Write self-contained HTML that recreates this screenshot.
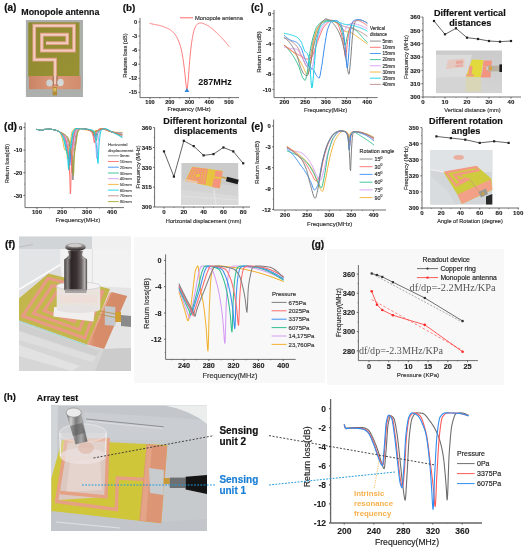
<!DOCTYPE html><html><head><meta charset="utf-8"><style>html,body{margin:0;padding:0;background:#fff;}svg{display:block}</style></head><body>
<svg width="526" height="550" viewBox="0 0 526 550">
<rect width="526" height="550" fill="#ffffff"/>
<rect x="134" y="237" width="191" height="146" fill="#f8f8f8"/>
<rect x="327" y="249" width="177" height="136" fill="#f8f8f8"/>
<defs>
<linearGradient id="gA_cu" x1="0" y1="0" x2="1" y2="0"><stop offset="0" stop-color="#c98466"/><stop offset="0.5" stop-color="#dc9a7a"/><stop offset="1" stop-color="#d08c6c"/></linearGradient>
<linearGradient id="gA_ol" x1="0" y1="0" x2="1" y2="1"><stop offset="0" stop-color="#8e8830"/><stop offset="1" stop-color="#999234"/></linearGradient>
<linearGradient id="gW" x1="0" y1="0" x2="1" y2="0"><stop offset="0" stop-color="#4a4444"/><stop offset="0.15" stop-color="#8a8686"/><stop offset="0.3" stop-color="#2e2626"/><stop offset="0.55" stop-color="#3c3434"/><stop offset="0.75" stop-color="#6a6262"/><stop offset="0.9" stop-color="#b8b4b4"/><stop offset="1" stop-color="#4a4444"/></linearGradient>
<linearGradient id="gWk" x1="0" y1="0" x2="0" y2="1"><stop offset="0" stop-color="#b8b4b4"/><stop offset="0.45" stop-color="#8a8484"/><stop offset="0.8" stop-color="#3e3838"/><stop offset="1" stop-color="#5a5454"/></linearGradient>
<linearGradient id="gWh" x1="0" y1="0" x2="1" y2="0"><stop offset="0" stop-color="#707070"/><stop offset="0.2" stop-color="#d0d0d0"/><stop offset="0.45" stop-color="#7a7a7a"/><stop offset="0.7" stop-color="#a8a8a8"/><stop offset="1" stop-color="#606060"/></linearGradient>
<linearGradient id="gD_pcb" x1="0" y1="0" x2="1" y2="0"><stop offset="0" stop-color="#f09a80"/><stop offset="0.5" stop-color="#e6b448"/><stop offset="1" stop-color="#eea078"/></linearGradient>
<linearGradient id="gC_bg" x1="0" y1="0" x2="0" y2="1"><stop offset="0" stop-color="#cbcbcb"/><stop offset="1" stop-color="#d4d4d4"/></linearGradient>
<linearGradient id="gF_cu" x1="0" y1="0" x2="1" y2="0"><stop offset="0" stop-color="#e6a086"/><stop offset="0.2" stop-color="#d88c6a"/><stop offset="1" stop-color="#d48a68"/></linearGradient>
</defs>
<rect x="25.9" y="20" width="57.1" height="77" fill="#adafad"/>
<rect x="28.3" y="22.3" width="51.2" height="55" fill="url(#gA_ol)"/>
<rect x="29" y="76" width="51.6" height="13.2" fill="url(#gA_cu)"/>
<path d="M55.1,84 V59.7 H34.25 V25.7 H74 V50.6 H41.8 V34.7 H67.2 V43.1 H46" fill="none" stroke="#e0a088" stroke-width="3.7" stroke-linejoin="miter"/>
<path d="M55.1,84 V59.7 H34.25 V25.7 H74 V50.6 H41.8 V34.7 H67.2 V43.1 H46" fill="none" stroke="#f4d2c4" stroke-width="1.9" stroke-linejoin="miter" opacity="0.9"/>
<line x1="53.2" y1="76" x2="53.2" y2="86" stroke="#6a5040" stroke-width="0.6"/>
<line x1="57" y1="76" x2="57" y2="86" stroke="#6a5040" stroke-width="0.6"/>
<ellipse cx="49.5" cy="83" rx="3.2" ry="3.6" fill="#cfd2d2"/>
<ellipse cx="60.5" cy="82.5" rx="3.2" ry="3.8" fill="#d6d9d9"/>
<rect x="52.6" y="87" width="4.4" height="8.4" fill="#b08c3a"/>
<rect x="53.3" y="88" width="3" height="3.5" fill="#d8b860"/>
<rect x="436" y="50.5" width="66" height="42.599999999999994" fill="url(#gC_bg)"/>
<polygon points="436.0,54.8 472.0,54.8 466.0,77.0 436.0,78.0" fill="#dcdcdc"/>
<polygon points="436.0,78.0 466.0,77.0 466.0,93.1 436.0,93.1" fill="#d4d4d4"/>
<polygon points="448.0,60.0 464.5,58.5 464.5,67.0 446.0,69.0" fill="#eeb4a4" opacity="0.5"/>
<polygon points="456.0,61.0 463.0,60.5 463.0,63.5 456.0,64.0" fill="#ec9080" opacity="0.6"/>
<polygon points="455.5,65.0 463.0,64.5 463.0,66.5 455.5,67.0" fill="#ec9080" opacity="0.5"/>
<polygon points="472.0,59.5 483.5,60.0 480.7,77.6 465.9,76.6" fill="#e2da3c"/>
<polygon points="465.9,77.0 481.2,77.6 481.2,91.8 465.5,91.8" fill="#d8d6b6"/>
<polygon points="469.3,66.0 472.6,66.0 471.6,74.5 468.2,74.5" fill="#f29a80"/>
<polygon points="466.5,74.2 474.0,74.4 473.8,76.4 466.2,76.2" fill="#f29a80"/>
<polygon points="483.5,60.5 492.0,60.5 491.5,66.5 483.0,66.5" fill="#f29580"/>
<polygon points="482.6,70.0 491.0,70.0 490.6,77.6 480.7,77.6" fill="#f29580"/>
<polygon points="483.0,66.5 486.5,66.5 486.3,70.0 482.6,70.0" fill="#f29580"/>
<rect x="488" y="65.7" width="11.7" height="5.7" fill="#b8b0a0"/>
<rect x="489" y="66.6" width="3" height="3.6" fill="#d8a040"/>
<rect x="499.4" y="64.4" width="2.6" height="7.6" fill="#1a1a1a"/>
<rect x="181.4" y="163" width="56.79999999999998" height="42" fill="#cbcbcb"/>
<polygon points="181.4,180.0 238.2,186.0 238.2,205.0 181.4,205.0" fill="#d3d3d3"/>
<polygon points="181.4,190.0 238.2,196.0 238.2,205.0 181.4,205.0" fill="#d9d9d9"/>
<line x1="181.4" y1="196" x2="238.2" y2="200" stroke="#e2e2e2" stroke-width="1"/>
<line x1="214" y1="190" x2="216" y2="205" stroke="#e4e4e4" stroke-width="1.2"/>
<polygon points="192.0,166.8 222.8,170.8 219.9,188.5 185.1,181.1" fill="#e6c440"/>
<polygon points="192.8,168.1 206.9,169.8 204.6,183.5 187.2,180.5" fill="none" stroke="#f29478" stroke-width="1.7"/>
<polygon points="194.4,170.4 204.0,171.6 202.4,180.9 190.6,178.9" fill="none" stroke="#f29478" stroke-width="1.7"/>
<polygon points="196.0,172.8 201.1,173.4 200.3,178.4 194.0,177.3" fill="none" stroke="#f29478" stroke-width="1.7"/>
<polygon points="186.0,179.0 198.0,181.5 197.0,184.0 185.1,181.1" fill="#e8e0d8" opacity="0.6"/>
<polygon points="215.5,170.6 222.6,171.4 221.6,177.2 214.6,176.4" fill="#f4947c"/>
<polygon points="213.6,178.2 220.9,179.0 219.7,188.3 212.1,187.0" fill="#f4947c"/>
<line x1="221.5" y1="177" x2="227" y2="178.5" stroke="#c8a050" stroke-width="1.6"/>
<line x1="226.5" y1="179" x2="238.2" y2="182" stroke="#1c1c1c" stroke-width="4.6"/>
<rect x="430.3" y="150" width="62.0" height="54.599999999999994" fill="#d2d6d8"/>
<polygon points="430.3,150.0 492.3,150.0 492.3,172.0 446.0,172.5 430.3,169.5" fill="#e0e3e5"/>
<line x1="430.3" y1="169.5" x2="446" y2="172.5" stroke="#f2f2f2" stroke-width="1"/>
<ellipse cx="458.7" cy="157.4" rx="5.2" ry="2.4" fill="#eca08e" opacity="0.8"/>
<polygon points="430.3,176.0 447.0,190.0 455.0,204.6 430.3,204.6" fill="#d8dcde"/>
<polygon points="443.7,172.5 476.9,166.2 491.4,178.7 492.3,190.0 461.9,204.0 458.1,195.7" fill="#cfcb3e"/>
<polygon points="457.5,194.4 490.7,179.4 492.3,189.6 461.9,204.0" fill="#f2a088"/>
<polyline points="469.4,178.7 456.2,185.6 446.0,172.4 476.3,166.9 478.4,170.2 454.3,175.0 459.6,181.4 466.5,178.0" fill="none" stroke="#f29a84" stroke-width="2.3" stroke-linejoin="miter"/>
<polyline points="462.5,177.2 458.5,173.8 472.5,171.2" fill="none" stroke="#f29a84" stroke-width="1.6"/>
<line x1="469.4" y1="178.7" x2="481" y2="194.4" stroke="#c8a070" stroke-width="0.9"/>
<polygon points="478.5,192.0 486.0,188.5 488.0,194.0 481.0,197.5" fill="#9a9a90"/>
<rect x="481.5" y="192.5" width="2.6" height="2.6" fill="#d0a040"/>
<polygon points="486.0,196.5 492.3,194.0 492.3,204.6 486.0,204.6" fill="#2a2a2a"/>
<rect x="19" y="236.6" width="112" height="134.4" fill="#e4e4e4"/>
<rect x="19" y="236.6" width="73" height="12.5" fill="#d2d5d8"/>
<rect x="92" y="236.6" width="39" height="12.5" fill="#f0f0f0"/>
<line x1="19" y1="247" x2="33" y2="244.5" stroke="#b8b8b8" stroke-width="0.8"/>
<polygon points="19.0,249.0 60.3,249.0 60.3,265.0 19.0,290.0" fill="#e2e4e6"/>
<polygon points="60.3,249.0 131.0,249.0 131.0,288.0 110.0,287.0 60.3,283.0" fill="#f2f2f2"/>
<line x1="92.4" y1="249" x2="92.4" y2="284" stroke="#e0e0e0" stroke-width="1"/>
<line x1="19" y1="289.5" x2="60.3" y2="264.8" stroke="#fbfbfb" stroke-width="1.6"/>
<polygon points="19.0,291.0 60.3,266.0 62.0,276.0 19.0,299.0" fill="#dedede"/>
<polygon points="48.5,273.5 110.0,289.0 88.0,345.0 19.0,320.5 19.0,298.5" fill="#c2b64c"/>
<polygon points="48.0,278.3 102.6,291.9 84.7,338.0 22.7,315.9" fill="none" stroke="#e89a86" stroke-width="3.0" stroke-linejoin="miter"/>
<polygon points="52.2,285.4 92.8,295.5 79.5,329.8 33.4,313.4" fill="none" stroke="#e89a86" stroke-width="3.0" stroke-linejoin="miter"/>
<polygon points="56.5,292.4 83.1,299.1 74.4,321.6 44.0,310.8" fill="none" stroke="#e89a86" stroke-width="3.0" stroke-linejoin="miter"/>
<polygon points="111.6,292.0 127.2,296.0 104.1,349.0 86.9,344.5" fill="url(#gF_cu)"/>
<line x1="110.5" y1="292.5" x2="88" y2="344.5" stroke="#eaa48a" stroke-width="1.6"/>
<polygon points="104.8,306.0 115.3,307.0 115.3,326.0 104.8,325.0" fill="#c4c8cc"/>
<line x1="100" y1="311" x2="116" y2="314" stroke="#b89040" stroke-width="0.8"/>
<line x1="100" y1="314.5" x2="116" y2="317.5" stroke="#b89040" stroke-width="0.8"/>
<rect x="115.5" y="312" width="5.5" height="10" fill="#cfa030"/>
<polygon points="121.0,315.0 131.0,316.0 131.0,327.0 121.0,326.0" fill="#8a8a8a"/>
<polygon points="19.0,320.5 88.0,345.0 104.0,349.0 131.0,348.0 131.0,371.0 19.0,371.0" fill="#d6d6d6"/>
<line x1="19" y1="321" x2="87" y2="345.5" stroke="#98d4cc" stroke-width="0.9"/>
<polygon points="19.0,323.0 100.0,351.0 96.0,356.0 19.0,331.0" fill="#cfcfcf"/>
<polygon points="19.0,331.0 96.0,357.0 92.0,362.0 19.0,340.0" fill="#dedede"/>
<polygon points="19.0,345.0 80.0,366.0 72.0,371.0 19.0,356.0" fill="#e2e2e2"/>
<polygon points="104.0,349.0 131.0,348.0 131.0,371.0 95.0,371.0" fill="#cccccc"/>
<polygon points="54.2,307.0 95.0,307.5 93.5,321.6 53.3,316.6" fill="#f1eeee"/>
<rect x="56.7" y="286" width="43.5" height="23" fill="#ece8e8" opacity="0.92"/>
<ellipse cx="78.5" cy="309" rx="21.8" ry="4" fill="#e6e2e2"/>
<ellipse cx="78.5" cy="286" rx="21.8" ry="4" fill="#f4f2f2" stroke="#cfcfcf" stroke-width="0.8"/>
<rect x="60" y="295" width="37" height="8" fill="#f0dcd6" opacity="0.6"/>
<rect x="64.2" y="258.5" width="22.9" height="32" rx="1.5" fill="url(#gW)"/>
<rect x="65" y="289" width="21.5" height="4" fill="#9a9494" opacity="0.8"/>
<path d="M67.8,251 L83.2,251 L82,255 L86,259 L65.5,259 L69,255 Z" fill="url(#gW)"/>
<ellipse cx="75.5" cy="247" rx="10.4" ry="4.3" fill="url(#gWk)"/>
<ellipse cx="75" cy="245.4" rx="7" ry="1.8" fill="#d8d4d4" opacity="0.85"/>
<rect x="51" y="405.6" width="156" height="125.39999999999998" fill="#c6cacd"/>
<polygon points="51.0,405.6 207.0,405.6 207.0,440.0 51.0,440.0" fill="#c3c7cb"/>
<polygon points="84.0,412.0 207.0,420.0 207.0,440.0 84.0,440.0" fill="#cacdd1"/>
<path d="M165,405.6 H207 V424 Q190,410 165,405.6 Z" fill="#eceded"/>
<rect x="51" y="405.6" width="4" height="110" fill="#b4b8bc"/>
<line x1="86" y1="419" x2="163.7" y2="426.8" stroke="#8e9296" stroke-width="1"/>
<line x1="86" y1="421" x2="163" y2="428.6" stroke="#dfe1e3" stroke-width="0.8"/>
<polygon points="51.0,405.6 58.0,405.6 56.0,505.0 51.0,510.0" fill="#d2d5d8"/>
<polygon points="51.0,509.0 158.0,522.0 207.0,519.0 207.0,531.0 51.0,531.0" fill="#c2c6ca"/>
<line x1="56" y1="522" x2="120" y2="528" stroke="#dfe1e3" stroke-width="1.2"/>
<polygon points="62.0,440.0 167.3,445.1 161.2,523.2 51.4,511.0 51.4,478.0" fill="#d0c63a"/>
<polygon points="64.0,442.0 108.0,440.0 106.0,497.0 58.0,500.0" fill="#dcc8c0"/>
<polygon points="70.0,462.0 100.0,458.0 102.0,490.0 66.0,492.0" fill="#e6d6d0" opacity="0.85"/>
<polyline points="152.0,479.8 117.3,478.0 116.4,509.5 56.5,501.5 64.8,451.0 66.0,441.0 108.0,439.5 106.0,497.0 60.0,492.5" fill="none" stroke="#e6a084" stroke-width="3.4" stroke-linejoin="miter"/>
<polygon points="146.6,443.9 167.3,445.9 161.2,523.2 139.3,520.7" fill="#dc9676"/>
<polygon points="147.0,445.0 152.0,445.5 146.0,521.0 140.5,520.5" fill="#e6a88c" opacity="0.8"/>
<polygon points="149.0,468.0 163.7,470.0 163.7,495.0 150.0,493.0" fill="#c8ccce"/>
<rect x="163.7" y="478" width="6.1" height="6" fill="#c89a3a"/>
<rect x="169.8" y="477.6" width="15.8" height="10.4" fill="#6c7072"/>
<polygon points="185.6,476.8 207.0,475.0 207.0,494.0 185.6,489.5" fill="#141414"/>
<ellipse cx="83" cy="456" rx="23.4" ry="8" fill="#ece2e0" opacity="0.75"/>
<rect x="59.6" y="433" width="46.8" height="23" fill="#e8e0de" opacity="0.4"/>
<ellipse cx="83" cy="433" rx="23.4" ry="9" fill="#e0e0e2" opacity="0.45" stroke="#f6f4f4" stroke-width="1.4"/>
<line x1="59.8" y1="433" x2="60.5" y2="456" stroke="#f0eeee" stroke-width="1.2"/>
<line x1="106.2" y1="433" x2="105.5" y2="456" stroke="#f0eeee" stroke-width="1.2"/>
<ellipse cx="86" cy="448" rx="8" ry="6" fill="#e0b4a4" opacity="0.6"/>
<polygon points="66.7,414.5 80.5,410.5 87.5,441.5 75.5,444.5" fill="url(#gWh)"/>
<polygon points="70.0,426.0 82.0,423.0 85.0,433.0 73.0,436.0" fill="#5a5a5a" opacity="0.55"/>
<ellipse cx="73.7" cy="412.6" rx="7.6" ry="4.6" fill="#ebebeb" stroke="#7e7e7e" stroke-width="0.6"/>
<text x="4.2" y="11.3" font-size="10.0" fill="#111" text-anchor="start" font-family="'Liberation Sans', Arial, sans-serif" font-weight="bold" stroke="#111" stroke-width="0.2">(a)</text>
<text x="21.3" y="15.2" font-size="8.85" fill="#111" text-anchor="start" font-family="'Liberation Sans', Arial, sans-serif" font-weight="bold" stroke="#111" stroke-width="0.15">Monopole antenna</text>
<text x="122.8" y="10.9" font-size="9.9" fill="#111" text-anchor="start" font-family="'Liberation Sans', Arial, sans-serif" font-weight="bold" stroke="#111" stroke-width="0.2">(b)</text>
<line x1="140.0" y1="18.0" x2="140.0" y2="97.6" stroke="#4a4a4a" stroke-width="0.8"/>
<line x1="140.0" y1="97.6" x2="239.0" y2="97.6" stroke="#4a4a4a" stroke-width="0.8"/>
<line x1="150.0" y1="97.6" x2="150.0" y2="99.2" stroke="#4a4a4a" stroke-width="0.8"/>
<text x="150.0" y="103.8" font-size="5.6" fill="#222" text-anchor="middle" font-family="'Liberation Sans', Arial, sans-serif" font-weight="bold" stroke="#222" stroke-width="0.12">100</text>
<line x1="169.8" y1="97.6" x2="169.8" y2="99.2" stroke="#4a4a4a" stroke-width="0.8"/>
<text x="169.8" y="103.8" font-size="5.6" fill="#222" text-anchor="middle" font-family="'Liberation Sans', Arial, sans-serif" font-weight="bold" stroke="#222" stroke-width="0.12">200</text>
<line x1="189.5" y1="97.6" x2="189.5" y2="99.2" stroke="#4a4a4a" stroke-width="0.8"/>
<text x="189.5" y="103.8" font-size="5.6" fill="#222" text-anchor="middle" font-family="'Liberation Sans', Arial, sans-serif" font-weight="bold" stroke="#222" stroke-width="0.12">300</text>
<line x1="209.2" y1="97.6" x2="209.2" y2="99.2" stroke="#4a4a4a" stroke-width="0.8"/>
<text x="209.2" y="103.8" font-size="5.6" fill="#222" text-anchor="middle" font-family="'Liberation Sans', Arial, sans-serif" font-weight="bold" stroke="#222" stroke-width="0.12">400</text>
<line x1="229.0" y1="97.6" x2="229.0" y2="99.2" stroke="#4a4a4a" stroke-width="0.8"/>
<text x="229.0" y="103.8" font-size="5.6" fill="#222" text-anchor="middle" font-family="'Liberation Sans', Arial, sans-serif" font-weight="bold" stroke="#222" stroke-width="0.12">500</text>
<line x1="138.4" y1="22.0" x2="140.0" y2="22.0" stroke="#4a4a4a" stroke-width="0.8"/>
<text x="137.2" y="24.0" font-size="5.6" fill="#222" text-anchor="end" font-family="'Liberation Sans', Arial, sans-serif" font-weight="bold" stroke="#222" stroke-width="0.12">0</text>
<line x1="138.4" y1="36.1" x2="140.0" y2="36.1" stroke="#4a4a4a" stroke-width="0.8"/>
<text x="137.2" y="38.1" font-size="5.6" fill="#222" text-anchor="end" font-family="'Liberation Sans', Arial, sans-serif" font-weight="bold" stroke="#222" stroke-width="0.12">-3</text>
<line x1="138.4" y1="50.1" x2="140.0" y2="50.1" stroke="#4a4a4a" stroke-width="0.8"/>
<text x="137.2" y="52.2" font-size="5.6" fill="#222" text-anchor="end" font-family="'Liberation Sans', Arial, sans-serif" font-weight="bold" stroke="#222" stroke-width="0.12">-6</text>
<line x1="138.4" y1="64.2" x2="140.0" y2="64.2" stroke="#4a4a4a" stroke-width="0.8"/>
<text x="137.2" y="66.2" font-size="5.6" fill="#222" text-anchor="end" font-family="'Liberation Sans', Arial, sans-serif" font-weight="bold" stroke="#222" stroke-width="0.12">-9</text>
<line x1="138.4" y1="78.3" x2="140.0" y2="78.3" stroke="#4a4a4a" stroke-width="0.8"/>
<text x="137.2" y="80.3" font-size="5.6" fill="#222" text-anchor="end" font-family="'Liberation Sans', Arial, sans-serif" font-weight="bold" stroke="#222" stroke-width="0.12">-12</text>
<line x1="138.4" y1="92.4" x2="140.0" y2="92.4" stroke="#4a4a4a" stroke-width="0.8"/>
<text x="137.2" y="94.4" font-size="5.6" fill="#222" text-anchor="end" font-family="'Liberation Sans', Arial, sans-serif" font-weight="bold" stroke="#222" stroke-width="0.12">-15</text>
<line x1="159.9" y1="97.6" x2="159.9" y2="98.6" stroke="#4a4a4a" stroke-width="0.5"/>
<line x1="179.6" y1="97.6" x2="179.6" y2="98.6" stroke="#4a4a4a" stroke-width="0.5"/>
<line x1="199.4" y1="97.6" x2="199.4" y2="98.6" stroke="#4a4a4a" stroke-width="0.5"/>
<line x1="219.1" y1="97.6" x2="219.1" y2="98.6" stroke="#4a4a4a" stroke-width="0.5"/>
<line x1="139.0" y1="29.0" x2="140.0" y2="29.0" stroke="#4a4a4a" stroke-width="0.5"/>
<line x1="139.0" y1="43.1" x2="140.0" y2="43.1" stroke="#4a4a4a" stroke-width="0.5"/>
<line x1="139.0" y1="57.2" x2="140.0" y2="57.2" stroke="#4a4a4a" stroke-width="0.5"/>
<line x1="139.0" y1="71.2" x2="140.0" y2="71.2" stroke="#4a4a4a" stroke-width="0.5"/>
<line x1="139.0" y1="85.3" x2="140.0" y2="85.3" stroke="#4a4a4a" stroke-width="0.5"/>
<text x="189.0" y="110.8" font-size="5.6" fill="#2a2a2a" text-anchor="middle" font-family="'Liberation Sans', Arial, sans-serif" stroke="#2a2a2a" stroke-width="0.16">Frequency (MHz)</text>
<text x="126.8" y="55.5" font-size="5.7" fill="#2a2a2a" text-anchor="middle" font-family="'Liberation Sans', Arial, sans-serif" transform="rotate(-90 126.8 55.5)" stroke="#2a2a2a" stroke-width="0.16">Returen loss (dB)</text>
<polyline points="150.00,23.41 150.40,23.51 150.79,23.61 151.19,23.70 151.59,23.80 151.98,23.90 152.38,23.99 152.78,24.08 153.18,24.17 153.57,24.26 153.97,24.35 154.37,24.43 154.76,24.51 155.16,24.59 155.56,24.66 155.95,24.73 156.35,24.80 156.75,24.87 157.15,24.95 157.54,25.02 157.94,25.09 158.34,25.17 158.73,25.25 159.13,25.34 159.53,25.43 159.92,25.53 160.32,25.64 160.72,25.75 161.12,25.87 161.51,26.00 161.91,26.13 162.31,26.27 162.70,26.41 163.10,26.55 163.50,26.70 163.89,26.86 164.29,27.02 164.69,27.17 165.09,27.34 165.48,27.50 165.88,27.66 166.28,27.82 166.67,27.99 167.07,28.16 167.47,28.33 167.86,28.51 168.26,28.70 168.66,28.90 169.06,29.11 169.45,29.33 169.85,29.56 170.25,29.82 170.64,30.09 171.04,30.37 171.44,30.68 171.83,31.00 172.23,31.34 172.63,31.71 173.03,32.09 173.42,32.49 173.82,32.92 174.22,33.38 174.61,33.87 175.01,34.41 175.41,34.98 175.80,35.59 176.20,36.23 176.60,36.91 176.99,37.63 177.39,38.38 177.79,39.16 178.19,40.01 178.58,40.92 178.98,41.91 179.38,42.98 179.77,44.13 180.17,45.37 180.57,46.70 180.96,48.18 181.36,49.89 181.76,51.78 182.16,53.84 182.55,56.04 182.95,58.41 183.35,61.02 183.74,63.85 184.14,66.88 184.54,70.10 184.93,73.82 185.33,78.02 185.73,82.04 186.13,85.43 186.52,88.80 186.92,90.47 187.32,88.81 187.71,85.03 188.11,80.98 188.51,75.93 188.90,70.51 189.30,65.56 189.70,60.66 190.10,56.00 190.49,51.97 190.89,48.49 191.29,45.26 191.68,42.33 192.08,39.70 192.48,37.40 192.87,35.30 193.27,33.35 193.67,31.60 194.07,30.12 194.46,28.97 194.86,28.03 195.26,27.16 195.65,26.37 196.05,25.68 196.45,25.08 196.84,24.59 197.24,24.22 197.64,23.96 198.04,23.72 198.43,23.50 198.83,23.31 199.23,23.15 199.62,23.03 200.02,22.96 200.42,22.94 200.81,22.96 201.21,23.00 201.61,23.07 202.01,23.16 202.40,23.27 202.80,23.39 203.20,23.53 203.59,23.67 203.99,23.83 204.39,23.98 204.78,24.14 205.18,24.30 205.58,24.46 205.97,24.64 206.37,24.83 206.77,25.04 207.17,25.27 207.56,25.51 207.96,25.77 208.36,26.03 208.75,26.30 209.15,26.58 209.55,26.87 209.94,27.15 210.34,27.45 210.74,27.74 211.14,28.03 211.53,28.33 211.93,28.63 212.33,28.94 212.72,29.27 213.12,29.60 213.52,29.94 213.91,30.28 214.31,30.63 214.71,30.99 215.11,31.35 215.50,31.71 215.90,32.08 216.30,32.45 216.69,32.83 217.09,33.20 217.49,33.58 217.88,33.96 218.28,34.34 218.68,34.74 219.08,35.13 219.47,35.53 219.87,35.94 220.27,36.35 220.66,36.76 221.06,37.18 221.46,37.60 221.85,38.02 222.25,38.45 222.65,38.88 223.05,39.32 223.44,39.76 223.84,40.20 224.24,40.65 224.63,41.11 225.03,41.57 225.43,42.03 225.82,42.50 226.22,42.97 226.62,43.44 227.02,43.92 227.41,44.41 227.81,44.90 228.21,45.39 228.60,45.89 229.00,46.39" fill="none" stroke="#ff6b6b" stroke-width="0.9" stroke-linejoin="round" stroke-linecap="round"/>
<polygon points="186.9,87.9 184.5,92.1 189.3,92.1" fill="#2f86e0"/>
<line x1="180.0" y1="17.8" x2="193.0" y2="17.8" stroke="#ff6b6b" stroke-width="1.0"/>
<text x="195.0" y="19.9" font-size="5.8" fill="#333" text-anchor="start" font-family="'Liberation Sans', Arial, sans-serif" stroke="#333" stroke-width="0.16">Monopole antenna</text>
<text x="198.3" y="84.8" font-size="9.0" fill="#111" text-anchor="start" font-family="'Liberation Sans', Arial, sans-serif" font-weight="bold">287MHz</text>
<text x="251.0" y="10.9" font-size="10.0" fill="#111" text-anchor="start" font-family="'Liberation Sans', Arial, sans-serif" font-weight="bold" stroke="#111" stroke-width="0.2">(c)</text>
<line x1="274.0" y1="10.0" x2="274.0" y2="97.6" stroke="#4a4a4a" stroke-width="0.8"/>
<line x1="274.0" y1="97.6" x2="377.6" y2="97.6" stroke="#4a4a4a" stroke-width="0.8"/>
<line x1="284.4" y1="97.6" x2="284.4" y2="99.2" stroke="#4a4a4a" stroke-width="0.8"/>
<text x="284.4" y="104.2" font-size="5.9" fill="#222" text-anchor="middle" font-family="'Liberation Sans', Arial, sans-serif" font-weight="bold" stroke="#222" stroke-width="0.12">200</text>
<line x1="305.1" y1="97.6" x2="305.1" y2="99.2" stroke="#4a4a4a" stroke-width="0.8"/>
<text x="305.1" y="104.2" font-size="5.9" fill="#222" text-anchor="middle" font-family="'Liberation Sans', Arial, sans-serif" font-weight="bold" stroke="#222" stroke-width="0.12">250</text>
<line x1="325.8" y1="97.6" x2="325.8" y2="99.2" stroke="#4a4a4a" stroke-width="0.8"/>
<text x="325.8" y="104.2" font-size="5.9" fill="#222" text-anchor="middle" font-family="'Liberation Sans', Arial, sans-serif" font-weight="bold" stroke="#222" stroke-width="0.12">300</text>
<line x1="346.4" y1="97.6" x2="346.4" y2="99.2" stroke="#4a4a4a" stroke-width="0.8"/>
<text x="346.4" y="104.2" font-size="5.9" fill="#222" text-anchor="middle" font-family="'Liberation Sans', Arial, sans-serif" font-weight="bold" stroke="#222" stroke-width="0.12">350</text>
<line x1="367.1" y1="97.6" x2="367.1" y2="99.2" stroke="#4a4a4a" stroke-width="0.8"/>
<text x="367.1" y="104.2" font-size="5.9" fill="#222" text-anchor="middle" font-family="'Liberation Sans', Arial, sans-serif" font-weight="bold" stroke="#222" stroke-width="0.12">400</text>
<line x1="272.4" y1="13.6" x2="274.0" y2="13.6" stroke="#4a4a4a" stroke-width="0.8"/>
<text x="271.2" y="15.7" font-size="5.9" fill="#222" text-anchor="end" font-family="'Liberation Sans', Arial, sans-serif" font-weight="bold" stroke="#222" stroke-width="0.12">0</text>
<line x1="272.4" y1="28.8" x2="274.0" y2="28.8" stroke="#4a4a4a" stroke-width="0.8"/>
<text x="271.2" y="30.9" font-size="5.9" fill="#222" text-anchor="end" font-family="'Liberation Sans', Arial, sans-serif" font-weight="bold" stroke="#222" stroke-width="0.12">-2</text>
<line x1="272.4" y1="43.9" x2="274.0" y2="43.9" stroke="#4a4a4a" stroke-width="0.8"/>
<text x="271.2" y="46.0" font-size="5.9" fill="#222" text-anchor="end" font-family="'Liberation Sans', Arial, sans-serif" font-weight="bold" stroke="#222" stroke-width="0.12">-4</text>
<line x1="272.4" y1="59.1" x2="274.0" y2="59.1" stroke="#4a4a4a" stroke-width="0.8"/>
<text x="271.2" y="61.2" font-size="5.9" fill="#222" text-anchor="end" font-family="'Liberation Sans', Arial, sans-serif" font-weight="bold" stroke="#222" stroke-width="0.12">-6</text>
<line x1="272.4" y1="74.2" x2="274.0" y2="74.2" stroke="#4a4a4a" stroke-width="0.8"/>
<text x="271.2" y="76.4" font-size="5.9" fill="#222" text-anchor="end" font-family="'Liberation Sans', Arial, sans-serif" font-weight="bold" stroke="#222" stroke-width="0.12">-8</text>
<line x1="272.4" y1="89.4" x2="274.0" y2="89.4" stroke="#4a4a4a" stroke-width="0.8"/>
<text x="271.2" y="91.5" font-size="5.9" fill="#222" text-anchor="end" font-family="'Liberation Sans', Arial, sans-serif" font-weight="bold" stroke="#222" stroke-width="0.12">-10</text>
<line x1="294.7" y1="97.6" x2="294.7" y2="98.6" stroke="#4a4a4a" stroke-width="0.5"/>
<line x1="315.4" y1="97.6" x2="315.4" y2="98.6" stroke="#4a4a4a" stroke-width="0.5"/>
<line x1="336.1" y1="97.6" x2="336.1" y2="98.6" stroke="#4a4a4a" stroke-width="0.5"/>
<line x1="356.8" y1="97.6" x2="356.8" y2="98.6" stroke="#4a4a4a" stroke-width="0.5"/>
<line x1="273.0" y1="21.2" x2="274.0" y2="21.2" stroke="#4a4a4a" stroke-width="0.5"/>
<line x1="273.0" y1="36.3" x2="274.0" y2="36.3" stroke="#4a4a4a" stroke-width="0.5"/>
<line x1="273.0" y1="51.5" x2="274.0" y2="51.5" stroke="#4a4a4a" stroke-width="0.5"/>
<line x1="273.0" y1="66.7" x2="274.0" y2="66.7" stroke="#4a4a4a" stroke-width="0.5"/>
<line x1="273.0" y1="81.8" x2="274.0" y2="81.8" stroke="#4a4a4a" stroke-width="0.5"/>
<text x="325.6" y="112.4" font-size="5.8" fill="#333" text-anchor="middle" font-family="'Liberation Sans', Arial, sans-serif" stroke="#333" stroke-width="0.16">Frequency(MHz)</text>
<text x="261.2" y="52.0" font-size="6.0" fill="#333" text-anchor="middle" font-family="'Liberation Sans', Arial, sans-serif" transform="rotate(-90 261.2 52)" stroke="#333" stroke-width="0.16">Return loss(dB)</text>
<polyline points="284.40,37.86 284.82,37.99 285.23,38.14 285.65,38.29 286.06,38.46 286.48,38.64 286.89,38.83 287.31,39.03 287.72,39.24 288.14,39.46 288.56,39.68 288.97,39.91 289.39,40.15 289.80,40.40 290.22,40.65 290.63,40.91 291.05,41.17 291.46,41.44 291.88,41.72 292.30,42.01 292.71,42.31 293.13,42.62 293.54,42.95 293.96,43.30 294.37,43.66 294.79,44.04 295.21,44.44 295.62,44.86 296.04,45.31 296.45,45.78 296.87,46.27 297.28,46.84 297.70,47.50 298.11,48.24 298.53,49.05 298.95,49.91 299.36,50.82 299.78,51.77 300.19,52.74 300.61,53.73 301.02,54.71 301.44,55.68 301.85,56.64 302.27,57.56 302.69,58.44 303.10,59.26 303.52,60.16 303.93,61.13 304.35,62.14 304.76,63.15 305.18,64.11 305.59,64.97 306.01,65.70 306.43,66.25 306.84,66.58 307.26,66.64 307.67,66.27 308.09,65.50 308.50,64.42 308.92,63.10 309.33,61.64 309.75,60.12 310.17,58.59 310.58,56.62 311.00,54.20 311.41,51.50 311.83,48.68 312.24,45.91 312.66,43.37 313.07,41.23 313.49,39.61 313.91,38.18 314.32,36.81 314.74,35.50 315.15,34.25 315.57,33.06 315.98,31.94 316.40,30.88 316.82,29.88 317.23,28.95 317.65,28.09 318.06,27.28 318.48,26.55 318.89,25.88 319.31,25.28 319.72,24.75 320.14,24.22 320.56,23.70 320.97,23.19 321.39,22.69 321.80,22.22 322.22,21.77 322.63,21.35 323.05,20.96 323.46,20.62 323.88,20.32 324.30,20.07 324.71,19.88 325.13,19.74 325.54,19.67 325.96,19.67 326.37,19.67 326.79,19.69 327.20,19.72 327.62,19.75 328.04,19.79 328.45,19.84 328.87,19.89 329.28,19.95 329.70,20.02 330.11,20.08 330.53,20.16 330.94,20.23 331.36,20.31 331.78,20.39 332.19,20.47 332.61,20.59 333.02,20.73 333.44,20.89 333.85,21.07 334.27,21.27 334.68,21.49 335.10,21.71 335.52,21.95 335.93,22.19 336.35,22.43 336.76,22.68 337.18,22.92 337.59,23.15 338.01,23.38 338.43,23.60 338.84,23.83 339.26,24.07 339.67,24.31 340.09,24.55 340.50,24.80 340.92,25.03 341.33,25.26 341.75,25.47 342.17,25.67 342.58,25.85 343.00,26.03 343.41,26.20 343.83,26.36 344.24,26.52 344.66,26.67 345.07,26.81 345.49,26.95 345.91,27.09 346.32,27.21 346.74,27.33 347.15,27.45 347.57,27.56 347.98,27.66 348.40,27.75 348.81,27.85 349.23,27.94 349.65,28.03 350.06,28.12 350.48,28.22 350.89,28.31 351.31,28.41 351.72,28.51 352.14,28.62 352.55,28.74 352.97,28.86 353.39,28.99 353.80,29.12 354.22,29.25 354.63,29.39 355.05,29.53 355.46,29.67 355.88,29.82 356.29,29.98 356.71,30.14 357.13,30.30 357.54,30.47 357.96,30.65 358.37,30.83 358.79,31.01 359.20,31.21 359.62,31.41 360.04,31.62 360.45,31.84 360.87,32.07 361.28,32.31 361.70,32.55 362.11,32.80 362.53,33.06 362.94,33.32 363.36,33.60 363.78,33.88 364.19,34.16 364.61,34.45 365.02,34.75 365.44,35.06 365.85,35.37 366.27,35.69 366.68,36.01 367.10,36.34" fill="none" stroke="#c08a8a" stroke-width="1.0" stroke-linejoin="round" stroke-linecap="round"/>
<polyline points="284.40,46.95 284.82,47.08 285.23,47.20 285.65,47.32 286.06,47.44 286.48,47.55 286.89,47.66 287.31,47.77 287.72,47.88 288.14,47.98 288.56,48.07 288.97,48.16 289.39,48.25 289.80,48.33 290.22,48.40 290.63,48.47 291.05,48.53 291.46,48.59 291.88,48.63 292.30,48.67 292.71,48.71 293.13,48.74 293.54,48.77 293.96,48.81 294.37,48.85 294.79,48.89 295.21,48.94 295.62,49.00 296.04,49.07 296.45,49.15 296.87,49.24 297.28,49.46 297.70,49.84 298.11,50.35 298.53,50.97 298.95,51.67 299.36,52.43 299.78,53.20 300.19,53.98 300.61,54.73 301.02,55.43 301.44,56.12 301.85,56.84 302.27,57.59 302.69,58.35 303.10,59.13 303.52,59.92 303.93,60.72 304.35,61.52 304.76,62.32 305.18,63.11 305.59,63.90 306.01,64.67 306.43,65.42 306.84,66.15 307.26,66.86 307.67,67.65 308.09,68.52 308.50,69.37 308.92,70.14 309.33,70.75 309.75,71.13 310.17,71.19 310.58,70.91 311.00,70.34 311.41,69.52 311.83,68.53 312.24,67.43 312.66,66.20 313.07,64.21 313.49,61.51 313.91,58.36 314.32,55.06 314.74,51.88 315.15,49.11 315.57,46.97 315.98,45.05 316.40,43.21 316.82,41.45 317.23,39.79 317.65,38.22 318.06,36.77 318.48,35.43 318.89,34.21 319.31,33.12 319.72,32.15 320.14,31.22 320.56,30.33 320.97,29.46 321.39,28.62 321.80,27.82 322.22,27.06 322.63,26.35 323.05,25.68 323.46,25.06 323.88,24.49 324.30,23.98 324.71,23.53 325.13,23.15 325.54,22.83 325.96,22.57 326.37,22.33 326.79,22.10 327.20,21.87 327.62,21.66 328.04,21.45 328.45,21.26 328.87,21.09 329.28,20.93 329.70,20.79 330.11,20.67 330.53,20.58 330.94,20.50 331.36,20.45 331.78,20.42 332.19,20.43 332.61,20.47 333.02,20.55 333.44,20.66 333.85,20.81 334.27,20.98 334.68,21.18 335.10,21.40 335.52,21.64 335.93,21.90 336.35,22.17 336.76,22.45 337.18,22.75 337.59,23.05 338.01,23.35 338.43,23.67 338.84,24.08 339.26,24.56 339.67,25.10 340.09,25.68 340.50,26.29 340.92,26.90 341.33,27.50 341.75,28.08 342.17,28.61 342.58,29.13 343.00,29.73 343.41,30.32 343.83,30.78 344.24,31.02 344.66,30.89 345.07,30.32 345.49,29.43 345.91,28.39 346.32,27.34 346.74,26.43 347.15,25.81 347.57,25.50 347.98,25.21 348.40,24.94 348.81,24.69 349.23,24.45 349.65,24.24 350.06,24.04 350.48,23.88 350.89,23.73 351.31,23.62 351.72,23.53 352.14,23.48 352.55,23.45 352.97,23.46 353.39,23.49 353.80,23.54 354.22,23.61 354.63,23.69 355.05,23.79 355.46,23.89 355.88,24.01 356.29,24.14 356.71,24.27 357.13,24.41 357.54,24.55 357.96,24.69 358.37,24.82 358.79,24.96 359.20,25.09 359.62,25.23 360.04,25.38 360.45,25.53 360.87,25.69 361.28,25.86 361.70,26.03 362.11,26.21 362.53,26.39 362.94,26.58 363.36,26.78 363.78,26.98 364.19,27.18 364.61,27.39 365.02,27.61 365.44,27.83 365.85,28.06 366.27,28.29 366.68,28.52 367.10,28.76" fill="none" stroke="#d69cf5" stroke-width="1.0" stroke-linejoin="round" stroke-linecap="round"/>
<polyline points="284.40,45.44 284.82,45.69 285.23,45.96 285.65,46.23 286.06,46.51 286.48,46.80 286.89,47.09 287.31,47.39 287.72,47.70 288.14,48.01 288.56,48.33 288.97,48.66 289.39,48.99 289.80,49.32 290.22,49.66 290.63,50.01 291.05,50.36 291.46,50.71 291.88,51.07 292.30,51.43 292.71,51.79 293.13,52.17 293.54,52.55 293.96,52.94 294.37,53.35 294.79,53.77 295.21,54.21 295.62,54.66 296.04,55.13 296.45,55.62 296.87,56.13 297.28,56.67 297.70,57.26 298.11,57.89 298.53,58.56 298.95,59.25 299.36,59.97 299.78,60.71 300.19,61.46 300.61,62.23 301.02,63.01 301.44,63.78 301.85,64.56 302.27,65.33 302.69,66.08 303.10,66.83 303.52,67.67 303.93,68.62 304.35,69.62 304.76,70.63 305.18,71.60 305.59,72.49 306.01,73.25 306.43,73.82 306.84,74.16 307.26,74.22 307.67,73.87 308.09,73.12 308.50,72.06 308.92,70.76 309.33,69.30 309.75,67.74 310.17,66.14 310.58,63.95 311.00,61.17 311.41,57.99 311.83,54.62 312.24,51.25 312.66,48.11 313.07,45.38 313.49,43.22 313.91,41.25 314.32,39.34 314.74,37.50 315.15,35.77 315.57,34.16 315.98,32.68 316.40,31.35 316.82,30.20 317.23,29.24 317.65,28.47 318.06,27.77 318.48,27.11 318.89,26.48 319.31,25.89 319.72,25.33 320.14,24.81 320.56,24.33 320.97,23.88 321.39,23.48 321.80,23.11 322.22,22.78 322.63,22.49 323.05,22.24 323.46,22.03 323.88,21.86 324.30,21.70 324.71,21.54 325.13,21.39 325.54,21.25 325.96,21.11 326.37,20.98 326.79,20.87 327.20,20.76 327.62,20.67 328.04,20.59 328.45,20.53 328.87,20.48 329.28,20.44 329.70,20.42 330.11,20.43 330.53,20.46 330.94,20.52 331.36,20.61 331.78,20.73 332.19,20.86 332.61,21.02 333.02,21.19 333.44,21.37 333.85,21.57 334.27,21.77 334.68,21.98 335.10,22.19 335.52,22.41 335.93,22.62 336.35,22.83 336.76,23.06 337.18,23.32 337.59,23.59 338.01,23.88 338.43,24.19 338.84,24.52 339.26,24.87 339.67,25.23 340.09,25.60 340.50,26.02 340.92,26.54 341.33,27.13 341.75,27.78 342.17,28.44 342.58,29.09 343.00,29.70 343.41,30.24 343.83,30.68 344.24,30.98 344.66,31.16 345.07,31.31 345.49,31.43 345.91,31.54 346.32,31.64 346.74,31.73 347.15,31.80 347.57,31.88 347.98,31.95 348.40,32.02 348.81,32.10 349.23,32.18 349.65,32.28 350.06,32.39 350.48,32.52 350.89,32.67 351.31,32.84 351.72,33.04 352.14,33.25 352.55,33.48 352.97,33.72 353.39,33.97 353.80,34.24 354.22,34.52 354.63,34.81 355.05,35.11 355.46,35.41 355.88,35.71 356.29,36.02 356.71,36.33 357.13,36.63 357.54,36.94 357.96,37.24 358.37,37.54 358.79,37.83 359.20,38.11 359.62,38.40 360.04,38.69 360.45,38.98 360.87,39.28 361.28,39.57 361.70,39.87 362.11,40.17 362.53,40.47 362.94,40.77 363.36,41.08 363.78,41.39 364.19,41.70 364.61,42.01 365.02,42.32 365.44,42.64 365.85,42.96 366.27,43.28 366.68,43.60 367.10,43.92" fill="none" stroke="#f2b233" stroke-width="1.0" stroke-linejoin="round" stroke-linecap="round"/>
<polyline points="284.40,45.44 284.82,45.79 285.23,46.16 285.65,46.55 286.06,46.96 286.48,47.38 286.89,47.82 287.31,48.28 287.72,48.75 288.14,49.23 288.56,49.73 288.97,50.25 289.39,50.77 289.80,51.31 290.22,51.86 290.63,52.42 291.05,52.98 291.46,53.56 291.88,54.15 292.30,54.75 292.71,55.35 293.13,55.97 293.54,56.61 293.96,57.27 294.37,57.94 294.79,58.64 295.21,59.36 295.62,60.10 296.04,60.87 296.45,61.65 296.87,62.46 297.28,63.28 297.70,64.13 298.11,65.01 298.53,65.90 298.95,66.83 299.36,67.87 299.78,69.05 300.19,70.33 300.61,71.65 301.02,72.99 301.44,74.28 301.85,75.49 302.27,76.57 302.69,77.47 303.10,78.17 303.52,78.81 303.93,79.41 304.35,79.91 304.76,80.22 305.18,80.28 305.59,79.64 306.01,78.31 306.43,76.47 306.84,74.33 307.26,72.05 307.67,69.81 308.09,67.01 308.50,63.67 308.92,60.09 309.33,56.54 309.75,53.35 310.17,50.76 310.58,48.45 311.00,46.26 311.41,44.21 311.83,42.27 312.24,40.47 312.66,38.80 313.07,37.27 313.49,35.86 313.91,34.49 314.32,33.16 314.74,31.87 315.15,30.65 315.57,29.51 315.98,28.46 316.40,27.53 316.82,26.72 317.23,26.05 317.65,25.53 318.06,25.06 318.48,24.61 318.89,24.18 319.31,23.78 319.72,23.40 320.14,23.05 320.56,22.72 320.97,22.42 321.39,22.15 321.80,21.90 322.22,21.69 322.63,21.50 323.05,21.35 323.46,21.23 323.88,21.14 324.30,21.05 324.71,20.97 325.13,20.90 325.54,20.83 325.96,20.76 326.37,20.70 326.79,20.64 327.20,20.59 327.62,20.54 328.04,20.50 328.45,20.47 328.87,20.45 329.28,20.43 329.70,20.42 330.11,20.42 330.53,20.44 330.94,20.48 331.36,20.53 331.78,20.60 332.19,20.68 332.61,20.77 333.02,20.88 333.44,21.00 333.85,21.12 334.27,21.26 334.68,21.40 335.10,21.55 335.52,21.71 335.93,21.88 336.35,22.05 336.76,22.26 337.18,22.51 337.59,22.79 338.01,23.13 338.43,23.51 338.84,23.93 339.26,24.41 339.67,24.94 340.09,25.53 340.50,26.26 340.92,27.37 341.33,28.81 341.75,30.46 342.17,32.25 342.58,34.08 343.00,35.85 343.41,37.71 343.83,40.06 344.24,42.43 344.66,44.37 345.07,45.38 345.49,45.03 345.91,43.45 346.32,41.18 346.74,38.75 347.15,36.71 347.57,35.22 347.98,33.67 348.40,32.13 348.81,30.67 349.23,29.37 349.65,28.31 350.06,27.58 350.48,27.25 350.89,27.26 351.31,27.33 351.72,27.45 352.14,27.62 352.55,27.83 352.97,28.07 353.39,28.34 353.80,28.63 354.22,28.95 354.63,29.28 355.05,29.62 355.46,29.97 355.88,30.32 356.29,30.66 356.71,30.99 357.13,31.33 357.54,31.70 357.96,32.10 358.37,32.53 358.79,32.97 359.20,33.44 359.62,33.92 360.04,34.40 360.45,34.90 360.87,35.40 361.28,35.90 361.70,36.40 362.11,36.89 362.53,37.37 362.94,37.83 363.36,38.29 363.78,38.75 364.19,39.20 364.61,39.66 365.02,40.12 365.44,40.58 365.85,41.03 366.27,41.49 366.68,41.95 367.10,42.40" fill="none" stroke="#2fbf8f" stroke-width="1.0" stroke-linejoin="round" stroke-linecap="round"/>
<polyline points="284.40,45.44 284.82,45.78 285.23,46.11 285.65,46.45 286.06,46.78 286.48,47.11 286.89,47.43 287.31,47.75 287.72,48.07 288.14,48.38 288.56,48.69 288.97,48.99 289.39,49.29 289.80,49.59 290.22,49.88 290.63,50.16 291.05,50.44 291.46,50.72 291.88,50.99 292.30,51.26 292.71,51.53 293.13,51.78 293.54,52.04 293.96,52.29 294.37,52.53 294.79,52.77 295.21,53.01 295.62,53.24 296.04,53.47 296.45,53.70 296.87,53.92 297.28,54.15 297.70,54.37 298.11,54.59 298.53,54.80 298.95,55.02 299.36,55.23 299.78,55.45 300.19,55.66 300.61,55.88 301.02,56.09 301.44,56.32 301.85,56.57 302.27,56.83 302.69,57.10 303.10,57.37 303.52,57.64 303.93,57.90 304.35,58.15 304.76,58.37 305.18,58.58 305.59,58.76 306.01,58.90 306.43,59.01 306.84,59.07 307.26,59.08 307.67,59.05 308.09,58.98 308.50,58.89 308.92,58.76 309.33,58.60 309.75,58.42 310.17,58.21 310.58,57.98 311.00,57.74 311.41,57.46 311.83,56.99 312.24,56.28 312.66,55.39 313.07,54.36 313.49,53.22 313.91,52.01 314.32,50.78 314.74,49.56 315.15,48.39 315.57,47.31 315.98,46.20 316.40,45.05 316.82,43.88 317.23,42.69 317.65,41.49 318.06,40.31 318.48,39.14 318.89,38.02 319.31,36.93 319.72,35.91 320.14,34.88 320.56,33.85 320.97,32.82 321.39,31.82 321.80,30.86 322.22,29.94 322.63,29.08 323.05,28.28 323.46,27.58 323.88,26.96 324.30,26.38 324.71,25.83 325.13,25.31 325.54,24.82 325.96,24.37 326.37,23.94 326.79,23.54 327.20,23.18 327.62,22.84 328.04,22.53 328.45,22.22 328.87,21.90 329.28,21.59 329.70,21.30 330.11,21.04 330.53,20.81 330.94,20.63 331.36,20.50 331.78,20.43 332.19,20.43 332.61,20.47 333.02,20.55 333.44,20.66 333.85,20.80 334.27,20.96 334.68,21.15 335.10,21.37 335.52,21.60 335.93,21.84 336.35,22.13 336.76,22.57 337.18,23.16 337.59,23.87 338.01,24.70 338.43,25.62 338.84,26.62 339.26,27.67 339.67,28.78 340.09,29.91 340.50,31.09 340.92,32.43 341.33,33.93 341.75,35.57 342.17,37.34 342.58,39.23 343.00,41.23 343.41,43.31 343.83,45.81 344.24,49.25 344.66,52.88 345.07,55.89 345.49,57.48 345.91,56.65 346.32,53.28 346.74,48.80 347.15,44.69 347.57,41.65 347.98,38.65 348.40,35.74 348.81,33.09 349.23,30.81 349.65,29.05 350.06,27.76 350.48,26.59 350.89,25.56 351.31,24.65 351.72,23.87 352.14,23.24 352.55,22.76 352.97,22.39 353.39,22.04 353.80,21.71 354.22,21.40 354.63,21.13 355.05,20.90 355.46,20.70 355.88,20.56 356.29,20.46 356.71,20.42 357.13,20.43 357.54,20.48 357.96,20.55 358.37,20.65 358.79,20.77 359.20,20.91 359.62,21.07 360.04,21.25 360.45,21.43 360.87,21.63 361.28,21.84 361.70,22.05 362.11,22.26 362.53,22.48 362.94,22.69 363.36,22.91 363.78,23.15 364.19,23.42 364.61,23.70 365.02,24.01 365.44,24.33 365.85,24.66 366.27,25.01 366.68,25.37 367.10,25.73" fill="none" stroke="#ff6b6b" stroke-width="1.0" stroke-linejoin="round" stroke-linecap="round"/>
<polyline points="284.40,37.86 284.82,38.10 285.23,38.37 285.65,38.67 286.06,39.00 286.48,39.36 286.89,39.73 287.31,40.13 287.72,40.55 288.14,40.99 288.56,41.45 288.97,41.93 289.39,42.42 289.80,42.92 290.22,43.43 290.63,43.96 291.05,44.51 291.46,45.09 291.88,45.71 292.30,46.35 292.71,47.03 293.13,47.74 293.54,48.48 293.96,49.25 294.37,50.05 294.79,50.87 295.21,51.73 295.62,52.62 296.04,53.53 296.45,54.47 296.87,55.44 297.28,56.53 297.70,57.78 298.11,59.14 298.53,60.56 298.95,62.02 299.36,63.47 299.78,64.87 300.19,66.18 300.61,67.35 301.02,68.37 301.44,69.32 301.85,70.26 302.27,71.16 302.69,72.00 303.10,72.76 303.52,73.41 303.93,73.94 304.35,74.32 304.76,74.65 305.18,74.95 305.59,75.23 306.01,75.46 306.43,75.63 306.84,75.73 307.26,75.73 307.67,75.27 308.09,74.32 308.50,72.98 308.92,71.38 309.33,69.63 309.75,67.85 310.17,66.12 310.58,64.09 311.00,61.74 311.41,59.17 311.83,56.50 312.24,53.84 312.66,51.30 313.07,49.01 313.49,47.06 313.91,45.25 314.32,43.51 314.74,41.85 315.15,40.25 315.57,38.73 315.98,37.27 316.40,35.88 316.82,34.55 317.23,33.28 317.65,32.07 318.06,30.87 318.48,29.69 318.89,28.54 319.31,27.43 319.72,26.38 320.14,25.39 320.56,24.50 320.97,23.70 321.39,23.02 321.80,22.45 322.22,21.90 322.63,21.35 323.05,20.83 323.46,20.35 323.88,19.92 324.30,19.54 324.71,19.24 325.13,19.03 325.54,18.92 325.96,18.91 326.37,18.96 326.79,19.05 327.20,19.18 327.62,19.35 328.04,19.54 328.45,19.76 328.87,20.00 329.28,20.25 329.70,20.52 330.11,20.79 330.53,21.06 330.94,21.34 331.36,21.65 331.78,22.00 332.19,22.38 332.61,22.80 333.02,23.24 333.44,23.72 333.85,24.22 334.27,24.74 334.68,25.28 335.10,25.85 335.52,26.42 335.93,27.02 336.35,27.63 336.76,28.27 337.18,28.96 337.59,29.68 338.01,30.44 338.43,31.25 338.84,32.10 339.26,33.00 339.67,33.95 340.09,34.94 340.50,35.99 340.92,37.12 341.33,38.37 341.75,39.75 342.17,41.23 342.58,42.81 343.00,44.47 343.41,46.19 343.83,47.96 344.24,49.82 344.66,51.87 345.07,54.05 345.49,56.31 345.91,58.58 346.32,60.81 346.74,63.15 347.15,65.91 347.57,68.76 347.98,71.34 348.40,73.27 348.81,74.21 349.23,73.38 349.65,70.30 350.06,65.97 350.48,61.43 350.89,56.86 351.31,51.29 351.72,45.39 352.14,39.86 352.55,35.43 352.97,32.10 353.39,28.95 353.80,26.20 354.22,24.07 354.63,22.80 355.05,22.21 355.46,21.69 355.88,21.23 356.29,20.83 356.71,20.48 357.13,20.20 357.54,19.97 357.96,19.80 358.37,19.70 358.79,19.66 359.20,19.68 359.62,19.73 360.04,19.81 360.45,19.91 360.87,20.04 361.28,20.18 361.70,20.34 362.11,20.50 362.53,20.67 362.94,20.85 363.36,21.01 363.78,21.17 364.19,21.33 364.61,21.50 365.02,21.68 365.44,21.87 365.85,22.07 366.27,22.27 366.68,22.48 367.10,22.70" fill="none" stroke="#7f7f7f" stroke-width="1.0" stroke-linejoin="round" stroke-linecap="round"/>
<polyline points="284.40,35.58 284.82,35.96 285.23,36.33 285.65,36.69 286.06,37.04 286.48,37.39 286.89,37.72 287.31,38.04 287.72,38.35 288.14,38.65 288.56,38.94 288.97,39.21 289.39,39.47 289.80,39.71 290.22,39.93 290.63,40.15 291.05,40.33 291.46,40.50 291.88,40.65 292.30,40.78 292.71,40.91 293.13,41.03 293.54,41.14 293.96,41.26 294.37,41.38 294.79,41.51 295.21,41.66 295.62,41.82 296.04,42.00 296.45,42.21 296.87,42.44 297.28,42.74 297.70,43.10 298.11,43.53 298.53,44.02 298.95,44.56 299.36,45.14 299.78,45.77 300.19,46.44 300.61,47.14 301.02,47.86 301.44,48.72 301.85,49.76 302.27,50.91 302.69,52.16 303.10,53.46 303.52,54.76 303.93,56.04 304.35,57.25 304.76,58.35 305.18,59.31 305.59,60.22 306.01,61.13 306.43,62.01 306.84,62.87 307.26,63.69 307.67,64.45 308.09,65.15 308.50,65.78 308.92,66.33 309.33,66.79 309.75,67.16 310.17,67.48 310.58,67.76 311.00,68.01 311.41,68.24 311.83,68.49 312.24,68.76 312.66,69.06 313.07,69.42 313.49,69.86 313.91,70.47 314.32,71.24 314.74,72.10 315.15,73.00 315.57,73.89 315.98,74.71 316.40,75.41 316.82,75.95 317.23,76.48 317.65,76.99 318.06,77.44 318.48,77.79 318.89,78.00 319.31,77.93 319.72,76.99 320.14,75.26 320.56,73.01 320.97,70.48 321.39,67.96 321.80,65.60 322.22,63.01 322.63,60.15 323.05,57.13 323.46,54.03 323.88,50.95 324.30,47.98 324.71,45.22 325.13,42.70 325.54,40.16 325.96,37.62 326.37,35.19 326.79,32.94 327.20,30.97 327.62,29.37 328.04,28.16 328.45,27.04 328.87,25.98 329.28,24.98 329.70,24.08 330.11,23.26 330.53,22.56 330.94,21.98 331.36,21.54 331.78,21.25 332.19,21.10 332.61,20.97 333.02,20.86 333.44,20.75 333.85,20.66 334.27,20.58 334.68,20.52 335.10,20.47 335.52,20.44 335.93,20.42 336.35,20.44 336.76,20.53 337.18,20.69 337.59,20.92 338.01,21.21 338.43,21.55 338.84,21.94 339.26,22.36 339.67,22.82 340.09,23.29 340.50,23.83 340.92,24.53 341.33,25.41 341.75,26.45 342.17,27.66 342.58,29.04 343.00,30.56 343.41,32.42 343.83,35.00 344.24,38.13 344.66,41.61 345.07,45.23 345.49,49.42 345.91,55.00 346.32,60.82 346.74,65.60 347.15,68.07 347.57,67.14 347.98,63.31 348.40,57.99 348.81,52.57 349.23,47.31 349.65,41.09 350.06,35.16 350.48,30.83 350.89,28.38 351.31,26.25 351.72,24.43 352.14,22.96 352.55,21.88 352.97,21.24 353.39,20.92 353.80,20.64 354.22,20.40 354.63,20.18 355.05,20.00 355.46,19.86 355.88,19.76 356.29,19.69 356.71,19.66 357.13,19.67 357.54,19.67 357.96,19.69 358.37,19.71 358.79,19.74 359.20,19.79 359.62,19.84 360.04,19.90 360.45,19.98 360.87,20.06 361.28,20.16 361.70,20.28 362.11,20.41 362.53,20.56 362.94,20.72 363.36,20.90 363.78,21.10 364.19,21.32 364.61,21.56 365.02,21.81 365.44,22.10 365.85,22.40 366.27,22.73 366.68,23.08 367.10,23.45" fill="none" stroke="#3b8ff0" stroke-width="1.0" stroke-linejoin="round" stroke-linecap="round"/>
<polyline points="284.40,33.31 284.82,33.39 285.23,33.47 285.65,33.55 286.06,33.64 286.48,33.74 286.89,33.83 287.31,33.93 287.72,34.04 288.14,34.14 288.56,34.25 288.97,34.36 289.39,34.48 289.80,34.59 290.22,34.71 290.63,34.83 291.05,34.95 291.46,35.07 291.88,35.19 292.30,35.31 292.71,35.43 293.13,35.56 293.54,35.69 293.96,35.83 294.37,35.98 294.79,36.14 295.21,36.31 295.62,36.49 296.04,36.69 296.45,36.90 296.87,37.13 297.28,37.41 297.70,37.73 298.11,38.10 298.53,38.51 298.95,38.97 299.36,39.47 299.78,40.00 300.19,40.56 300.61,41.15 301.02,41.78 301.44,42.55 301.85,43.51 302.27,44.60 302.69,45.76 303.10,46.96 303.52,48.13 303.93,49.24 304.35,50.22 304.76,51.03 305.18,51.63 305.59,52.04 306.01,52.35 306.43,52.63 306.84,52.94 307.26,53.37 307.67,53.98 308.09,55.09 308.50,56.72 308.92,58.76 309.33,61.11 309.75,63.80 310.17,68.42 310.58,74.45 311.00,80.57 311.41,85.46 311.83,87.83 312.24,87.00 312.66,84.03 313.07,79.64 313.49,74.56 313.91,69.53 314.32,65.11 314.74,60.30 315.15,55.12 315.57,49.99 315.98,45.37 316.40,41.71 316.82,39.32 317.23,37.34 317.65,35.50 318.06,33.80 318.48,32.24 318.89,30.82 319.31,29.53 319.72,28.39 320.14,27.39 320.56,26.53 320.97,25.81 321.39,25.23 321.80,24.78 322.22,24.36 322.63,23.95 323.05,23.57 323.46,23.21 323.88,22.87 324.30,22.56 324.71,22.27 325.13,22.01 325.54,21.78 325.96,21.59 326.37,21.43 326.79,21.31 327.20,21.23 327.62,21.18 328.04,21.18 328.45,21.18 328.87,21.18 329.28,21.18 329.70,21.18 330.11,21.18 330.53,21.18 330.94,21.18 331.36,21.18 331.78,21.18 332.19,21.18 332.61,21.18 333.02,21.18 333.44,21.18 333.85,21.18 334.27,21.18 334.68,21.21 335.10,21.26 335.52,21.32 335.93,21.40 336.35,21.50 336.76,21.61 337.18,21.72 337.59,21.85 338.01,21.98 338.43,22.12 338.84,22.26 339.26,22.39 339.67,22.53 340.09,22.66 340.50,22.79 340.92,22.94 341.33,23.10 341.75,23.28 342.17,23.46 342.58,23.63 343.00,23.80 343.41,23.95 343.83,24.08 344.24,24.19 344.66,24.27 345.07,24.33 345.49,24.39 345.91,24.45 346.32,24.50 346.74,24.54 347.15,24.58 347.57,24.62 347.98,24.66 348.40,24.70 348.81,24.74 349.23,24.79 349.65,24.84 350.06,24.89 350.48,24.96 350.89,25.03 351.31,25.10 351.72,25.19 352.14,25.27 352.55,25.37 352.97,25.47 353.39,25.57 353.80,25.68 354.22,25.79 354.63,25.91 355.05,26.03 355.46,26.15 355.88,26.28 356.29,26.40 356.71,26.54 357.13,26.67 357.54,26.81 357.96,26.95 358.37,27.09 358.79,27.23 359.20,27.37 359.62,27.53 360.04,27.68 360.45,27.84 360.87,28.01 361.28,28.18 361.70,28.36 362.11,28.54 362.53,28.73 362.94,28.92 363.36,29.11 363.78,29.31 364.19,29.51 364.61,29.72 365.02,29.93 365.44,30.14 365.85,30.36 366.27,30.58 366.68,30.81 367.10,31.03" fill="none" stroke="#14d2e6" stroke-width="1.0" stroke-linejoin="round" stroke-linecap="round"/>
<text x="369.9" y="30.3" font-size="4.6" fill="#333" text-anchor="start" font-family="'Liberation Sans', Arial, sans-serif" stroke="#333" stroke-width="0.16">Vertical</text>
<text x="369.9" y="36.4" font-size="4.6" fill="#333" text-anchor="start" font-family="'Liberation Sans', Arial, sans-serif" stroke="#333" stroke-width="0.16">distance</text>
<line x1="369.9" y1="41.1" x2="380.8" y2="41.1" stroke="#7f7f7f" stroke-width="0.9"/>
<text x="382.4" y="42.8" font-size="4.6" fill="#333" text-anchor="start" font-family="'Liberation Sans', Arial, sans-serif" stroke="#333" stroke-width="0.16">5mm</text>
<line x1="369.9" y1="47.3" x2="380.8" y2="47.3" stroke="#ff6b6b" stroke-width="0.9"/>
<text x="382.4" y="49.0" font-size="4.6" fill="#333" text-anchor="start" font-family="'Liberation Sans', Arial, sans-serif" stroke="#333" stroke-width="0.16">10mm</text>
<line x1="369.9" y1="53.5" x2="380.8" y2="53.5" stroke="#3b8ff0" stroke-width="0.9"/>
<text x="382.4" y="55.2" font-size="4.6" fill="#333" text-anchor="start" font-family="'Liberation Sans', Arial, sans-serif" stroke="#333" stroke-width="0.16">15mm</text>
<line x1="369.9" y1="59.6" x2="380.8" y2="59.6" stroke="#2fbf8f" stroke-width="0.9"/>
<text x="382.4" y="61.3" font-size="4.6" fill="#333" text-anchor="start" font-family="'Liberation Sans', Arial, sans-serif" stroke="#333" stroke-width="0.16">20mm</text>
<line x1="369.9" y1="65.8" x2="380.8" y2="65.8" stroke="#d69cf5" stroke-width="0.9"/>
<text x="382.4" y="67.5" font-size="4.6" fill="#333" text-anchor="start" font-family="'Liberation Sans', Arial, sans-serif" stroke="#333" stroke-width="0.16">25mm</text>
<line x1="369.9" y1="72.0" x2="380.8" y2="72.0" stroke="#f2b233" stroke-width="0.9"/>
<text x="382.4" y="73.7" font-size="4.6" fill="#333" text-anchor="start" font-family="'Liberation Sans', Arial, sans-serif" stroke="#333" stroke-width="0.16">30mm</text>
<line x1="369.9" y1="78.2" x2="380.8" y2="78.2" stroke="#14d2e6" stroke-width="0.9"/>
<text x="382.4" y="79.9" font-size="4.6" fill="#333" text-anchor="start" font-family="'Liberation Sans', Arial, sans-serif" stroke="#333" stroke-width="0.16">35mm</text>
<line x1="369.9" y1="84.4" x2="380.8" y2="84.4" stroke="#c08a8a" stroke-width="0.9"/>
<text x="382.4" y="86.1" font-size="4.6" fill="#333" text-anchor="start" font-family="'Liberation Sans', Arial, sans-serif" stroke="#333" stroke-width="0.16">40mm</text>
<line x1="423.0" y1="17.0" x2="423.0" y2="97.0" stroke="#4a4a4a" stroke-width="0.8"/>
<line x1="423.0" y1="97.0" x2="521.0" y2="97.0" stroke="#4a4a4a" stroke-width="0.8"/>
<line x1="423.0" y1="97.0" x2="423.0" y2="98.6" stroke="#4a4a4a" stroke-width="0.8"/>
<text x="423.0" y="104.2" font-size="6.1" fill="#222" text-anchor="middle" font-family="'Liberation Sans', Arial, sans-serif" font-weight="bold" stroke="#222" stroke-width="0.12">0</text>
<line x1="445.0" y1="97.0" x2="445.0" y2="98.6" stroke="#4a4a4a" stroke-width="0.8"/>
<text x="445.0" y="104.2" font-size="6.1" fill="#222" text-anchor="middle" font-family="'Liberation Sans', Arial, sans-serif" font-weight="bold" stroke="#222" stroke-width="0.12">10</text>
<line x1="467.0" y1="97.0" x2="467.0" y2="98.6" stroke="#4a4a4a" stroke-width="0.8"/>
<text x="467.0" y="104.2" font-size="6.1" fill="#222" text-anchor="middle" font-family="'Liberation Sans', Arial, sans-serif" font-weight="bold" stroke="#222" stroke-width="0.12">20</text>
<line x1="489.0" y1="97.0" x2="489.0" y2="98.6" stroke="#4a4a4a" stroke-width="0.8"/>
<text x="489.0" y="104.2" font-size="6.1" fill="#222" text-anchor="middle" font-family="'Liberation Sans', Arial, sans-serif" font-weight="bold" stroke="#222" stroke-width="0.12">30</text>
<line x1="511.0" y1="97.0" x2="511.0" y2="98.6" stroke="#4a4a4a" stroke-width="0.8"/>
<text x="511.0" y="104.2" font-size="6.1" fill="#222" text-anchor="middle" font-family="'Liberation Sans', Arial, sans-serif" font-weight="bold" stroke="#222" stroke-width="0.12">40</text>
<line x1="421.4" y1="97.0" x2="423.0" y2="97.0" stroke="#4a4a4a" stroke-width="0.8"/>
<text x="420.3" y="99.2" font-size="6.1" fill="#222" text-anchor="end" font-family="'Liberation Sans', Arial, sans-serif" font-weight="bold" stroke="#222" stroke-width="0.12">300</text>
<line x1="421.4" y1="83.7" x2="423.0" y2="83.7" stroke="#4a4a4a" stroke-width="0.8"/>
<text x="420.3" y="85.9" font-size="6.1" fill="#222" text-anchor="end" font-family="'Liberation Sans', Arial, sans-serif" font-weight="bold" stroke="#222" stroke-width="0.12">310</text>
<line x1="421.4" y1="70.3" x2="423.0" y2="70.3" stroke="#4a4a4a" stroke-width="0.8"/>
<text x="420.3" y="72.5" font-size="6.1" fill="#222" text-anchor="end" font-family="'Liberation Sans', Arial, sans-serif" font-weight="bold" stroke="#222" stroke-width="0.12">320</text>
<line x1="421.4" y1="57.0" x2="423.0" y2="57.0" stroke="#4a4a4a" stroke-width="0.8"/>
<text x="420.3" y="59.2" font-size="6.1" fill="#222" text-anchor="end" font-family="'Liberation Sans', Arial, sans-serif" font-weight="bold" stroke="#222" stroke-width="0.12">330</text>
<line x1="421.4" y1="43.7" x2="423.0" y2="43.7" stroke="#4a4a4a" stroke-width="0.8"/>
<text x="420.3" y="45.9" font-size="6.1" fill="#222" text-anchor="end" font-family="'Liberation Sans', Arial, sans-serif" font-weight="bold" stroke="#222" stroke-width="0.12">340</text>
<line x1="421.4" y1="30.3" x2="423.0" y2="30.3" stroke="#4a4a4a" stroke-width="0.8"/>
<text x="420.3" y="32.5" font-size="6.1" fill="#222" text-anchor="end" font-family="'Liberation Sans', Arial, sans-serif" font-weight="bold" stroke="#222" stroke-width="0.12">350</text>
<line x1="421.4" y1="17.0" x2="423.0" y2="17.0" stroke="#4a4a4a" stroke-width="0.8"/>
<text x="420.3" y="19.2" font-size="6.1" fill="#222" text-anchor="end" font-family="'Liberation Sans', Arial, sans-serif" font-weight="bold" stroke="#222" stroke-width="0.12">360</text>
<line x1="434.0" y1="97.0" x2="434.0" y2="98.0" stroke="#4a4a4a" stroke-width="0.5"/>
<line x1="456.0" y1="97.0" x2="456.0" y2="98.0" stroke="#4a4a4a" stroke-width="0.5"/>
<line x1="478.0" y1="97.0" x2="478.0" y2="98.0" stroke="#4a4a4a" stroke-width="0.5"/>
<line x1="500.0" y1="97.0" x2="500.0" y2="98.0" stroke="#4a4a4a" stroke-width="0.5"/>
<line x1="422.0" y1="90.3" x2="423.0" y2="90.3" stroke="#4a4a4a" stroke-width="0.5"/>
<line x1="422.0" y1="77.0" x2="423.0" y2="77.0" stroke="#4a4a4a" stroke-width="0.5"/>
<line x1="422.0" y1="63.7" x2="423.0" y2="63.7" stroke="#4a4a4a" stroke-width="0.5"/>
<line x1="422.0" y1="50.3" x2="423.0" y2="50.3" stroke="#4a4a4a" stroke-width="0.5"/>
<line x1="422.0" y1="37.0" x2="423.0" y2="37.0" stroke="#4a4a4a" stroke-width="0.5"/>
<line x1="422.0" y1="23.7" x2="423.0" y2="23.7" stroke="#4a4a4a" stroke-width="0.5"/>
<text x="472.5" y="112.0" font-size="5.7" fill="#333" text-anchor="middle" font-family="'Liberation Sans', Arial, sans-serif" stroke="#333" stroke-width="0.16">Vertical distance (mm)</text>
<text x="407.6" y="57.0" font-size="5.7" fill="#333" text-anchor="middle" font-family="'Liberation Sans', Arial, sans-serif" transform="rotate(-90 407.6 57)" stroke="#333" stroke-width="0.16">Frequency (MHz)</text>
<polyline points="434.00,21.00 445.00,34.33 456.00,28.34 467.00,37.67 478.00,39.00 489.00,41.00 500.00,41.67 511.00,41.00" fill="none" stroke="#222" stroke-width="0.7" stroke-linejoin="round" stroke-linecap="round"/>
<rect x="432.9" y="19.9" width="2.2" height="2.2" fill="#222"/>
<rect x="443.9" y="33.2" width="2.2" height="2.2" fill="#222"/>
<rect x="454.9" y="27.2" width="2.2" height="2.2" fill="#222"/>
<rect x="465.9" y="36.6" width="2.2" height="2.2" fill="#222"/>
<rect x="476.9" y="37.9" width="2.2" height="2.2" fill="#222"/>
<rect x="487.9" y="39.9" width="2.2" height="2.2" fill="#222"/>
<rect x="498.9" y="40.6" width="2.2" height="2.2" fill="#222"/>
<rect x="509.9" y="39.9" width="2.2" height="2.2" fill="#222"/>
<text x="469.8" y="15.6" font-size="9.1" fill="#111" text-anchor="middle" font-family="'Liberation Sans', Arial, sans-serif" font-weight="bold" stroke="#111" stroke-width="0.18">Different vertical</text>
<text x="470.3" y="25.6" font-size="9.1" fill="#111" text-anchor="middle" font-family="'Liberation Sans', Arial, sans-serif" font-weight="bold" stroke="#111" stroke-width="0.18">distances</text>
<text x="4.0" y="129.8" font-size="10.2" fill="#111" text-anchor="start" font-family="'Liberation Sans', Arial, sans-serif" font-weight="bold" stroke="#111" stroke-width="0.2">(d)</text>
<line x1="25.0" y1="122.4" x2="25.0" y2="207.6" stroke="#4a4a4a" stroke-width="0.8"/>
<line x1="25.0" y1="207.6" x2="124.0" y2="207.6" stroke="#4a4a4a" stroke-width="0.8"/>
<line x1="37.0" y1="207.6" x2="37.0" y2="209.2" stroke="#4a4a4a" stroke-width="0.8"/>
<text x="37.0" y="214.3" font-size="5.9" fill="#222" text-anchor="middle" font-family="'Liberation Sans', Arial, sans-serif" font-weight="bold" stroke="#222" stroke-width="0.12">100</text>
<line x1="62.0" y1="207.6" x2="62.0" y2="209.2" stroke="#4a4a4a" stroke-width="0.8"/>
<text x="62.0" y="214.3" font-size="5.9" fill="#222" text-anchor="middle" font-family="'Liberation Sans', Arial, sans-serif" font-weight="bold" stroke="#222" stroke-width="0.12">200</text>
<line x1="87.0" y1="207.6" x2="87.0" y2="209.2" stroke="#4a4a4a" stroke-width="0.8"/>
<text x="87.0" y="214.3" font-size="5.9" fill="#222" text-anchor="middle" font-family="'Liberation Sans', Arial, sans-serif" font-weight="bold" stroke="#222" stroke-width="0.12">300</text>
<line x1="112.0" y1="207.6" x2="112.0" y2="209.2" stroke="#4a4a4a" stroke-width="0.8"/>
<text x="112.0" y="214.3" font-size="5.9" fill="#222" text-anchor="middle" font-family="'Liberation Sans', Arial, sans-serif" font-weight="bold" stroke="#222" stroke-width="0.12">400</text>
<line x1="23.4" y1="127.4" x2="25.0" y2="127.4" stroke="#4a4a4a" stroke-width="0.8"/>
<text x="22.2" y="129.5" font-size="5.9" fill="#222" text-anchor="end" font-family="'Liberation Sans', Arial, sans-serif" font-weight="bold" stroke="#222" stroke-width="0.12">0</text>
<line x1="23.4" y1="150.1" x2="25.0" y2="150.1" stroke="#4a4a4a" stroke-width="0.8"/>
<text x="22.2" y="152.2" font-size="5.9" fill="#222" text-anchor="end" font-family="'Liberation Sans', Arial, sans-serif" font-weight="bold" stroke="#222" stroke-width="0.12">-10</text>
<line x1="23.4" y1="172.7" x2="25.0" y2="172.7" stroke="#4a4a4a" stroke-width="0.8"/>
<text x="22.2" y="174.9" font-size="5.9" fill="#222" text-anchor="end" font-family="'Liberation Sans', Arial, sans-serif" font-weight="bold" stroke="#222" stroke-width="0.12">-20</text>
<line x1="23.4" y1="195.4" x2="25.0" y2="195.4" stroke="#4a4a4a" stroke-width="0.8"/>
<text x="22.2" y="197.5" font-size="5.9" fill="#222" text-anchor="end" font-family="'Liberation Sans', Arial, sans-serif" font-weight="bold" stroke="#222" stroke-width="0.12">-30</text>
<line x1="49.5" y1="207.6" x2="49.5" y2="208.6" stroke="#4a4a4a" stroke-width="0.5"/>
<line x1="74.5" y1="207.6" x2="74.5" y2="208.6" stroke="#4a4a4a" stroke-width="0.5"/>
<line x1="99.5" y1="207.6" x2="99.5" y2="208.6" stroke="#4a4a4a" stroke-width="0.5"/>
<line x1="24.0" y1="138.7" x2="25.0" y2="138.7" stroke="#4a4a4a" stroke-width="0.5"/>
<line x1="24.0" y1="161.4" x2="25.0" y2="161.4" stroke="#4a4a4a" stroke-width="0.5"/>
<line x1="24.0" y1="184.1" x2="25.0" y2="184.1" stroke="#4a4a4a" stroke-width="0.5"/>
<text x="77.8" y="222.2" font-size="6.0" fill="#333" text-anchor="middle" font-family="'Liberation Sans', Arial, sans-serif" stroke="#333" stroke-width="0.16">Frequency(MHz)</text>
<text x="9.4" y="163.5" font-size="5.7" fill="#333" text-anchor="middle" font-family="'Liberation Sans', Arial, sans-serif" transform="rotate(-90 9.4 163.5)" stroke="#333" stroke-width="0.16">Return loss(dB)</text>
<polyline points="37.00,129.44 37.43,129.52 37.85,129.60 38.28,129.67 38.71,129.75 39.14,129.83 39.56,129.91 39.99,130.00 40.42,130.10 40.84,130.20 41.27,130.28 41.70,130.33 42.13,130.34 42.55,130.24 42.98,130.06 43.41,129.84 43.83,129.63 44.26,129.48 44.69,129.42 45.12,129.39 45.54,129.36 45.97,129.33 46.40,129.30 46.82,129.28 47.25,129.26 47.68,129.24 48.11,129.23 48.53,129.22 48.96,129.22 49.39,129.21 49.81,129.22 50.24,129.23 50.67,129.26 51.10,129.31 51.52,129.36 51.95,129.42 52.38,129.49 52.80,129.56 53.23,129.64 53.66,129.72 54.09,129.81 54.51,129.90 54.94,129.99 55.37,130.11 55.79,130.25 56.22,130.40 56.65,130.56 57.08,130.74 57.50,130.93 57.93,131.13 58.36,131.34 58.78,131.56 59.21,131.78 59.64,132.01 60.07,132.23 60.49,132.45 60.92,132.68 61.35,132.91 61.77,133.15 62.20,133.40 62.63,133.68 63.06,133.97 63.48,134.29 63.91,134.64 64.34,135.02 64.76,135.44 65.19,135.90 65.62,136.40 66.05,136.96 66.47,137.56 66.90,138.44 67.33,139.80 67.75,141.53 68.18,143.51 68.61,145.65 69.04,147.81 69.46,149.89 69.89,151.73 70.32,153.46 70.74,155.56 71.17,158.47 71.60,166.08 72.03,172.69 72.45,162.03 72.88,153.36 73.31,150.29 73.73,148.15 74.16,146.05 74.59,143.32 75.02,140.21 75.44,137.12 75.87,134.42 76.30,132.48 76.72,131.50 77.15,130.74 77.58,130.06 78.01,129.49 78.43,129.04 78.86,128.72 79.29,128.55 79.71,128.53 80.14,128.54 80.57,128.55 80.99,128.56 81.42,128.57 81.85,128.59 82.28,128.61 82.70,128.64 83.13,128.66 83.56,128.69 83.98,128.72 84.41,128.75 84.84,128.80 85.27,128.86 85.69,128.95 86.12,129.06 86.55,129.19 86.97,129.33 87.40,129.48 87.83,129.64 88.26,129.80 88.68,129.96 89.11,130.12 89.54,130.27 89.96,130.41 90.39,130.54 90.82,130.65 91.25,130.74 91.67,130.82 92.10,130.90 92.53,131.00 92.95,131.13 93.38,131.31 93.81,131.91 94.24,133.40 94.66,134.86 95.09,135.25 95.52,133.32 95.94,131.43 96.37,131.19 96.80,131.07 97.23,130.98 97.65,130.90 98.08,130.77 98.51,130.57 98.93,130.32 99.36,130.04 99.79,129.75 100.22,129.46 100.64,129.20 101.07,128.98 101.50,128.83 101.92,128.76 102.35,128.77 102.78,128.79 103.21,128.84 103.63,128.91 104.06,128.99 104.49,129.09 104.91,129.20 105.34,129.32 105.77,129.46 106.20,129.60 106.62,129.76 107.05,129.92 107.48,130.09 107.90,130.26 108.33,130.44 108.76,130.62 109.19,130.80 109.61,130.98 110.04,131.16 110.47,131.34 110.89,131.51 111.32,131.68 111.75,131.84 112.18,132.00 112.60,132.15 113.03,132.31 113.46,132.47 113.88,132.63 114.31,132.79 114.74,132.95 115.17,133.12 115.59,133.29 116.02,133.46 116.45,133.63 116.87,133.80 117.30,133.98 117.73,134.15 118.16,134.33 118.58,134.51 119.01,134.70 119.44,134.88 119.86,135.06 120.29,135.25 120.72,135.44 121.15,135.63 121.57,135.82 122.00,136.01" fill="none" stroke="#c08a8a" stroke-width="0.95" stroke-linejoin="round" stroke-linecap="round"/>
<polyline points="37.00,129.44 37.43,129.52 37.85,129.60 38.28,129.67 38.71,129.75 39.14,129.83 39.56,129.91 39.99,130.00 40.42,130.10 40.84,130.20 41.27,130.28 41.70,130.33 42.13,130.34 42.55,130.24 42.98,130.06 43.41,129.84 43.83,129.63 44.26,129.48 44.69,129.42 45.12,129.39 45.54,129.36 45.97,129.33 46.40,129.30 46.82,129.28 47.25,129.26 47.68,129.24 48.11,129.23 48.53,129.22 48.96,129.22 49.39,129.21 49.81,129.22 50.24,129.23 50.67,129.26 51.10,129.31 51.52,129.36 51.95,129.42 52.38,129.49 52.80,129.56 53.23,129.64 53.66,129.72 54.09,129.81 54.51,129.90 54.94,129.99 55.37,130.11 55.79,130.24 56.22,130.38 56.65,130.55 57.08,130.72 57.50,130.91 57.93,131.11 58.36,131.32 58.78,131.54 59.21,131.77 59.64,132.01 60.07,132.26 60.49,132.51 60.92,132.78 61.35,133.06 61.77,133.37 62.20,133.70 62.63,134.06 63.06,134.46 63.48,134.89 63.91,135.37 64.34,135.90 64.76,136.47 65.19,137.11 65.62,137.83 66.05,139.12 66.47,140.95 66.90,143.11 67.33,145.36 67.75,147.45 68.18,149.17 68.61,150.29 69.04,150.88 69.46,151.31 69.89,151.90 70.32,153.21 70.74,160.91 71.17,161.90 71.60,151.16 72.03,148.12 72.45,147.18 72.88,146.47 73.31,145.33 73.73,143.08 74.16,140.00 74.59,136.73 75.02,133.87 75.44,132.06 75.87,131.23 76.30,130.49 76.72,129.85 77.15,129.32 77.58,128.91 78.01,128.65 78.43,128.54 78.86,128.54 79.29,128.54 79.71,128.55 80.14,128.57 80.57,128.58 80.99,128.60 81.42,128.63 81.85,128.65 82.28,128.68 82.70,128.71 83.13,128.73 83.56,128.76 83.98,128.79 84.41,128.83 84.84,128.86 85.27,128.90 85.69,128.94 86.12,128.98 86.55,129.03 86.97,129.08 87.40,129.14 87.83,129.21 88.26,129.28 88.68,129.36 89.11,129.45 89.54,129.55 89.96,129.67 90.39,129.79 90.82,129.92 91.25,130.07 91.67,130.23 92.10,130.40 92.53,130.59 92.95,131.14 93.38,132.26 93.81,133.86 94.24,135.86 94.66,138.17 95.09,140.71 95.52,143.38 95.94,148.02 96.37,154.09 96.80,158.51 97.23,157.44 97.65,149.06 98.08,142.52 98.51,138.71 98.93,135.39 99.36,132.80 99.79,131.18 100.22,130.58 100.64,130.19 101.07,129.84 101.50,129.55 101.92,129.30 102.35,129.10 102.78,128.94 103.21,128.84 103.63,128.78 104.06,128.76 104.49,128.78 104.91,128.84 105.34,128.93 105.77,129.04 106.20,129.18 106.62,129.34 107.05,129.52 107.48,129.71 107.90,129.92 108.33,130.14 108.76,130.36 109.19,130.58 109.61,130.81 110.04,131.03 110.47,131.25 110.89,131.46 111.32,131.65 111.75,131.84 112.18,132.00 112.60,132.16 113.03,132.32 113.46,132.48 113.88,132.64 114.31,132.80 114.74,132.96 115.17,133.12 115.59,133.28 116.02,133.43 116.45,133.59 116.87,133.75 117.30,133.90 117.73,134.06 118.16,134.21 118.58,134.36 119.01,134.52 119.44,134.67 119.86,134.82 120.29,134.97 120.72,135.12 121.15,135.27 121.57,135.41 122.00,135.56" fill="none" stroke="#d69cf5" stroke-width="0.95" stroke-linejoin="round" stroke-linecap="round"/>
<polyline points="37.00,129.44 37.43,129.52 37.85,129.60 38.28,129.67 38.71,129.75 39.14,129.83 39.56,129.91 39.99,130.00 40.42,130.10 40.84,130.20 41.27,130.28 41.70,130.33 42.13,130.34 42.55,130.24 42.98,130.06 43.41,129.84 43.83,129.63 44.26,129.48 44.69,129.42 45.12,129.39 45.54,129.36 45.97,129.33 46.40,129.30 46.82,129.28 47.25,129.26 47.68,129.24 48.11,129.23 48.53,129.22 48.96,129.22 49.39,129.21 49.81,129.22 50.24,129.23 50.67,129.26 51.10,129.31 51.52,129.36 51.95,129.42 52.38,129.49 52.80,129.56 53.23,129.64 53.66,129.72 54.09,129.81 54.51,129.90 54.94,129.99 55.37,130.08 55.79,130.19 56.22,130.31 56.65,130.45 57.08,130.60 57.50,130.78 57.93,130.97 58.36,131.19 58.78,131.44 59.21,131.73 59.64,132.06 60.07,132.64 60.49,133.48 60.92,134.53 61.35,135.70 61.77,136.94 62.20,138.27 62.63,140.12 63.06,142.35 63.48,144.70 63.91,146.91 64.34,148.70 64.76,149.83 65.19,150.13 65.62,150.19 66.05,150.24 66.47,150.31 66.90,151.47 67.33,158.95 67.75,156.90 68.18,147.56 68.61,146.55 69.04,146.22 69.46,145.91 69.89,145.19 70.32,143.05 70.74,139.87 71.17,136.43 71.60,133.52 72.03,131.88 72.45,131.08 72.88,130.36 73.31,129.74 73.73,129.23 74.16,128.85 74.59,128.61 75.02,128.53 75.44,128.54 75.87,128.54 76.30,128.55 76.72,128.57 77.15,128.59 77.58,128.61 78.01,128.63 78.43,128.66 78.86,128.68 79.29,128.71 79.71,128.74 80.14,128.77 80.57,128.81 80.99,128.87 81.42,128.93 81.85,129.01 82.28,129.09 82.70,129.19 83.13,129.29 83.56,129.39 83.98,129.50 84.41,129.61 84.84,129.72 85.27,129.83 85.69,129.94 86.12,130.04 86.55,130.14 86.97,130.24 87.40,130.33 87.83,130.41 88.26,130.48 88.68,130.54 89.11,130.58 89.54,130.62 89.96,130.64 90.39,130.66 90.82,130.68 91.25,130.71 91.67,130.75 92.10,130.86 92.53,131.80 92.95,133.20 93.38,134.14 93.81,133.43 94.24,131.39 94.66,130.80 95.09,130.80 95.52,130.80 95.94,130.80 96.37,130.80 96.80,130.77 97.23,130.62 97.65,130.39 98.08,130.10 98.51,129.77 98.93,129.45 99.36,129.16 99.79,128.93 100.22,128.79 100.64,128.76 101.07,128.78 101.50,128.82 101.92,128.88 102.35,128.96 102.78,129.06 103.21,129.17 103.63,129.29 104.06,129.43 104.49,129.57 104.91,129.72 105.34,129.88 105.77,130.05 106.20,130.22 106.62,130.38 107.05,130.55 107.48,130.72 107.90,130.88 108.33,131.04 108.76,131.19 109.19,131.33 109.61,131.47 110.04,131.59 110.47,131.69 110.89,131.78 111.32,131.86 111.75,131.91 112.18,131.95 112.60,131.98 113.03,132.01 113.46,132.04 113.88,132.07 114.31,132.10 114.74,132.13 115.17,132.15 115.59,132.18 116.02,132.21 116.45,132.23 116.87,132.25 117.30,132.27 117.73,132.29 118.16,132.31 118.58,132.32 119.01,132.34 119.44,132.35 119.86,132.36 120.29,132.37 120.72,132.38 121.15,132.38 121.57,132.39 122.00,132.39" fill="none" stroke="#f2b233" stroke-width="0.95" stroke-linejoin="round" stroke-linecap="round"/>
<polyline points="37.00,129.44 37.43,129.52 37.85,129.60 38.28,129.67 38.71,129.75 39.14,129.83 39.56,129.91 39.99,130.00 40.42,130.10 40.84,130.20 41.27,130.28 41.70,130.33 42.13,130.34 42.55,130.24 42.98,130.06 43.41,129.84 43.83,129.63 44.26,129.48 44.69,129.42 45.12,129.39 45.54,129.36 45.97,129.33 46.40,129.30 46.82,129.28 47.25,129.26 47.68,129.24 48.11,129.23 48.53,129.22 48.96,129.22 49.39,129.21 49.81,129.22 50.24,129.23 50.67,129.26 51.10,129.31 51.52,129.36 51.95,129.42 52.38,129.49 52.80,129.56 53.23,129.64 53.66,129.72 54.09,129.81 54.51,129.90 54.94,129.99 55.37,130.10 55.79,130.22 56.22,130.35 56.65,130.50 57.08,130.67 57.50,130.85 57.93,131.05 58.36,131.26 58.78,131.50 59.21,131.75 59.64,132.03 60.07,132.36 60.49,132.77 60.92,133.25 61.35,133.80 61.77,134.41 62.20,135.10 62.63,135.85 63.06,136.68 63.48,137.56 63.91,138.69 64.34,140.20 64.76,141.99 65.19,143.96 65.62,146.01 66.05,148.04 66.47,149.95 66.90,151.54 67.33,152.94 67.75,154.62 68.18,157.05 68.61,164.30 69.04,170.38 69.46,159.89 69.89,152.08 70.32,149.53 70.74,147.78 71.17,145.95 71.60,143.38 72.03,140.31 72.45,137.19 72.88,134.42 73.31,132.45 73.73,131.48 74.16,130.72 74.59,130.04 75.02,129.48 75.44,129.03 75.87,128.71 76.30,128.55 76.72,128.53 77.15,128.54 77.58,128.55 78.01,128.56 78.43,128.58 78.86,128.60 79.29,128.62 79.71,128.64 80.14,128.67 80.57,128.70 80.99,128.73 81.42,128.75 81.85,128.78 82.28,128.81 82.70,128.85 83.13,128.88 83.56,128.92 83.98,128.96 84.41,129.00 84.84,129.04 85.27,129.09 85.69,129.15 86.12,129.20 86.55,129.26 86.97,129.33 87.40,129.40 87.83,129.48 88.26,129.56 88.68,129.65 89.11,129.74 89.54,129.84 89.96,129.95 90.39,130.07 90.82,130.19 91.25,130.32 91.67,130.46 92.10,130.61 92.53,130.84 92.95,131.18 93.38,131.61 93.81,132.16 94.24,132.80 94.66,133.54 95.09,134.44 95.52,136.52 95.94,139.16 96.37,140.88 96.80,139.72 97.23,135.87 97.65,133.77 98.08,132.76 98.51,131.97 98.93,131.37 99.36,130.92 99.79,130.56 100.22,130.22 100.64,129.91 101.07,129.62 101.50,129.36 101.92,129.15 102.35,128.97 102.78,128.85 103.21,128.77 103.63,128.76 104.06,128.79 104.49,128.84 104.91,128.91 105.34,129.01 105.77,129.13 106.20,129.27 106.62,129.42 107.05,129.59 107.48,129.77 107.90,129.97 108.33,130.17 108.76,130.37 109.19,130.59 109.61,130.80 110.04,131.01 110.47,131.22 110.89,131.43 111.32,131.63 111.75,131.83 112.18,132.01 112.60,132.19 113.03,132.38 113.46,132.57 113.88,132.76 114.31,132.96 114.74,133.16 115.17,133.36 115.59,133.56 116.02,133.77 116.45,133.98 116.87,134.19 117.30,134.40 117.73,134.62 118.16,134.84 118.58,135.06 119.01,135.28 119.44,135.51 119.86,135.74 120.29,135.97 120.72,136.21 121.15,136.44 121.57,136.68 122.00,136.92" fill="none" stroke="#2fbf8f" stroke-width="0.95" stroke-linejoin="round" stroke-linecap="round"/>
<polyline points="37.00,129.44 37.43,129.52 37.85,129.60 38.28,129.67 38.71,129.75 39.14,129.83 39.56,129.91 39.99,130.00 40.42,130.10 40.84,130.20 41.27,130.28 41.70,130.33 42.13,130.34 42.55,130.24 42.98,130.06 43.41,129.84 43.83,129.63 44.26,129.48 44.69,129.42 45.12,129.39 45.54,129.36 45.97,129.33 46.40,129.30 46.82,129.28 47.25,129.26 47.68,129.24 48.11,129.23 48.53,129.22 48.96,129.22 49.39,129.21 49.81,129.22 50.24,129.23 50.67,129.26 51.10,129.31 51.52,129.36 51.95,129.42 52.38,129.49 52.80,129.56 53.23,129.64 53.66,129.72 54.09,129.81 54.51,129.90 54.94,129.99 55.37,130.10 55.79,130.23 56.22,130.37 56.65,130.53 57.08,130.70 57.50,130.88 57.93,131.08 58.36,131.30 58.78,131.52 59.21,131.76 59.64,132.02 60.07,132.30 60.49,132.60 60.92,132.94 61.35,133.32 61.77,133.74 62.20,134.20 62.63,134.71 63.06,135.27 63.48,135.88 63.91,136.56 64.34,137.30 64.76,138.22 65.19,139.68 65.62,141.54 66.05,143.63 66.47,145.77 66.90,147.79 67.33,149.50 67.75,150.73 68.18,151.53 68.61,152.31 69.04,153.49 69.46,157.15 69.89,165.32 70.32,160.50 70.74,150.57 71.17,148.57 71.60,147.42 72.03,146.34 72.45,144.55 72.88,141.81 73.31,138.62 73.73,135.53 74.16,133.07 74.59,131.76 75.02,130.97 75.44,130.26 75.87,129.66 76.30,129.17 76.72,128.80 77.15,128.59 77.58,128.53 78.01,128.54 78.43,128.54 78.86,128.56 79.29,128.57 79.71,128.59 80.14,128.61 80.57,128.63 80.99,128.66 81.42,128.69 81.85,128.72 82.28,128.74 82.70,128.78 83.13,128.81 83.56,128.85 83.98,128.89 84.41,128.94 84.84,129.00 85.27,129.06 85.69,129.13 86.12,129.20 86.55,129.28 86.97,129.36 87.40,129.45 87.83,129.55 88.26,129.65 88.68,129.76 89.11,129.88 89.54,130.00 89.96,130.14 90.39,130.27 90.82,130.42 91.25,130.57 91.67,130.75 92.10,130.97 92.53,131.24 92.95,131.58 93.38,131.98 93.81,132.47 94.24,133.05 94.66,134.44 95.09,136.65 95.52,138.41 95.94,138.24 96.37,135.18 96.80,132.97 97.23,132.24 97.65,131.71 98.08,131.31 98.51,130.98 98.93,130.66 99.36,130.35 99.79,130.04 100.22,129.75 100.64,129.48 101.07,129.24 101.50,129.04 101.92,128.89 102.35,128.79 102.78,128.76 103.21,128.78 103.63,128.83 104.06,128.91 104.49,129.01 104.91,129.13 105.34,129.28 105.77,129.44 106.20,129.62 106.62,129.80 107.05,130.00 107.48,130.20 107.90,130.40 108.33,130.60 108.76,130.80 109.19,131.00 109.61,131.18 110.04,131.36 110.47,131.52 110.89,131.66 111.32,131.79 111.75,131.89 112.18,131.96 112.60,132.04 113.03,132.11 113.46,132.18 113.88,132.25 114.31,132.32 114.74,132.39 115.17,132.46 115.59,132.52 116.02,132.58 116.45,132.64 116.87,132.70 117.30,132.75 117.73,132.80 118.16,132.85 118.58,132.89 119.01,132.93 119.44,132.97 119.86,133.00 120.29,133.02 120.72,133.04 121.15,133.06 121.57,133.06 122.00,133.07" fill="none" stroke="#3b8ff0" stroke-width="0.95" stroke-linejoin="round" stroke-linecap="round"/>
<polyline points="37.00,129.44 37.43,129.52 37.85,129.60 38.28,129.67 38.71,129.75 39.14,129.83 39.56,129.91 39.99,130.00 40.42,130.10 40.84,130.20 41.27,130.28 41.70,130.33 42.13,130.34 42.55,130.24 42.98,130.06 43.41,129.84 43.83,129.63 44.26,129.48 44.69,129.42 45.12,129.39 45.54,129.36 45.97,129.33 46.40,129.30 46.82,129.28 47.25,129.26 47.68,129.24 48.11,129.23 48.53,129.22 48.96,129.22 49.39,129.21 49.81,129.22 50.24,129.23 50.67,129.26 51.10,129.31 51.52,129.36 51.95,129.42 52.38,129.49 52.80,129.56 53.23,129.64 53.66,129.72 54.09,129.81 54.51,129.90 54.94,129.99 55.37,130.11 55.79,130.25 56.22,130.41 56.65,130.58 57.08,130.76 57.50,130.95 57.93,131.15 58.36,131.36 58.78,131.57 59.21,131.79 59.64,132.00 60.07,132.21 60.49,132.41 60.92,132.61 61.35,132.81 61.77,133.01 62.20,133.22 62.63,133.43 63.06,133.66 63.48,133.91 63.91,134.17 64.34,134.46 64.76,134.77 65.19,135.11 65.62,135.49 66.05,135.90 66.47,136.34 66.90,136.83 67.33,137.37 67.75,138.03 68.18,139.10 68.61,140.56 69.04,142.35 69.46,144.40 69.89,146.64 70.32,149.02 70.74,151.51 71.17,154.35 71.60,157.80 72.03,162.13 72.45,169.11 72.88,180.00 73.31,174.20 73.73,159.76 74.16,154.32 74.59,150.40 75.02,147.24 75.44,144.09 75.87,140.84 76.30,137.73 76.72,135.03 77.15,132.97 77.58,131.78 78.01,130.99 78.43,130.28 78.86,129.67 79.29,129.18 79.71,128.81 80.14,128.59 80.57,128.53 80.99,128.54 81.42,128.54 81.85,128.55 82.28,128.56 82.70,128.58 83.13,128.60 83.56,128.62 83.98,128.65 84.41,128.68 84.84,128.71 85.27,128.74 85.69,128.78 86.12,128.88 86.55,129.02 86.97,129.21 87.40,129.43 87.83,129.67 88.26,129.91 88.68,130.15 89.11,130.38 89.54,130.59 89.96,130.76 90.39,130.90 90.82,131.04 91.25,131.19 91.67,131.38 92.10,131.63 92.53,131.96 92.95,133.12 93.38,134.92 93.81,136.28 94.24,135.88 94.66,133.29 95.09,131.84 95.52,131.49 95.94,131.25 96.37,131.08 96.80,130.90 97.23,130.67 97.65,130.41 98.08,130.12 98.51,129.83 98.93,129.55 99.36,129.29 99.79,129.07 100.22,128.90 100.64,128.79 101.07,128.76 101.50,128.77 101.92,128.80 102.35,128.85 102.78,128.91 103.21,128.99 103.63,129.08 104.06,129.18 104.49,129.29 104.91,129.42 105.34,129.55 105.77,129.69 106.20,129.84 106.62,129.99 107.05,130.15 107.48,130.31 107.90,130.47 108.33,130.64 108.76,130.80 109.19,130.96 109.61,131.12 110.04,131.28 110.47,131.44 110.89,131.58 111.32,131.73 111.75,131.86 112.18,131.99 112.60,132.11 113.03,132.23 113.46,132.36 113.88,132.48 114.31,132.61 114.74,132.74 115.17,132.86 115.59,132.99 116.02,133.11 116.45,133.24 116.87,133.36 117.30,133.49 117.73,133.61 118.16,133.74 118.58,133.87 119.01,133.99 119.44,134.12 119.86,134.25 120.29,134.37 120.72,134.50 121.15,134.63 121.57,134.75 122.00,134.88" fill="none" stroke="#7f7f7f" stroke-width="0.95" stroke-linejoin="round" stroke-linecap="round"/>
<polyline points="37.00,129.44 37.43,129.52 37.85,129.60 38.28,129.67 38.71,129.75 39.14,129.83 39.56,129.91 39.99,130.00 40.42,130.10 40.84,130.20 41.27,130.28 41.70,130.33 42.13,130.34 42.55,130.24 42.98,130.06 43.41,129.84 43.83,129.63 44.26,129.48 44.69,129.42 45.12,129.39 45.54,129.36 45.97,129.33 46.40,129.30 46.82,129.28 47.25,129.26 47.68,129.24 48.11,129.23 48.53,129.22 48.96,129.22 49.39,129.21 49.81,129.22 50.24,129.23 50.67,129.26 51.10,129.31 51.52,129.36 51.95,129.42 52.38,129.49 52.80,129.56 53.23,129.64 53.66,129.72 54.09,129.81 54.51,129.90 54.94,130.00 55.37,130.12 55.79,130.25 56.22,130.41 56.65,130.58 57.08,130.76 57.50,130.96 57.93,131.16 58.36,131.37 58.78,131.58 59.21,131.79 59.64,132.00 60.07,132.20 60.49,132.40 60.92,132.59 61.35,132.77 61.77,132.96 62.20,133.15 62.63,133.35 63.06,133.55 63.48,133.77 63.91,134.00 64.34,134.26 64.76,134.53 65.19,134.83 65.62,135.15 66.05,135.51 66.47,135.89 66.90,136.32 67.33,136.78 67.75,137.29 68.18,137.88 68.61,138.91 69.04,140.36 69.46,142.15 69.89,144.20 70.32,146.41 70.74,148.70 71.17,150.97 71.60,153.27 72.03,155.94 72.45,159.32 72.88,164.47 73.31,175.21 73.73,173.32 74.16,159.00 74.59,153.59 75.02,150.20 75.44,147.51 75.87,144.70 76.30,141.56 76.72,138.41 77.15,135.56 77.58,133.30 78.01,131.92 78.43,131.12 78.86,130.39 79.29,129.77 79.71,129.25 80.14,128.86 80.57,128.62 80.99,128.53 81.42,128.54 81.85,128.54 82.28,128.55 82.70,128.56 83.13,128.58 83.56,128.60 83.98,128.62 84.41,128.64 84.84,128.67 85.27,128.70 85.69,128.73 86.12,128.77 86.55,128.88 86.97,129.06 87.40,129.28 87.83,129.54 88.26,129.81 88.68,130.06 89.11,130.29 89.54,130.47 89.96,130.57 90.39,130.61 90.82,130.64 91.25,130.66 91.67,130.68 92.10,130.70 92.53,130.74 92.95,130.79 93.38,131.38 93.81,132.73 94.24,133.93 94.66,133.96 95.09,132.04 95.52,130.80 95.94,130.80 96.37,130.80 96.80,130.80 97.23,130.80 97.65,130.79 98.08,130.68 98.51,130.48 98.93,130.20 99.36,129.89 99.79,129.56 100.22,129.26 100.64,129.00 101.07,128.83 101.50,128.76 101.92,128.77 102.35,128.80 102.78,128.85 103.21,128.92 103.63,129.00 104.06,129.10 104.49,129.21 104.91,129.33 105.34,129.47 105.77,129.61 106.20,129.76 106.62,129.92 107.05,130.09 107.48,130.26 107.90,130.43 108.33,130.60 108.76,130.77 109.19,130.94 109.61,131.11 110.04,131.27 110.47,131.43 110.89,131.58 111.32,131.73 111.75,131.86 112.18,131.98 112.60,132.11 113.03,132.23 113.46,132.35 113.88,132.47 114.31,132.59 114.74,132.71 115.17,132.83 115.59,132.94 116.02,133.06 116.45,133.18 116.87,133.30 117.30,133.41 117.73,133.53 118.16,133.64 118.58,133.76 119.01,133.87 119.44,133.99 119.86,134.10 120.29,134.21 120.72,134.32 121.15,134.43 121.57,134.54 122.00,134.65" fill="none" stroke="#a8a832" stroke-width="0.95" stroke-linejoin="round" stroke-linecap="round"/>
<polyline points="37.00,129.44 37.43,129.52 37.85,129.60 38.28,129.67 38.71,129.75 39.14,129.83 39.56,129.91 39.99,130.00 40.42,130.10 40.84,130.20 41.27,130.28 41.70,130.33 42.13,130.34 42.55,130.24 42.98,130.06 43.41,129.84 43.83,129.63 44.26,129.48 44.69,129.42 45.12,129.39 45.54,129.36 45.97,129.33 46.40,129.30 46.82,129.28 47.25,129.26 47.68,129.24 48.11,129.23 48.53,129.22 48.96,129.22 49.39,129.21 49.81,129.22 50.24,129.23 50.67,129.26 51.10,129.31 51.52,129.36 51.95,129.42 52.38,129.49 52.80,129.56 53.23,129.64 53.66,129.72 54.09,129.81 54.51,129.90 54.94,129.99 55.37,130.11 55.79,130.23 56.22,130.38 56.65,130.54 57.08,130.71 57.50,130.90 57.93,131.10 58.36,131.31 58.78,131.53 59.21,131.77 59.64,132.01 60.07,132.27 60.49,132.55 60.92,132.85 61.35,133.17 61.77,133.53 62.20,133.91 62.63,134.34 63.06,134.81 63.48,135.32 63.91,135.89 64.34,136.51 64.76,137.20 65.19,137.96 65.62,138.97 66.05,140.25 66.47,141.83 66.90,143.71 67.33,145.92 67.75,148.45 68.18,151.49 68.61,156.20 69.04,162.52 69.46,170.06 69.89,179.36 70.32,193.89 70.74,190.70 71.17,171.05 71.60,161.45 72.03,154.16 72.45,148.55 72.88,144.39 73.31,140.83 73.73,137.70 74.16,135.09 74.59,133.13 75.02,131.90 75.44,131.10 75.87,130.38 76.30,129.75 76.72,129.24 77.15,128.86 77.58,128.62 78.01,128.53 78.43,128.54 78.86,128.54 79.29,128.55 79.71,128.57 80.14,128.58 80.57,128.60 80.99,128.63 81.42,128.65 81.85,128.68 82.28,128.71 82.70,128.74 83.13,128.77 83.56,128.81 83.98,128.85 84.41,128.91 84.84,128.97 85.27,129.04 85.69,129.12 86.12,129.21 86.55,129.31 86.97,129.42 87.40,129.55 87.83,129.68 88.26,129.83 88.68,129.99 89.11,130.17 89.54,130.35 89.96,130.56 90.39,130.83 90.82,131.24 91.25,131.78 91.67,132.45 92.10,133.26 92.53,134.18 92.95,135.22 93.38,137.17 93.81,140.22 94.24,142.72 94.66,142.79 95.09,138.77 95.52,135.27 95.94,133.82 96.37,132.65 96.80,131.75 97.23,131.09 97.65,130.66 98.08,130.30 98.51,129.97 98.93,129.67 99.36,129.41 99.79,129.19 100.22,129.01 100.64,128.87 101.07,128.79 101.50,128.76 101.92,128.77 102.35,128.80 102.78,128.85 103.21,128.92 103.63,129.01 104.06,129.11 104.49,129.23 104.91,129.35 105.34,129.49 105.77,129.64 106.20,129.80 106.62,129.96 107.05,130.13 107.48,130.30 107.90,130.47 108.33,130.64 108.76,130.81 109.19,130.98 109.61,131.15 110.04,131.31 110.47,131.46 110.89,131.61 111.32,131.74 111.75,131.87 112.18,131.98 112.60,132.09 113.03,132.20 113.46,132.31 113.88,132.41 114.31,132.52 114.74,132.62 115.17,132.72 115.59,132.83 116.02,132.93 116.45,133.03 116.87,133.12 117.30,133.22 117.73,133.32 118.16,133.41 118.58,133.51 119.01,133.60 119.44,133.69 119.86,133.78 120.29,133.86 120.72,133.95 121.15,134.04 121.57,134.12 122.00,134.20" fill="none" stroke="#ff6b6b" stroke-width="0.95" stroke-linejoin="round" stroke-linecap="round"/>
<polyline points="37.00,129.44 37.43,129.52 37.85,129.60 38.28,129.67 38.71,129.75 39.14,129.83 39.56,129.91 39.99,130.00 40.42,130.10 40.84,130.20 41.27,130.28 41.70,130.33 42.13,130.34 42.55,130.24 42.98,130.06 43.41,129.84 43.83,129.63 44.26,129.48 44.69,129.42 45.12,129.39 45.54,129.36 45.97,129.33 46.40,129.30 46.82,129.28 47.25,129.26 47.68,129.24 48.11,129.23 48.53,129.22 48.96,129.22 49.39,129.21 49.81,129.22 50.24,129.23 50.67,129.26 51.10,129.31 51.52,129.36 51.95,129.42 52.38,129.49 52.80,129.56 53.23,129.64 53.66,129.72 54.09,129.81 54.51,129.90 54.94,129.99 55.37,130.09 55.79,130.21 56.22,130.34 56.65,130.49 57.08,130.65 57.50,130.83 57.93,131.03 58.36,131.24 58.78,131.48 59.21,131.74 59.64,132.03 60.07,132.42 60.49,132.91 60.92,133.51 61.35,134.20 61.77,134.97 62.20,135.82 62.63,136.75 63.06,137.74 63.48,139.00 63.91,140.59 64.34,142.43 64.76,144.41 65.19,146.44 65.62,148.42 66.05,150.25 66.47,151.72 66.90,153.06 67.33,154.75 67.75,157.26 68.18,165.61 68.61,169.18 69.04,157.33 69.46,151.34 69.89,149.07 70.32,147.45 70.74,145.57 71.17,142.91 71.60,139.81 72.03,136.70 72.45,134.03 72.88,132.23 73.31,131.35 73.73,130.60 74.16,129.94 74.59,129.39 75.02,128.96 75.44,128.68 75.87,128.54 76.30,128.53 76.72,128.54 77.15,128.55 77.58,128.57 78.01,128.58 78.43,128.60 78.86,128.63 79.29,128.65 79.71,128.68 80.14,128.70 80.57,128.73 80.99,128.76 81.42,128.79 81.85,128.81 82.28,128.84 82.70,128.86 83.13,128.89 83.56,128.92 83.98,128.94 84.41,128.97 84.84,129.00 85.27,129.03 85.69,129.07 86.12,129.11 86.55,129.15 86.97,129.19 87.40,129.24 87.83,129.29 88.26,129.35 88.68,129.41 89.11,129.48 89.54,129.55 89.96,129.63 90.39,129.72 90.82,129.81 91.25,129.91 91.67,130.02 92.10,130.13 92.53,130.26 92.95,130.39 93.38,130.53 93.81,130.89 94.24,131.97 94.66,133.69 95.09,135.92 95.52,138.56 95.94,141.49 96.37,144.59 96.80,148.83 97.23,155.60 97.65,161.67 98.08,163.40 98.51,155.79 98.93,146.39 99.36,141.65 99.79,137.48 100.22,134.07 100.64,131.72 101.07,130.73 101.50,130.31 101.92,129.95 102.35,129.63 102.78,129.37 103.21,129.15 103.63,128.99 104.06,128.87 104.49,128.79 104.91,128.76 105.34,128.77 105.77,128.83 106.20,128.92 106.62,129.05 107.05,129.20 107.48,129.39 107.90,129.59 108.33,129.82 108.76,130.06 109.19,130.30 109.61,130.56 110.04,130.82 110.47,131.08 110.89,131.33 111.32,131.57 111.75,131.81 112.18,132.02 112.60,132.24 113.03,132.46 113.46,132.68 113.88,132.90 114.31,133.13 114.74,133.35 115.17,133.58 115.59,133.82 116.02,134.05 116.45,134.29 116.87,134.53 117.30,134.77 117.73,135.02 118.16,135.27 118.58,135.52 119.01,135.77 119.44,136.02 119.86,136.28 120.29,136.54 120.72,136.80 121.15,137.07 121.57,137.33 122.00,137.60" fill="none" stroke="#14d2e6" stroke-width="0.95" stroke-linejoin="round" stroke-linecap="round"/>
<text x="107.9" y="146.1" font-size="4.35" fill="#555" text-anchor="start" font-family="'Liberation Sans', Arial, sans-serif" stroke="#555" stroke-width="0.16">Horizontal</text>
<text x="107.9" y="151.8" font-size="4.35" fill="#555" text-anchor="start" font-family="'Liberation Sans', Arial, sans-serif" stroke="#555" stroke-width="0.16">displacement</text>
<line x1="107.9" y1="155.8" x2="118.8" y2="155.8" stroke="#7f7f7f" stroke-width="0.9"/>
<text x="119.7" y="157.4" font-size="4.35" fill="#555" text-anchor="start" font-family="'Liberation Sans', Arial, sans-serif" stroke="#555" stroke-width="0.16">0mm</text>
<line x1="107.9" y1="161.5" x2="118.8" y2="161.5" stroke="#ff6b6b" stroke-width="0.9"/>
<text x="119.7" y="163.1" font-size="4.35" fill="#555" text-anchor="start" font-family="'Liberation Sans', Arial, sans-serif" stroke="#555" stroke-width="0.16">10mm</text>
<line x1="107.9" y1="167.2" x2="118.8" y2="167.2" stroke="#3b8ff0" stroke-width="0.9"/>
<text x="119.7" y="168.8" font-size="4.35" fill="#555" text-anchor="start" font-family="'Liberation Sans', Arial, sans-serif" stroke="#555" stroke-width="0.16">20mm</text>
<line x1="107.9" y1="173.0" x2="118.8" y2="173.0" stroke="#2fbf8f" stroke-width="0.9"/>
<text x="119.7" y="174.6" font-size="4.35" fill="#555" text-anchor="start" font-family="'Liberation Sans', Arial, sans-serif" stroke="#555" stroke-width="0.16">30mm</text>
<line x1="107.9" y1="178.7" x2="118.8" y2="178.7" stroke="#d69cf5" stroke-width="0.9"/>
<text x="119.7" y="180.3" font-size="4.35" fill="#555" text-anchor="start" font-family="'Liberation Sans', Arial, sans-serif" stroke="#555" stroke-width="0.16">40mm</text>
<line x1="107.9" y1="184.4" x2="118.8" y2="184.4" stroke="#f2b233" stroke-width="0.9"/>
<text x="119.7" y="186.0" font-size="4.35" fill="#555" text-anchor="start" font-family="'Liberation Sans', Arial, sans-serif" stroke="#555" stroke-width="0.16">50mm</text>
<line x1="107.9" y1="190.1" x2="118.8" y2="190.1" stroke="#14d2e6" stroke-width="0.9"/>
<text x="119.7" y="191.7" font-size="4.35" fill="#555" text-anchor="start" font-family="'Liberation Sans', Arial, sans-serif" stroke="#555" stroke-width="0.16">60mm</text>
<line x1="107.9" y1="195.8" x2="118.8" y2="195.8" stroke="#c08a8a" stroke-width="0.9"/>
<text x="119.7" y="197.4" font-size="4.35" fill="#555" text-anchor="start" font-family="'Liberation Sans', Arial, sans-serif" stroke="#555" stroke-width="0.16">70mm</text>
<line x1="107.9" y1="201.6" x2="118.8" y2="201.6" stroke="#a8a832" stroke-width="0.9"/>
<text x="119.7" y="203.2" font-size="4.35" fill="#555" text-anchor="start" font-family="'Liberation Sans', Arial, sans-serif" stroke="#555" stroke-width="0.16">80mm</text>
<line x1="154.6" y1="127.6" x2="154.6" y2="207.0" stroke="#4a4a4a" stroke-width="0.8"/>
<line x1="154.6" y1="207.0" x2="250.0" y2="207.0" stroke="#4a4a4a" stroke-width="0.8"/>
<line x1="164.0" y1="207.0" x2="164.0" y2="208.6" stroke="#4a4a4a" stroke-width="0.8"/>
<text x="164.0" y="214.3" font-size="6.1" fill="#222" text-anchor="middle" font-family="'Liberation Sans', Arial, sans-serif" font-weight="bold" stroke="#222" stroke-width="0.12">0</text>
<line x1="183.8" y1="207.0" x2="183.8" y2="208.6" stroke="#4a4a4a" stroke-width="0.8"/>
<text x="183.8" y="214.3" font-size="6.1" fill="#222" text-anchor="middle" font-family="'Liberation Sans', Arial, sans-serif" font-weight="bold" stroke="#222" stroke-width="0.12">20</text>
<line x1="203.6" y1="207.0" x2="203.6" y2="208.6" stroke="#4a4a4a" stroke-width="0.8"/>
<text x="203.6" y="214.3" font-size="6.1" fill="#222" text-anchor="middle" font-family="'Liberation Sans', Arial, sans-serif" font-weight="bold" stroke="#222" stroke-width="0.12">40</text>
<line x1="223.4" y1="207.0" x2="223.4" y2="208.6" stroke="#4a4a4a" stroke-width="0.8"/>
<text x="223.4" y="214.3" font-size="6.1" fill="#222" text-anchor="middle" font-family="'Liberation Sans', Arial, sans-serif" font-weight="bold" stroke="#222" stroke-width="0.12">60</text>
<line x1="243.2" y1="207.0" x2="243.2" y2="208.6" stroke="#4a4a4a" stroke-width="0.8"/>
<text x="243.2" y="214.3" font-size="6.1" fill="#222" text-anchor="middle" font-family="'Liberation Sans', Arial, sans-serif" font-weight="bold" stroke="#222" stroke-width="0.12">80</text>
<line x1="153.0" y1="207.0" x2="154.6" y2="207.0" stroke="#4a4a4a" stroke-width="0.8"/>
<text x="151.8" y="209.2" font-size="6.1" fill="#222" text-anchor="end" font-family="'Liberation Sans', Arial, sans-serif" font-weight="bold" stroke="#222" stroke-width="0.12">300</text>
<line x1="153.0" y1="187.2" x2="154.6" y2="187.2" stroke="#4a4a4a" stroke-width="0.8"/>
<text x="151.8" y="189.3" font-size="6.1" fill="#222" text-anchor="end" font-family="'Liberation Sans', Arial, sans-serif" font-weight="bold" stroke="#222" stroke-width="0.12">315</text>
<line x1="153.0" y1="167.3" x2="154.6" y2="167.3" stroke="#4a4a4a" stroke-width="0.8"/>
<text x="151.8" y="169.5" font-size="6.1" fill="#222" text-anchor="end" font-family="'Liberation Sans', Arial, sans-serif" font-weight="bold" stroke="#222" stroke-width="0.12">330</text>
<line x1="153.0" y1="147.5" x2="154.6" y2="147.5" stroke="#4a4a4a" stroke-width="0.8"/>
<text x="151.8" y="149.6" font-size="6.1" fill="#222" text-anchor="end" font-family="'Liberation Sans', Arial, sans-serif" font-weight="bold" stroke="#222" stroke-width="0.12">345</text>
<line x1="153.0" y1="127.6" x2="154.6" y2="127.6" stroke="#4a4a4a" stroke-width="0.8"/>
<text x="151.8" y="129.8" font-size="6.1" fill="#222" text-anchor="end" font-family="'Liberation Sans', Arial, sans-serif" font-weight="bold" stroke="#222" stroke-width="0.12">360</text>
<line x1="173.9" y1="207.0" x2="173.9" y2="208.0" stroke="#4a4a4a" stroke-width="0.5"/>
<line x1="193.7" y1="207.0" x2="193.7" y2="208.0" stroke="#4a4a4a" stroke-width="0.5"/>
<line x1="213.5" y1="207.0" x2="213.5" y2="208.0" stroke="#4a4a4a" stroke-width="0.5"/>
<line x1="233.3" y1="207.0" x2="233.3" y2="208.0" stroke="#4a4a4a" stroke-width="0.5"/>
<line x1="153.6" y1="197.1" x2="154.6" y2="197.1" stroke="#4a4a4a" stroke-width="0.5"/>
<line x1="153.6" y1="177.2" x2="154.6" y2="177.2" stroke="#4a4a4a" stroke-width="0.5"/>
<line x1="153.6" y1="157.4" x2="154.6" y2="157.4" stroke="#4a4a4a" stroke-width="0.5"/>
<line x1="153.6" y1="137.5" x2="154.6" y2="137.5" stroke="#4a4a4a" stroke-width="0.5"/>
<text x="203.6" y="222.5" font-size="5.7" fill="#333" text-anchor="middle" font-family="'Liberation Sans', Arial, sans-serif" stroke="#333" stroke-width="0.16">Horizontal displacement (mm)</text>
<text x="139.5" y="167.0" font-size="5.6" fill="#333" text-anchor="middle" font-family="'Liberation Sans', Arial, sans-serif" transform="rotate(-90 139.5 167)" stroke="#333" stroke-width="0.16">Frequency (MHz)</text>
<polyline points="164.00,151.42 173.90,176.56 183.80,140.84 193.70,146.13 203.60,155.39 213.50,154.07 223.40,147.45 233.30,151.42 243.20,163.33" fill="none" stroke="#222" stroke-width="0.7" stroke-linejoin="round" stroke-linecap="round"/>
<rect x="162.9" y="150.3" width="2.2" height="2.2" fill="#222"/>
<rect x="172.8" y="175.5" width="2.2" height="2.2" fill="#222"/>
<rect x="182.7" y="139.7" width="2.2" height="2.2" fill="#222"/>
<rect x="192.6" y="145.0" width="2.2" height="2.2" fill="#222"/>
<rect x="202.5" y="154.3" width="2.2" height="2.2" fill="#222"/>
<rect x="212.4" y="153.0" width="2.2" height="2.2" fill="#222"/>
<rect x="222.3" y="146.4" width="2.2" height="2.2" fill="#222"/>
<rect x="232.2" y="150.3" width="2.2" height="2.2" fill="#222"/>
<rect x="242.1" y="162.2" width="2.2" height="2.2" fill="#222"/>
<text x="205.0" y="123.6" font-size="9.1" fill="#111" text-anchor="middle" font-family="'Liberation Sans', Arial, sans-serif" font-weight="bold" stroke="#111" stroke-width="0.18">Different horizontal</text>
<text x="205.7" y="134.0" font-size="9.1" fill="#111" text-anchor="middle" font-family="'Liberation Sans', Arial, sans-serif" font-weight="bold" stroke="#111" stroke-width="0.18">displacements</text>
<text x="251.2" y="129.7" font-size="10.0" fill="#111" text-anchor="start" font-family="'Liberation Sans', Arial, sans-serif" font-weight="bold" stroke="#111" stroke-width="0.2">(e)</text>
<line x1="273.6" y1="119.6" x2="273.6" y2="210.0" stroke="#4a4a4a" stroke-width="0.8"/>
<line x1="273.6" y1="210.0" x2="386.0" y2="210.0" stroke="#4a4a4a" stroke-width="0.8"/>
<line x1="285.0" y1="210.0" x2="285.0" y2="211.6" stroke="#4a4a4a" stroke-width="0.8"/>
<text x="285.0" y="217.2" font-size="5.9" fill="#222" text-anchor="middle" font-family="'Liberation Sans', Arial, sans-serif" font-weight="bold" stroke="#222" stroke-width="0.12">200</text>
<line x1="307.1" y1="210.0" x2="307.1" y2="211.6" stroke="#4a4a4a" stroke-width="0.8"/>
<text x="307.1" y="217.2" font-size="5.9" fill="#222" text-anchor="middle" font-family="'Liberation Sans', Arial, sans-serif" font-weight="bold" stroke="#222" stroke-width="0.12">250</text>
<line x1="329.3" y1="210.0" x2="329.3" y2="211.6" stroke="#4a4a4a" stroke-width="0.8"/>
<text x="329.3" y="217.2" font-size="5.9" fill="#222" text-anchor="middle" font-family="'Liberation Sans', Arial, sans-serif" font-weight="bold" stroke="#222" stroke-width="0.12">300</text>
<line x1="351.4" y1="210.0" x2="351.4" y2="211.6" stroke="#4a4a4a" stroke-width="0.8"/>
<text x="351.4" y="217.2" font-size="5.9" fill="#222" text-anchor="middle" font-family="'Liberation Sans', Arial, sans-serif" font-weight="bold" stroke="#222" stroke-width="0.12">350</text>
<line x1="373.6" y1="210.0" x2="373.6" y2="211.6" stroke="#4a4a4a" stroke-width="0.8"/>
<text x="373.6" y="217.2" font-size="5.9" fill="#222" text-anchor="middle" font-family="'Liberation Sans', Arial, sans-serif" font-weight="bold" stroke="#222" stroke-width="0.12">400</text>
<line x1="272.0" y1="126.0" x2="273.6" y2="126.0" stroke="#4a4a4a" stroke-width="0.8"/>
<text x="270.8" y="128.1" font-size="5.9" fill="#222" text-anchor="end" font-family="'Liberation Sans', Arial, sans-serif" font-weight="bold" stroke="#222" stroke-width="0.12">0</text>
<line x1="272.0" y1="146.8" x2="273.6" y2="146.8" stroke="#4a4a4a" stroke-width="0.8"/>
<text x="270.8" y="149.0" font-size="5.9" fill="#222" text-anchor="end" font-family="'Liberation Sans', Arial, sans-serif" font-weight="bold" stroke="#222" stroke-width="0.12">-3</text>
<line x1="272.0" y1="167.7" x2="273.6" y2="167.7" stroke="#4a4a4a" stroke-width="0.8"/>
<text x="270.8" y="169.8" font-size="5.9" fill="#222" text-anchor="end" font-family="'Liberation Sans', Arial, sans-serif" font-weight="bold" stroke="#222" stroke-width="0.12">-6</text>
<line x1="272.0" y1="188.6" x2="273.6" y2="188.6" stroke="#4a4a4a" stroke-width="0.8"/>
<text x="270.8" y="190.7" font-size="5.9" fill="#222" text-anchor="end" font-family="'Liberation Sans', Arial, sans-serif" font-weight="bold" stroke="#222" stroke-width="0.12">-9</text>
<line x1="272.0" y1="209.4" x2="273.6" y2="209.4" stroke="#4a4a4a" stroke-width="0.8"/>
<text x="270.8" y="211.5" font-size="5.9" fill="#222" text-anchor="end" font-family="'Liberation Sans', Arial, sans-serif" font-weight="bold" stroke="#222" stroke-width="0.12">-12</text>
<line x1="296.1" y1="210.0" x2="296.1" y2="211.0" stroke="#4a4a4a" stroke-width="0.5"/>
<line x1="318.2" y1="210.0" x2="318.2" y2="211.0" stroke="#4a4a4a" stroke-width="0.5"/>
<line x1="340.4" y1="210.0" x2="340.4" y2="211.0" stroke="#4a4a4a" stroke-width="0.5"/>
<line x1="362.5" y1="210.0" x2="362.5" y2="211.0" stroke="#4a4a4a" stroke-width="0.5"/>
<line x1="272.6" y1="136.4" x2="273.6" y2="136.4" stroke="#4a4a4a" stroke-width="0.5"/>
<line x1="272.6" y1="157.3" x2="273.6" y2="157.3" stroke="#4a4a4a" stroke-width="0.5"/>
<line x1="272.6" y1="178.1" x2="273.6" y2="178.1" stroke="#4a4a4a" stroke-width="0.5"/>
<line x1="272.6" y1="199.0" x2="273.6" y2="199.0" stroke="#4a4a4a" stroke-width="0.5"/>
<text x="329.6" y="225.6" font-size="6.1" fill="#333" text-anchor="middle" font-family="'Liberation Sans', Arial, sans-serif" stroke="#333" stroke-width="0.16">Frequency(MHz)</text>
<text x="258.5" y="162.5" font-size="6.2" fill="#333" text-anchor="middle" font-family="'Liberation Sans', Arial, sans-serif" transform="rotate(-90 258.5 162.5)" stroke="#333" stroke-width="0.16">Return loss(dB)</text>
<polyline points="287.21,148.24 287.65,148.46 288.08,148.69 288.52,148.90 288.95,149.11 289.39,149.32 289.82,149.52 290.25,149.71 290.69,149.90 291.12,150.08 291.56,150.25 291.99,150.41 292.42,150.57 292.86,150.72 293.29,150.85 293.73,150.98 294.16,151.10 294.59,151.21 295.03,151.30 295.46,151.38 295.90,151.46 296.33,151.53 296.77,151.60 297.20,151.67 297.63,151.74 298.07,151.82 298.50,151.90 298.94,151.99 299.37,152.09 299.80,152.20 300.24,152.32 300.67,152.47 301.11,152.65 301.54,152.87 301.97,153.12 302.41,153.41 302.84,153.73 303.28,154.08 303.71,154.45 304.14,154.84 304.58,155.25 305.01,155.69 305.45,156.13 305.88,156.59 306.32,157.06 306.75,157.53 307.18,158.01 307.62,158.51 308.05,159.06 308.49,159.65 308.92,160.27 309.35,160.93 309.79,161.62 310.22,162.33 310.66,163.07 311.09,163.82 311.52,164.60 311.96,165.38 312.39,166.17 312.83,167.01 313.26,167.94 313.69,168.95 314.13,170.00 314.56,171.06 315.00,172.13 315.43,173.15 315.87,174.12 316.30,175.01 316.73,175.78 317.17,176.46 317.60,177.16 318.04,177.85 318.47,178.51 318.90,179.11 319.34,179.61 319.77,179.98 320.21,180.18 320.64,180.14 321.07,179.58 321.51,178.56 321.94,177.18 322.38,175.59 322.81,173.90 323.24,172.23 323.68,170.69 324.11,169.04 324.55,167.22 324.98,165.29 325.42,163.28 325.85,161.24 326.28,159.22 326.72,157.26 327.15,155.42 327.59,153.74 328.02,152.25 328.45,150.87 328.89,149.51 329.32,148.18 329.76,146.88 330.19,145.62 330.62,144.41 331.06,143.26 331.49,142.17 331.93,141.15 332.36,140.21 332.80,139.35 333.23,138.58 333.66,137.91 334.10,137.30 334.53,136.70 334.97,136.11 335.40,135.53 335.83,134.97 336.27,134.43 336.70,133.92 337.14,133.45 337.57,133.01 338.00,132.63 338.44,132.29 338.87,132.01 339.31,131.79 339.74,131.64 340.17,131.57 340.61,131.56 341.04,131.56 341.48,131.56 341.91,131.56 342.35,131.56 342.78,131.56 343.21,131.56 343.65,131.56 344.08,131.56 344.52,131.56 344.95,131.56 345.38,131.57 345.82,131.72 346.25,132.04 346.69,132.50 347.12,133.08 347.55,133.75 347.99,134.52 348.42,136.31 348.86,138.38 349.29,139.18 349.72,137.64 350.16,135.13 350.59,133.61 351.03,133.09 351.46,132.64 351.90,132.27 352.33,131.97 352.76,131.75 353.20,131.61 353.63,131.56 354.07,131.57 354.50,131.60 354.93,131.64 355.37,131.70 355.80,131.77 356.24,131.86 356.67,131.96 357.10,132.06 357.54,132.17 357.97,132.29 358.41,132.41 358.84,132.54 359.27,132.66 359.71,132.78 360.14,132.90 360.58,133.02 361.01,133.14 361.45,133.27 361.88,133.40 362.31,133.54 362.75,133.68 363.18,133.82 363.62,133.97 364.05,134.12 364.48,134.28 364.92,134.44 365.35,134.60 365.79,134.77 366.22,134.95 366.65,135.12 367.09,135.31 367.52,135.49 367.96,135.68 368.39,135.88 368.82,136.07 369.26,136.28 369.69,136.48 370.13,136.69 370.56,136.91 371.00,137.12 371.43,137.35 371.86,137.57 372.30,137.80 372.73,138.03 373.17,138.27 373.60,138.51" fill="none" stroke="#d69cf5" stroke-width="1.0" stroke-linejoin="round" stroke-linecap="round"/>
<polyline points="287.21,146.85 287.65,147.10 288.08,147.36 288.52,147.61 288.95,147.87 289.39,148.14 289.82,148.40 290.25,148.67 290.69,148.95 291.12,149.22 291.56,149.50 291.99,149.78 292.42,150.06 292.86,150.35 293.29,150.64 293.73,150.93 294.16,151.22 294.59,151.52 295.03,151.82 295.46,152.11 295.90,152.42 296.33,152.72 296.77,153.03 297.20,153.34 297.63,153.66 298.07,153.98 298.50,154.30 298.94,154.64 299.37,154.97 299.80,155.32 300.24,155.67 300.67,156.02 301.11,156.38 301.54,156.74 301.97,157.11 302.41,157.48 302.84,157.86 303.28,158.24 303.71,158.64 304.14,159.04 304.58,159.45 305.01,159.87 305.45,160.31 305.88,160.75 306.32,161.21 306.75,161.69 307.18,162.18 307.62,162.68 308.05,163.21 308.49,163.75 308.92,164.30 309.35,164.88 309.79,165.49 310.22,166.11 310.66,166.76 311.09,167.44 311.52,168.15 311.96,168.88 312.39,169.65 312.83,170.48 313.26,171.42 313.69,172.44 314.13,173.54 314.56,174.68 315.00,175.86 315.43,177.06 315.87,178.25 316.30,179.42 316.73,180.54 317.17,181.61 317.60,182.61 318.04,183.54 318.47,184.53 318.90,185.57 319.34,186.63 319.77,187.65 320.21,188.62 320.64,189.50 321.07,190.24 321.51,190.82 321.94,191.19 322.38,191.33 322.81,190.93 323.24,189.79 323.68,188.10 324.11,186.07 324.55,183.88 324.98,181.72 325.42,179.77 325.85,177.78 326.28,175.63 326.72,173.37 327.15,171.03 327.59,168.65 328.02,166.28 328.45,163.95 328.89,161.71 329.32,159.58 329.76,157.62 330.19,155.87 330.62,154.23 331.06,152.61 331.49,151.01 331.93,149.45 332.36,147.94 332.80,146.48 333.23,145.09 333.66,143.77 334.10,142.54 334.53,141.41 334.97,140.38 335.40,139.47 335.83,138.69 336.27,138.00 336.70,137.33 337.14,136.66 337.57,136.01 338.00,135.38 338.44,134.78 338.87,134.21 339.31,133.68 339.74,133.20 340.17,132.77 340.61,132.39 341.04,132.08 341.48,131.84 341.91,131.66 342.35,131.57 342.78,131.56 343.21,131.56 343.65,131.56 344.08,131.56 344.52,131.56 344.95,131.56 345.38,131.56 345.82,131.56 346.25,131.57 346.69,131.85 347.12,132.38 347.55,133.06 347.99,133.80 348.42,135.13 348.86,136.56 349.29,137.10 349.72,135.94 350.16,134.05 350.59,132.92 351.03,132.57 351.46,132.27 351.90,132.02 352.33,131.83 352.76,131.68 353.20,131.59 353.63,131.56 354.07,131.56 354.50,131.58 354.93,131.60 355.37,131.62 355.80,131.66 356.24,131.70 356.67,131.74 357.10,131.79 357.54,131.85 357.97,131.91 358.41,131.97 358.84,132.03 359.27,132.10 359.71,132.16 360.14,132.23 360.58,132.30 361.01,132.37 361.45,132.45 361.88,132.54 362.31,132.64 362.75,132.74 363.18,132.85 363.62,132.96 364.05,133.08 364.48,133.21 364.92,133.34 365.35,133.48 365.79,133.63 366.22,133.78 366.65,133.93 367.09,134.09 367.52,134.26 367.96,134.44 368.39,134.61 368.82,134.80 369.26,134.98 369.69,135.18 370.13,135.38 370.56,135.58 371.00,135.79 371.43,136.00 371.86,136.21 372.30,136.43 372.73,136.66 373.17,136.89 373.60,137.12" fill="none" stroke="#f2b233" stroke-width="1.0" stroke-linejoin="round" stroke-linecap="round"/>
<polyline points="287.21,151.02 287.65,151.18 288.08,151.34 288.52,151.51 288.95,151.68 289.39,151.85 289.82,152.03 290.25,152.21 290.69,152.39 291.12,152.58 291.56,152.76 291.99,152.95 292.42,153.15 292.86,153.34 293.29,153.54 293.73,153.74 294.16,153.94 294.59,154.14 295.03,154.34 295.46,154.55 295.90,154.76 296.33,154.97 296.77,155.18 297.20,155.40 297.63,155.62 298.07,155.85 298.50,156.08 298.94,156.33 299.37,156.58 299.80,156.84 300.24,157.11 300.67,157.38 301.11,157.67 301.54,157.96 301.97,158.27 302.41,158.58 302.84,158.91 303.28,159.24 303.71,159.59 304.14,159.95 304.58,160.32 305.01,160.71 305.45,161.11 305.88,161.52 306.32,161.96 306.75,162.41 307.18,162.87 307.62,163.37 308.05,163.90 308.49,164.47 308.92,165.07 309.35,165.70 309.79,166.35 310.22,167.04 310.66,167.74 311.09,168.46 311.52,169.20 311.96,169.96 312.39,170.72 312.83,171.50 313.26,172.29 313.69,173.08 314.13,173.89 314.56,174.77 315.00,175.70 315.43,176.66 315.87,177.65 316.30,178.65 316.73,179.65 317.17,180.63 317.60,181.58 318.04,182.48 318.47,183.32 318.90,184.13 319.34,185.01 319.77,185.92 320.21,186.75 320.64,187.40 321.07,187.79 321.51,187.78 321.94,187.01 322.38,185.60 322.81,183.75 323.24,181.66 323.68,179.53 324.11,177.54 324.55,175.34 324.98,172.84 325.42,170.13 325.85,167.30 326.28,164.42 326.72,161.58 327.15,158.86 327.59,156.34 328.02,154.11 328.45,152.25 328.89,150.59 329.32,148.98 329.76,147.43 330.19,145.94 330.62,144.52 331.06,143.18 331.49,141.93 331.93,140.77 332.36,139.71 332.80,138.76 333.23,137.93 333.66,137.22 334.10,136.59 334.53,135.97 334.97,135.37 335.40,134.78 335.83,134.22 336.27,133.68 336.70,133.17 337.14,132.70 337.57,132.28 338.00,131.90 338.44,131.57 338.87,131.30 339.31,131.09 339.74,130.95 340.17,130.87 340.61,130.87 341.04,130.88 341.48,130.90 341.91,130.94 342.35,130.98 342.78,131.04 343.21,131.10 343.65,131.18 344.08,131.27 344.52,131.37 344.95,131.48 345.38,131.61 345.82,131.85 346.25,132.24 346.69,132.78 347.12,133.46 347.55,134.27 347.99,135.29 348.42,138.04 348.86,141.35 349.29,142.64 349.72,140.53 350.16,137.07 350.59,134.99 351.03,134.29 351.46,133.69 351.90,133.19 352.33,132.80 352.76,132.50 353.20,132.32 353.63,132.26 354.07,132.28 354.50,132.35 354.93,132.47 355.37,132.63 355.80,132.83 356.24,133.06 356.67,133.31 357.10,133.58 357.54,133.87 357.97,134.17 358.41,134.47 358.84,134.78 359.27,135.07 359.71,135.36 360.14,135.63 360.58,135.89 361.01,136.14 361.45,136.40 361.88,136.66 362.31,136.92 362.75,137.19 363.18,137.46 363.62,137.73 364.05,138.01 364.48,138.28 364.92,138.56 365.35,138.85 365.79,139.13 366.22,139.42 366.65,139.71 367.09,140.00 367.52,140.30 367.96,140.60 368.39,140.90 368.82,141.21 369.26,141.52 369.69,141.83 370.13,142.14 370.56,142.46 371.00,142.78 371.43,143.10 371.86,143.43 372.30,143.76 372.73,144.09 373.17,144.43 373.60,144.76" fill="none" stroke="#2fbf8f" stroke-width="1.0" stroke-linejoin="round" stroke-linecap="round"/>
<polyline points="287.21,146.85 287.65,147.13 288.08,147.41 288.52,147.70 288.95,147.99 289.39,148.29 289.82,148.60 290.25,148.91 290.69,149.23 291.12,149.55 291.56,149.88 291.99,150.22 292.42,150.56 292.86,150.90 293.29,151.25 293.73,151.61 294.16,151.96 294.59,152.33 295.03,152.71 295.46,153.09 295.90,153.49 296.33,153.89 296.77,154.29 297.20,154.70 297.63,155.12 298.07,155.54 298.50,155.97 298.94,156.40 299.37,156.83 299.80,157.26 300.24,157.70 300.67,158.14 301.11,158.57 301.54,159.00 301.97,159.43 302.41,159.85 302.84,160.29 303.28,160.73 303.71,161.18 304.14,161.65 304.58,162.13 305.01,162.63 305.45,163.16 305.88,163.71 306.32,164.30 306.75,164.93 307.18,165.64 307.62,166.39 308.05,167.19 308.49,168.02 308.92,168.87 309.35,169.74 309.79,170.60 310.22,171.46 310.66,172.29 311.09,173.10 311.52,173.86 311.96,174.63 312.39,175.48 312.83,176.38 313.26,177.29 313.69,178.17 314.13,178.98 314.56,179.70 315.00,180.28 315.43,180.69 315.87,180.89 316.30,180.86 316.73,180.62 317.17,180.21 317.60,179.64 318.04,178.96 318.47,178.19 318.90,177.35 319.34,176.48 319.77,175.54 320.21,174.26 320.64,172.66 321.07,170.80 321.51,168.77 321.94,166.62 322.38,164.44 322.81,162.30 323.24,160.27 323.68,158.42 324.11,156.82 324.55,155.28 324.98,153.76 325.42,152.25 325.85,150.77 326.28,149.33 326.72,147.94 327.15,146.61 327.59,145.36 328.02,144.18 328.45,143.10 328.89,142.12 329.32,141.25 329.76,140.44 330.19,139.66 330.62,138.89 331.06,138.16 331.49,137.45 331.93,136.78 332.36,136.14 332.80,135.54 333.23,134.99 333.66,134.48 334.10,134.03 334.53,133.63 334.97,133.29 335.40,133.01 335.83,132.77 336.27,132.55 336.70,132.33 337.14,132.12 337.57,131.91 338.00,131.73 338.44,131.55 338.87,131.39 339.31,131.25 339.74,131.13 340.17,131.03 340.61,130.95 341.04,130.90 341.48,130.87 341.91,130.87 342.35,130.90 342.78,130.96 343.21,131.04 343.65,131.15 344.08,131.29 344.52,131.45 344.95,131.64 345.38,131.85 345.82,132.08 346.25,132.33 346.69,132.77 347.12,133.42 347.55,134.30 347.99,135.38 348.42,136.71 348.86,139.97 349.29,143.85 349.72,145.43 350.16,142.87 350.59,138.52 351.03,135.67 351.46,134.54 351.90,133.55 352.33,132.73 352.76,132.11 353.20,131.71 353.63,131.56 354.07,131.56 354.50,131.58 354.93,131.59 355.37,131.62 355.80,131.65 356.24,131.69 356.67,131.74 357.10,131.79 357.54,131.84 357.97,131.90 358.41,131.96 358.84,132.02 359.27,132.09 359.71,132.16 360.14,132.23 360.58,132.30 361.01,132.39 361.45,132.48 361.88,132.59 362.31,132.71 362.75,132.84 363.18,132.98 363.62,133.14 364.05,133.30 364.48,133.48 364.92,133.66 365.35,133.86 365.79,134.07 366.22,134.28 366.65,134.51 367.09,134.74 367.52,134.98 367.96,135.24 368.39,135.50 368.82,135.76 369.26,136.04 369.69,136.33 370.13,136.62 370.56,136.92 371.00,137.23 371.43,137.54 371.86,137.86 372.30,138.19 372.73,138.52 373.17,138.86 373.60,139.21" fill="none" stroke="#ff6b6b" stroke-width="1.0" stroke-linejoin="round" stroke-linecap="round"/>
<polyline points="287.21,148.94 287.65,149.33 288.08,149.73 288.52,150.14 288.95,150.56 289.39,150.99 289.82,151.42 290.25,151.87 290.69,152.32 291.12,152.79 291.56,153.26 291.99,153.74 292.42,154.22 292.86,154.72 293.29,155.22 293.73,155.73 294.16,156.24 294.59,156.78 295.03,157.33 295.46,157.89 295.90,158.46 296.33,159.05 296.77,159.64 297.20,160.24 297.63,160.85 298.07,161.46 298.50,162.08 298.94,162.70 299.37,163.31 299.80,163.93 300.24,164.54 300.67,165.15 301.11,165.76 301.54,166.36 301.97,166.96 302.41,167.55 302.84,168.16 303.28,168.76 303.71,169.38 304.14,170.00 304.58,170.64 305.01,171.29 305.45,171.95 305.88,172.64 306.32,173.34 306.75,174.08 307.18,174.83 307.62,175.61 308.05,176.41 308.49,177.23 308.92,178.07 309.35,178.92 309.79,179.78 310.22,180.65 310.66,181.52 311.09,182.50 311.52,183.65 311.96,184.89 312.39,186.15 312.83,187.35 313.26,188.41 313.69,189.25 314.13,189.78 314.56,189.94 315.00,189.79 315.43,189.42 315.87,188.87 316.30,188.17 316.73,187.35 317.17,186.44 317.60,185.48 318.04,184.39 318.47,182.78 318.90,180.70 319.34,178.29 319.77,175.66 320.21,172.94 320.64,170.24 321.07,167.69 321.51,165.41 321.94,163.49 322.38,161.66 322.81,159.86 323.24,158.09 323.68,156.37 324.11,154.71 324.55,153.11 324.98,151.58 325.42,150.13 325.85,148.77 326.28,147.50 326.72,146.35 327.15,145.31 327.59,144.32 328.02,143.36 328.45,142.43 328.89,141.53 329.32,140.66 329.76,139.83 330.19,139.03 330.62,138.28 331.06,137.57 331.49,136.91 331.93,136.29 332.36,135.73 332.80,135.23 333.23,134.78 333.66,134.39 334.10,134.05 334.53,133.71 334.97,133.37 335.40,133.05 335.83,132.73 336.27,132.43 336.70,132.15 337.14,131.89 337.57,131.65 338.00,131.44 338.44,131.26 338.87,131.11 339.31,130.99 339.74,130.91 340.17,130.87 340.61,130.87 341.04,130.89 341.48,130.92 341.91,130.98 342.35,131.06 342.78,131.15 343.21,131.26 343.65,131.39 344.08,131.54 344.52,131.71 344.95,131.89 345.38,132.10 345.82,132.33 346.25,132.79 346.69,133.54 347.12,134.57 347.55,135.87 347.99,137.54 348.42,142.29 348.86,148.02 349.29,150.26 349.72,146.40 350.16,140.11 350.59,136.34 351.03,135.12 351.46,134.07 351.90,133.19 352.33,132.50 352.76,131.99 353.20,131.68 353.63,131.56 354.07,131.57 354.50,131.59 354.93,131.64 355.37,131.69 355.80,131.76 356.24,131.85 356.67,131.94 357.10,132.04 357.54,132.15 357.97,132.27 358.41,132.39 358.84,132.52 359.27,132.64 359.71,132.77 360.14,132.90 360.58,133.03 361.01,133.17 361.45,133.31 361.88,133.47 362.31,133.63 362.75,133.80 363.18,133.98 363.62,134.17 364.05,134.37 364.48,134.57 364.92,134.79 365.35,135.01 365.79,135.24 366.22,135.48 366.65,135.72 367.09,135.97 367.52,136.23 367.96,136.50 368.39,136.78 368.82,137.06 369.26,137.35 369.69,137.64 370.13,137.94 370.56,138.25 371.00,138.57 371.43,138.89 371.86,139.22 372.30,139.55 372.73,139.90 373.17,140.24 373.60,140.59" fill="none" stroke="#3b8ff0" stroke-width="1.0" stroke-linejoin="round" stroke-linecap="round"/>
<polyline points="287.21,147.55 287.65,147.84 288.08,148.14 288.52,148.44 288.95,148.75 289.39,149.06 289.82,149.37 290.25,149.69 290.69,150.00 291.12,150.32 291.56,150.65 291.99,150.97 292.42,151.30 292.86,151.63 293.29,151.97 293.73,152.31 294.16,152.64 294.59,152.97 295.03,153.29 295.46,153.60 295.90,153.91 296.33,154.23 296.77,154.55 297.20,154.87 297.63,155.21 298.07,155.56 298.50,155.94 298.94,156.33 299.37,156.74 299.80,157.19 300.24,157.66 300.67,158.17 301.11,158.73 301.54,159.34 301.97,160.01 302.41,160.73 302.84,161.49 303.28,162.31 303.71,163.17 304.14,164.07 304.58,165.02 305.01,166.01 305.45,167.04 305.88,168.11 306.32,169.22 306.75,170.49 307.18,171.95 307.62,173.57 308.05,175.30 308.49,177.10 308.92,178.93 309.35,180.74 309.79,182.49 310.22,184.14 310.66,185.65 311.09,187.11 311.52,188.69 311.96,190.33 312.39,191.96 312.83,193.53 313.26,194.97 313.69,196.22 314.13,197.23 314.56,197.93 315.00,198.26 315.43,198.11 315.87,197.35 316.30,196.09 316.73,194.42 317.17,192.47 317.60,190.34 318.04,188.15 318.47,186.01 318.90,183.92 319.34,181.51 319.77,178.81 320.21,175.91 320.64,172.92 321.07,169.94 321.51,167.06 321.94,164.40 322.38,162.05 322.81,160.08 323.24,158.25 323.68,156.49 324.11,154.79 324.55,153.16 324.98,151.59 325.42,150.10 325.85,148.69 326.28,147.35 326.72,146.09 327.15,144.92 327.59,143.82 328.02,142.82 328.45,141.90 328.89,141.03 329.32,140.18 329.76,139.36 330.19,138.55 330.62,137.78 331.06,137.05 331.49,136.36 331.93,135.71 332.36,135.11 332.80,134.56 333.23,134.07 333.66,133.65 334.10,133.29 334.53,133.00 334.97,132.76 335.40,132.53 335.83,132.31 336.27,132.10 336.70,131.90 337.14,131.71 337.57,131.54 338.00,131.38 338.44,131.24 338.87,131.12 339.31,131.02 339.74,130.95 340.17,130.89 340.61,130.87 341.04,130.87 341.48,130.88 341.91,130.91 342.35,130.95 342.78,131.00 343.21,131.07 343.65,131.15 344.08,131.24 344.52,131.35 344.95,131.47 345.38,131.62 345.82,131.97 346.25,132.58 346.69,133.45 347.12,134.55 347.55,135.88 347.99,137.47 348.42,140.70 348.86,145.64 349.29,151.49 349.72,159.11 350.16,169.19 350.59,170.75 351.03,160.63 351.46,150.15 351.90,143.28 352.33,137.40 352.76,134.37 353.20,133.61 353.63,132.98 354.07,132.47 354.50,132.08 354.93,131.80 355.37,131.63 355.80,131.56 356.24,131.57 356.67,131.59 357.10,131.63 357.54,131.69 357.97,131.76 358.41,131.85 358.84,131.94 359.27,132.04 359.71,132.16 360.14,132.27 360.58,132.39 361.01,132.52 361.45,132.64 361.88,132.77 362.31,132.89 362.75,133.01 363.18,133.14 363.62,133.27 364.05,133.41 364.48,133.55 364.92,133.70 365.35,133.86 365.79,134.02 366.22,134.19 366.65,134.36 367.09,134.54 367.52,134.72 367.96,134.91 368.39,135.10 368.82,135.30 369.26,135.51 369.69,135.72 370.13,135.93 370.56,136.15 371.00,136.37 371.43,136.60 371.86,136.84 372.30,137.07 372.73,137.32 373.17,137.56 373.60,137.81" fill="none" stroke="#7f7f7f" stroke-width="1.0" stroke-linejoin="round" stroke-linecap="round"/>
<text x="359.6" y="153.2" font-size="5.4" fill="#333" text-anchor="start" font-family="'Liberation Sans', Arial, sans-serif" stroke="#333" stroke-width="0.16">Rotation angle</text>
<line x1="359.6" y1="159.0" x2="372.5" y2="159.0" stroke="#7f7f7f" stroke-width="0.9"/>
<text x="374.4" y="160.9" font-size="5.4" fill="#333" text-anchor="start" font-family="'Liberation Sans', Arial, sans-serif" stroke="#333" stroke-width="0.16">15<tspan font-size="3.4" dy="-2.2">0</tspan></text>
<line x1="359.6" y1="166.7" x2="372.5" y2="166.7" stroke="#ff6b6b" stroke-width="0.9"/>
<text x="374.4" y="168.6" font-size="5.4" fill="#333" text-anchor="start" font-family="'Liberation Sans', Arial, sans-serif" stroke="#333" stroke-width="0.16">30<tspan font-size="3.4" dy="-2.2">0</tspan></text>
<line x1="359.6" y1="174.4" x2="372.5" y2="174.4" stroke="#3b8ff0" stroke-width="0.9"/>
<text x="374.4" y="176.3" font-size="5.4" fill="#333" text-anchor="start" font-family="'Liberation Sans', Arial, sans-serif" stroke="#333" stroke-width="0.16">45<tspan font-size="3.4" dy="-2.2">0</tspan></text>
<line x1="359.6" y1="182.2" x2="372.5" y2="182.2" stroke="#2fbf8f" stroke-width="0.9"/>
<text x="374.4" y="184.1" font-size="5.4" fill="#333" text-anchor="start" font-family="'Liberation Sans', Arial, sans-serif" stroke="#333" stroke-width="0.16">60<tspan font-size="3.4" dy="-2.2">0</tspan></text>
<line x1="359.6" y1="189.9" x2="372.5" y2="189.9" stroke="#d69cf5" stroke-width="0.9"/>
<text x="374.4" y="191.8" font-size="5.4" fill="#333" text-anchor="start" font-family="'Liberation Sans', Arial, sans-serif" stroke="#333" stroke-width="0.16">75<tspan font-size="3.4" dy="-2.2">0</tspan></text>
<line x1="359.6" y1="197.6" x2="372.5" y2="197.6" stroke="#f2b233" stroke-width="0.9"/>
<text x="374.4" y="199.5" font-size="5.4" fill="#333" text-anchor="start" font-family="'Liberation Sans', Arial, sans-serif" stroke="#333" stroke-width="0.16">90<tspan font-size="3.4" dy="-2.2">0</tspan></text>
<line x1="422.0" y1="127.6" x2="422.0" y2="208.0" stroke="#4a4a4a" stroke-width="0.8"/>
<line x1="422.0" y1="208.0" x2="519.0" y2="208.0" stroke="#4a4a4a" stroke-width="0.8"/>
<line x1="422.0" y1="208.0" x2="422.0" y2="209.6" stroke="#4a4a4a" stroke-width="0.8"/>
<text x="422.0" y="215.2" font-size="6.1" fill="#222" text-anchor="middle" font-family="'Liberation Sans', Arial, sans-serif" font-weight="bold" stroke="#222" stroke-width="0.12">0</text>
<line x1="441.2" y1="208.0" x2="441.2" y2="209.6" stroke="#4a4a4a" stroke-width="0.8"/>
<text x="441.2" y="215.2" font-size="6.1" fill="#222" text-anchor="middle" font-family="'Liberation Sans', Arial, sans-serif" font-weight="bold" stroke="#222" stroke-width="0.12">20</text>
<line x1="460.5" y1="208.0" x2="460.5" y2="209.6" stroke="#4a4a4a" stroke-width="0.8"/>
<text x="460.5" y="215.2" font-size="6.1" fill="#222" text-anchor="middle" font-family="'Liberation Sans', Arial, sans-serif" font-weight="bold" stroke="#222" stroke-width="0.12">40</text>
<line x1="479.7" y1="208.0" x2="479.7" y2="209.6" stroke="#4a4a4a" stroke-width="0.8"/>
<text x="479.7" y="215.2" font-size="6.1" fill="#222" text-anchor="middle" font-family="'Liberation Sans', Arial, sans-serif" font-weight="bold" stroke="#222" stroke-width="0.12">60</text>
<line x1="499.0" y1="208.0" x2="499.0" y2="209.6" stroke="#4a4a4a" stroke-width="0.8"/>
<text x="499.0" y="215.2" font-size="6.1" fill="#222" text-anchor="middle" font-family="'Liberation Sans', Arial, sans-serif" font-weight="bold" stroke="#222" stroke-width="0.12">80</text>
<line x1="518.2" y1="208.0" x2="518.2" y2="209.6" stroke="#4a4a4a" stroke-width="0.8"/>
<text x="518.2" y="215.2" font-size="6.1" fill="#222" text-anchor="middle" font-family="'Liberation Sans', Arial, sans-serif" font-weight="bold" stroke="#222" stroke-width="0.12">100</text>
<line x1="420.4" y1="208.0" x2="422.0" y2="208.0" stroke="#4a4a4a" stroke-width="0.8"/>
<text x="419.0" y="210.2" font-size="6.1" fill="#222" text-anchor="end" font-family="'Liberation Sans', Arial, sans-serif" font-weight="bold" stroke="#222" stroke-width="0.12">300</text>
<line x1="420.4" y1="191.9" x2="422.0" y2="191.9" stroke="#4a4a4a" stroke-width="0.8"/>
<text x="419.0" y="194.1" font-size="6.1" fill="#222" text-anchor="end" font-family="'Liberation Sans', Arial, sans-serif" font-weight="bold" stroke="#222" stroke-width="0.12">310</text>
<line x1="420.4" y1="175.8" x2="422.0" y2="175.8" stroke="#4a4a4a" stroke-width="0.8"/>
<text x="419.0" y="178.0" font-size="6.1" fill="#222" text-anchor="end" font-family="'Liberation Sans', Arial, sans-serif" font-weight="bold" stroke="#222" stroke-width="0.12">320</text>
<line x1="420.4" y1="159.8" x2="422.0" y2="159.8" stroke="#4a4a4a" stroke-width="0.8"/>
<text x="419.0" y="162.0" font-size="6.1" fill="#222" text-anchor="end" font-family="'Liberation Sans', Arial, sans-serif" font-weight="bold" stroke="#222" stroke-width="0.12">330</text>
<line x1="420.4" y1="143.7" x2="422.0" y2="143.7" stroke="#4a4a4a" stroke-width="0.8"/>
<text x="419.0" y="145.9" font-size="6.1" fill="#222" text-anchor="end" font-family="'Liberation Sans', Arial, sans-serif" font-weight="bold" stroke="#222" stroke-width="0.12">340</text>
<line x1="420.4" y1="127.6" x2="422.0" y2="127.6" stroke="#4a4a4a" stroke-width="0.8"/>
<text x="419.0" y="129.8" font-size="6.1" fill="#222" text-anchor="end" font-family="'Liberation Sans', Arial, sans-serif" font-weight="bold" stroke="#222" stroke-width="0.12">350</text>
<line x1="431.6" y1="208.0" x2="431.6" y2="209.0" stroke="#4a4a4a" stroke-width="0.5"/>
<line x1="450.9" y1="208.0" x2="450.9" y2="209.0" stroke="#4a4a4a" stroke-width="0.5"/>
<line x1="470.1" y1="208.0" x2="470.1" y2="209.0" stroke="#4a4a4a" stroke-width="0.5"/>
<line x1="489.3" y1="208.0" x2="489.3" y2="209.0" stroke="#4a4a4a" stroke-width="0.5"/>
<line x1="508.6" y1="208.0" x2="508.6" y2="209.0" stroke="#4a4a4a" stroke-width="0.5"/>
<line x1="421.0" y1="200.0" x2="422.0" y2="200.0" stroke="#4a4a4a" stroke-width="0.5"/>
<line x1="421.0" y1="183.9" x2="422.0" y2="183.9" stroke="#4a4a4a" stroke-width="0.5"/>
<line x1="421.0" y1="167.8" x2="422.0" y2="167.8" stroke="#4a4a4a" stroke-width="0.5"/>
<line x1="421.0" y1="151.7" x2="422.0" y2="151.7" stroke="#4a4a4a" stroke-width="0.5"/>
<line x1="421.0" y1="135.6" x2="422.0" y2="135.6" stroke="#4a4a4a" stroke-width="0.5"/>
<text x="470.0" y="223.0" font-size="5.6" fill="#333" text-anchor="middle" font-family="'Liberation Sans', Arial, sans-serif" stroke="#333" stroke-width="0.16">Angle of Rotation (degree)</text>
<text x="408.0" y="168.0" font-size="5.7" fill="#333" text-anchor="middle" font-family="'Liberation Sans', Arial, sans-serif" transform="rotate(-90 408 168)" stroke="#333" stroke-width="0.16">Frequency (MHz)</text>
<polyline points="436.43,136.44 450.86,138.05 465.29,139.66 479.72,142.88 494.15,141.27 508.58,142.88" fill="none" stroke="#222" stroke-width="0.7" stroke-linejoin="round" stroke-linecap="round"/>
<rect x="435.3" y="135.3" width="2.2" height="2.2" fill="#222"/>
<rect x="449.8" y="137.0" width="2.2" height="2.2" fill="#222"/>
<rect x="464.2" y="138.6" width="2.2" height="2.2" fill="#222"/>
<rect x="478.6" y="141.8" width="2.2" height="2.2" fill="#222"/>
<rect x="493.0" y="140.2" width="2.2" height="2.2" fill="#222"/>
<rect x="507.5" y="141.8" width="2.2" height="2.2" fill="#222"/>
<text x="466.0" y="123.6" font-size="9.1" fill="#111" text-anchor="middle" font-family="'Liberation Sans', Arial, sans-serif" font-weight="bold" stroke="#111" stroke-width="0.18">Different rotation</text>
<text x="466.0" y="133.6" font-size="9.1" fill="#111" text-anchor="middle" font-family="'Liberation Sans', Arial, sans-serif" font-weight="bold" stroke="#111" stroke-width="0.18">angles</text>
<text x="4.9" y="248.0" font-size="10.4" fill="#111" text-anchor="start" font-family="'Liberation Sans', Arial, sans-serif" font-weight="bold" stroke="#111" stroke-width="0.2">(f)</text>
<line x1="165.6" y1="254.4" x2="165.6" y2="359.4" stroke="#4a4a4a" stroke-width="0.8"/>
<line x1="165.6" y1="359.4" x2="295.7" y2="359.4" stroke="#4a4a4a" stroke-width="0.8"/>
<line x1="184.0" y1="359.4" x2="184.0" y2="361.0" stroke="#4a4a4a" stroke-width="0.8"/>
<text x="184.0" y="368.2" font-size="7.2" fill="#222" text-anchor="middle" font-family="'Liberation Sans', Arial, sans-serif" font-weight="bold" stroke="#222" stroke-width="0.12">240</text>
<line x1="208.8" y1="359.4" x2="208.8" y2="361.0" stroke="#4a4a4a" stroke-width="0.8"/>
<text x="208.8" y="368.2" font-size="7.2" fill="#222" text-anchor="middle" font-family="'Liberation Sans', Arial, sans-serif" font-weight="bold" stroke="#222" stroke-width="0.12">280</text>
<line x1="233.6" y1="359.4" x2="233.6" y2="361.0" stroke="#4a4a4a" stroke-width="0.8"/>
<text x="233.6" y="368.2" font-size="7.2" fill="#222" text-anchor="middle" font-family="'Liberation Sans', Arial, sans-serif" font-weight="bold" stroke="#222" stroke-width="0.12">320</text>
<line x1="258.4" y1="359.4" x2="258.4" y2="361.0" stroke="#4a4a4a" stroke-width="0.8"/>
<text x="258.4" y="368.2" font-size="7.2" fill="#222" text-anchor="middle" font-family="'Liberation Sans', Arial, sans-serif" font-weight="bold" stroke="#222" stroke-width="0.12">360</text>
<line x1="283.2" y1="359.4" x2="283.2" y2="361.0" stroke="#4a4a4a" stroke-width="0.8"/>
<text x="283.2" y="368.2" font-size="7.2" fill="#222" text-anchor="middle" font-family="'Liberation Sans', Arial, sans-serif" font-weight="bold" stroke="#222" stroke-width="0.12">400</text>
<line x1="164.0" y1="260.4" x2="165.6" y2="260.4" stroke="#4a4a4a" stroke-width="0.8"/>
<text x="161.5" y="263.0" font-size="7.2" fill="#222" text-anchor="end" font-family="'Liberation Sans', Arial, sans-serif" font-weight="bold" stroke="#222" stroke-width="0.12">0</text>
<line x1="164.0" y1="286.7" x2="165.6" y2="286.7" stroke="#4a4a4a" stroke-width="0.8"/>
<text x="161.5" y="289.3" font-size="7.2" fill="#222" text-anchor="end" font-family="'Liberation Sans', Arial, sans-serif" font-weight="bold" stroke="#222" stroke-width="0.12">-4</text>
<line x1="164.0" y1="313.0" x2="165.6" y2="313.0" stroke="#4a4a4a" stroke-width="0.8"/>
<text x="161.5" y="315.6" font-size="7.2" fill="#222" text-anchor="end" font-family="'Liberation Sans', Arial, sans-serif" font-weight="bold" stroke="#222" stroke-width="0.12">-8</text>
<line x1="164.0" y1="339.2" x2="165.6" y2="339.2" stroke="#4a4a4a" stroke-width="0.8"/>
<text x="161.5" y="341.8" font-size="7.2" fill="#222" text-anchor="end" font-family="'Liberation Sans', Arial, sans-serif" font-weight="bold" stroke="#222" stroke-width="0.12">-12</text>
<line x1="171.6" y1="359.4" x2="171.6" y2="360.4" stroke="#4a4a4a" stroke-width="0.5"/>
<line x1="196.4" y1="359.4" x2="196.4" y2="360.4" stroke="#4a4a4a" stroke-width="0.5"/>
<line x1="221.2" y1="359.4" x2="221.2" y2="360.4" stroke="#4a4a4a" stroke-width="0.5"/>
<line x1="246.0" y1="359.4" x2="246.0" y2="360.4" stroke="#4a4a4a" stroke-width="0.5"/>
<line x1="270.8" y1="359.4" x2="270.8" y2="360.4" stroke="#4a4a4a" stroke-width="0.5"/>
<line x1="164.6" y1="273.5" x2="165.6" y2="273.5" stroke="#4a4a4a" stroke-width="0.5"/>
<line x1="164.6" y1="299.8" x2="165.6" y2="299.8" stroke="#4a4a4a" stroke-width="0.5"/>
<line x1="164.6" y1="326.1" x2="165.6" y2="326.1" stroke="#4a4a4a" stroke-width="0.5"/>
<line x1="164.6" y1="352.4" x2="165.6" y2="352.4" stroke="#4a4a4a" stroke-width="0.5"/>
<text x="230.0" y="378.3" font-size="7.4" fill="#333" text-anchor="middle" font-family="'Liberation Sans', Arial, sans-serif" stroke="#333" stroke-width="0.16">Frequency(MHz)</text>
<text x="148.6" y="303.5" font-size="7.3" fill="#333" text-anchor="middle" font-family="'Liberation Sans', Arial, sans-serif" transform="rotate(-90 148.6 303.5)" stroke="#333" stroke-width="0.16">Return loss(dB)</text>
<polyline points="179.04,291.94 179.39,293.01 179.74,294.09 180.09,295.18 180.43,296.27 180.78,297.38 181.13,298.50 181.48,299.62 181.83,300.75 182.18,301.89 182.52,303.03 182.87,304.18 183.22,305.34 183.57,306.50 183.92,307.70 184.27,308.94 184.61,310.19 184.96,311.46 185.31,312.71 185.66,313.94 186.01,315.11 186.36,316.23 186.70,317.35 187.05,318.60 187.40,319.78 187.75,320.60 188.10,320.82 188.45,320.18 188.79,318.83 189.14,317.09 189.49,315.25 189.84,313.41 190.19,311.26 190.54,308.83 190.88,306.17 191.23,303.36 191.58,300.45 191.93,297.50 192.28,294.57 192.63,291.71 192.97,289.00 193.32,286.27 193.67,283.28 194.02,280.20 194.37,277.23 194.72,274.52 195.06,272.26 195.41,270.64 195.76,269.63 196.11,268.72 196.46,267.90 196.81,267.19 197.15,266.62 197.50,266.22 197.85,266.01 198.20,266.39 198.55,268.96 198.90,273.10 199.24,277.91 199.59,282.46 199.94,285.84 200.29,288.22 200.64,290.31 200.99,292.18 201.34,293.89 201.68,295.51 202.03,297.08 202.38,298.69 202.73,300.37 203.08,302.21 203.43,304.25 203.77,306.56 204.12,309.10 204.47,311.85 204.82,314.81 205.17,317.94 205.52,321.25 205.86,324.71 206.21,328.36 206.56,333.29 206.91,339.12 207.26,344.74 207.61,349.08 207.95,351.04 208.30,346.12 208.65,332.74 209.00,317.77 209.35,307.58 209.70,299.46 210.04,291.90 210.39,285.33 210.74,280.17 211.09,276.86 211.44,274.76 211.79,272.90 212.13,271.29 212.48,269.95 212.83,268.89 213.18,268.12 213.53,267.66 213.88,267.41 214.22,267.18 214.57,266.97 214.92,266.78 215.27,266.60 215.62,266.45 215.97,266.32 216.31,266.21 216.66,266.12 217.01,266.06 217.36,266.01 217.71,265.99 218.06,265.98 218.40,265.99 218.75,265.99 219.10,266.00 219.45,266.01 219.80,266.02 220.15,266.04 220.49,266.05 220.84,266.07 221.19,266.10 221.54,266.12 221.89,266.14 222.24,266.17 222.59,266.20 222.93,266.23 223.28,266.26 223.63,266.29 223.98,266.33 224.33,266.36 224.68,266.40 225.02,266.43 225.37,266.47 225.72,266.51 226.07,266.55 226.42,266.59 226.77,266.63 227.11,266.67 227.46,266.71 227.81,266.75 228.16,266.79 228.51,266.83 228.86,266.87 229.20,266.91 229.55,266.95 229.90,266.99 230.25,267.03 230.60,267.08 230.95,267.12 231.29,267.16 231.64,267.20 231.99,267.25 232.34,267.29 232.69,267.34 233.04,267.39 233.38,267.43 233.73,267.48 234.08,267.53 234.43,267.58 234.78,267.63 235.13,267.68 235.47,267.73 235.82,267.78 236.17,267.84 236.52,267.89 236.87,267.95 237.22,268.00 237.56,268.06 237.91,268.11 238.26,268.17 238.61,268.23 238.96,268.29 239.31,268.35 239.65,268.41 240.00,268.47 240.35,268.53 240.70,268.59 241.05,268.65 241.40,268.72 241.75,268.78 242.09,268.85 242.44,268.91 242.79,268.98 243.14,269.04 243.49,269.11 243.84,269.18 244.18,269.25 244.53,269.32 244.88,269.39 245.23,269.46 245.58,269.53 245.93,269.61 246.27,269.68 246.62,269.75 246.97,269.83 247.32,269.91 247.67,269.98 248.02,270.06 248.36,270.14 248.71,270.21 249.06,270.29 249.41,270.37 249.76,270.45 250.11,270.54 250.45,270.62 250.80,270.70 251.15,270.78 251.50,270.87 251.85,270.95 252.20,271.04 252.54,271.12 252.89,271.21 253.24,271.30 253.59,271.39 253.94,271.48 254.29,271.56 254.63,271.65 254.98,271.75 255.33,271.84 255.68,271.93 256.03,272.02 256.38,272.12 256.72,272.21 257.07,272.31 257.42,272.40 257.77,272.50 258.12,272.60 258.47,272.69 258.81,272.79 259.16,272.89 259.51,272.99 259.86,273.09 260.21,273.20 260.56,273.30 260.90,273.40 261.25,273.50 261.60,273.61 261.95,273.71 262.30,273.82 262.65,273.93 263.00,274.03 263.34,274.14 263.69,274.25 264.04,274.36 264.39,274.47 264.74,274.58 265.09,274.69 265.43,274.80 265.78,274.91 266.13,275.03 266.48,275.14 266.83,275.26 267.18,275.37 267.52,275.49 267.87,275.60 268.22,275.72 268.57,275.84 268.92,275.96 269.27,276.08 269.61,276.20 269.96,276.32 270.31,276.44 270.66,276.56 271.01,276.69 271.36,276.81 271.70,276.93 272.05,277.06 272.40,277.19 272.75,277.31 273.10,277.44 273.45,277.57 273.79,277.70 274.14,277.82 274.49,277.95 274.84,278.08 275.19,278.22 275.54,278.35 275.88,278.48 276.23,278.61 276.58,278.75 276.93,278.88 277.28,279.02 277.63,279.15 277.97,279.29 278.32,279.43 278.67,279.57 279.02,279.71 279.37,279.84 279.72,279.98 280.06,280.13 280.41,280.27 280.76,280.41 281.11,280.55 281.46,280.70 281.81,280.84 282.15,280.99 282.50,281.13 282.85,281.28 283.20,281.42" fill="none" stroke="#f2b233" stroke-width="1.05" stroke-linejoin="round" stroke-linecap="round"/>
<polyline points="179.04,289.96 179.39,290.89 179.74,291.82 180.09,292.75 180.43,293.68 180.78,294.61 181.13,295.55 181.48,296.48 181.83,297.41 182.18,298.35 182.52,299.28 182.87,300.22 183.22,301.16 183.57,302.09 183.92,303.03 184.27,303.97 184.61,304.91 184.96,305.86 185.31,306.80 185.66,307.76 186.01,308.71 186.36,309.66 186.70,310.60 187.05,311.55 187.40,312.49 187.75,313.42 188.10,314.35 188.45,315.48 188.79,316.67 189.14,317.67 189.49,318.19 189.84,317.94 190.19,316.86 190.54,315.28 190.88,313.56 191.23,312.00 191.58,310.46 191.93,308.83 192.28,307.14 192.63,305.38 192.97,303.57 193.32,301.73 193.67,299.86 194.02,297.97 194.37,296.08 194.72,294.21 195.06,292.35 195.41,290.52 195.76,288.74 196.11,286.93 196.46,285.01 196.81,283.03 197.15,281.02 197.50,279.03 197.85,277.11 198.20,275.30 198.55,273.65 198.90,272.19 199.24,270.97 199.59,270.02 199.94,269.16 200.29,268.32 200.64,267.56 200.99,266.90 201.34,266.39 201.68,266.08 202.03,265.98 202.38,265.99 202.73,266.01 203.08,266.03 203.43,266.06 203.77,266.10 204.12,266.15 204.47,266.21 204.82,266.28 205.17,266.35 205.52,266.44 205.86,266.53 206.21,266.63 206.56,266.73 206.91,266.85 207.26,266.97 207.61,267.10 207.95,267.24 208.30,267.39 208.65,267.54 209.00,267.71 209.35,267.87 209.70,268.05 210.04,268.23 210.39,268.42 210.74,268.62 211.09,268.83 211.44,269.05 211.79,269.39 212.13,269.86 212.48,270.44 212.83,271.13 213.18,271.92 213.53,272.80 213.88,273.76 214.22,274.78 214.57,275.86 214.92,277.00 215.27,278.17 215.62,279.37 215.97,280.60 216.31,281.83 216.66,283.07 217.01,284.31 217.36,285.63 217.71,287.04 218.06,288.55 218.40,290.16 218.75,291.85 219.10,293.63 219.45,295.50 219.80,297.45 220.15,299.48 220.49,301.59 220.84,303.82 221.19,306.24 221.54,308.85 221.89,311.64 222.24,314.59 222.59,317.69 222.93,320.94 223.28,324.65 223.63,329.65 223.98,335.06 224.33,339.87 224.68,343.08 225.02,343.26 225.37,334.73 225.72,320.99 226.07,308.53 226.42,300.89 226.77,293.93 227.11,287.66 227.46,282.39 227.81,278.44 228.16,275.98 228.51,274.01 228.86,272.26 229.20,270.75 229.55,269.51 229.90,268.55 230.25,267.90 230.60,267.56 230.95,267.31 231.29,267.09 231.64,266.89 231.99,266.70 232.34,266.54 232.69,266.40 233.04,266.27 233.38,266.17 233.73,266.09 234.08,266.04 234.43,266.00 234.78,265.98 235.13,265.99 235.47,265.99 235.82,265.99 236.17,266.00 236.52,266.01 236.87,266.03 237.22,266.04 237.56,266.06 237.91,266.08 238.26,266.10 238.61,266.12 238.96,266.15 239.31,266.17 239.65,266.20 240.00,266.23 240.35,266.26 240.70,266.30 241.05,266.33 241.40,266.36 241.75,266.40 242.09,266.44 242.44,266.47 242.79,266.51 243.14,266.55 243.49,266.59 243.84,266.63 244.18,266.67 244.53,266.72 244.88,266.76 245.23,266.80 245.58,266.84 245.93,266.89 246.27,266.93 246.62,266.97 246.97,267.01 247.32,267.06 247.67,267.10 248.02,267.15 248.36,267.20 248.71,267.25 249.06,267.31 249.41,267.36 249.76,267.42 250.11,267.47 250.45,267.53 250.80,267.59 251.15,267.66 251.50,267.72 251.85,267.79 252.20,267.85 252.54,267.92 252.89,267.99 253.24,268.06 253.59,268.14 253.94,268.21 254.29,268.29 254.63,268.37 254.98,268.44 255.33,268.52 255.68,268.61 256.03,268.69 256.38,268.78 256.72,268.86 257.07,268.95 257.42,269.04 257.77,269.13 258.12,269.22 258.47,269.32 258.81,269.41 259.16,269.51 259.51,269.61 259.86,269.71 260.21,269.81 260.56,269.91 260.90,270.02 261.25,270.12 261.60,270.23 261.95,270.34 262.30,270.45 262.65,270.56 263.00,270.67 263.34,270.79 263.69,270.90 264.04,271.02 264.39,271.14 264.74,271.26 265.09,271.38 265.43,271.50 265.78,271.62 266.13,271.75 266.48,271.88 266.83,272.00 267.18,272.13 267.52,272.26 267.87,272.40 268.22,272.53 268.57,272.66 268.92,272.80 269.27,272.94 269.61,273.07 269.96,273.21 270.31,273.36 270.66,273.50 271.01,273.64 271.36,273.79 271.70,273.93 272.05,274.08 272.40,274.23 272.75,274.38 273.10,274.53 273.45,274.68 273.79,274.84 274.14,274.99 274.49,275.15 274.84,275.31 275.19,275.47 275.54,275.63 275.88,275.79 276.23,275.95 276.58,276.11 276.93,276.28 277.28,276.45 277.63,276.61 277.97,276.78 278.32,276.95 278.67,277.12 279.02,277.29 279.37,277.47 279.72,277.64 280.06,277.82 280.41,278.00 280.76,278.17 281.11,278.35 281.46,278.53 281.81,278.72 282.15,278.90 282.50,279.08 282.85,279.27 283.20,279.45" fill="none" stroke="#d69cf5" stroke-width="1.05" stroke-linejoin="round" stroke-linecap="round"/>
<polyline points="179.04,288.65 179.39,289.44 179.74,290.23 180.09,291.02 180.43,291.81 180.78,292.59 181.13,293.38 181.48,294.16 181.83,294.94 182.18,295.71 182.52,296.49 182.87,297.26 183.22,298.03 183.57,298.80 183.92,299.57 184.27,300.33 184.61,301.10 184.96,301.86 185.31,302.62 185.66,303.36 186.01,304.09 186.36,304.82 186.70,305.55 187.05,306.28 187.40,307.01 187.75,307.75 188.10,308.50 188.45,309.26 188.79,310.03 189.14,310.82 189.49,311.70 189.84,312.81 190.19,313.90 190.54,314.69 190.88,314.91 191.23,314.27 191.58,312.96 191.93,311.36 192.28,309.83 192.63,308.55 192.97,307.29 193.32,306.02 193.67,304.75 194.02,303.47 194.37,302.18 194.72,300.89 195.06,299.59 195.41,298.29 195.76,296.98 196.11,295.67 196.46,294.35 196.81,293.02 197.15,291.70 197.50,290.37 197.85,289.03 198.20,287.67 198.55,286.22 198.90,284.72 199.24,283.17 199.59,281.61 199.94,280.04 200.29,278.49 200.64,276.99 200.99,275.54 201.34,274.18 201.68,272.92 202.03,271.79 202.38,270.80 202.73,269.96 203.08,269.12 203.43,268.30 203.77,267.54 204.12,266.88 204.47,266.37 204.82,266.06 205.17,265.98 205.52,265.99 205.86,265.99 206.21,266.01 206.56,266.02 206.91,266.04 207.26,266.06 207.61,266.09 207.95,266.12 208.30,266.16 208.65,266.19 209.00,266.24 209.35,266.28 209.70,266.34 210.04,266.39 210.39,266.45 210.74,266.51 211.09,266.58 211.44,266.65 211.79,266.73 212.13,266.81 212.48,266.89 212.83,266.98 213.18,267.07 213.53,267.17 213.88,267.27 214.22,267.38 214.57,267.49 214.92,267.60 215.27,267.72 215.62,267.84 215.97,267.97 216.31,268.10 216.66,268.23 217.01,268.37 217.36,268.51 217.71,268.66 218.06,268.81 218.40,268.97 218.75,269.19 219.10,269.52 219.45,269.93 219.80,270.44 220.15,271.02 220.49,271.67 220.84,272.38 221.19,273.15 221.54,273.98 221.89,274.84 222.24,275.75 222.59,276.68 222.93,277.64 223.28,278.62 223.63,279.61 223.98,280.60 224.33,281.66 224.68,282.82 225.02,284.08 225.37,285.43 225.72,286.88 226.07,288.40 226.42,290.00 226.77,291.68 227.11,293.42 227.46,295.22 227.81,297.09 228.16,299.12 228.51,301.32 228.86,303.67 229.20,306.16 229.55,308.79 229.90,311.54 230.25,314.49 230.60,318.52 230.95,323.15 231.29,327.51 231.64,330.76 231.99,332.01 232.34,326.94 232.69,315.76 233.04,304.22 233.38,297.15 233.73,291.62 234.08,286.68 234.43,282.45 234.78,279.05 235.13,276.60 235.47,274.65 235.82,272.86 236.17,271.28 236.52,269.93 236.87,268.85 237.22,268.07 237.56,267.63 237.91,267.38 238.26,267.15 238.61,266.94 238.96,266.75 239.31,266.58 239.65,266.44 240.00,266.31 240.35,266.20 240.70,266.12 241.05,266.05 241.40,266.01 241.75,265.99 242.09,265.98 242.44,265.99 242.79,265.99 243.14,266.00 243.49,266.01 243.84,266.02 244.18,266.04 244.53,266.05 244.88,266.07 245.23,266.09 245.58,266.11 245.93,266.13 246.27,266.16 246.62,266.19 246.97,266.21 247.32,266.24 247.67,266.28 248.02,266.31 248.36,266.34 248.71,266.38 249.06,266.41 249.41,266.45 249.76,266.49 250.11,266.53 250.45,266.57 250.80,266.61 251.15,266.65 251.50,266.69 251.85,266.74 252.20,266.78 252.54,266.82 252.89,266.87 253.24,266.91 253.59,266.96 253.94,267.00 254.29,267.05 254.63,267.10 254.98,267.16 255.33,267.21 255.68,267.28 256.03,267.34 256.38,267.41 256.72,267.48 257.07,267.55 257.42,267.62 257.77,267.70 258.12,267.78 258.47,267.87 258.81,267.95 259.16,268.04 259.51,268.14 259.86,268.23 260.21,268.33 260.56,268.43 260.90,268.53 261.25,268.64 261.60,268.75 261.95,268.86 262.30,268.97 262.65,269.09 263.00,269.21 263.34,269.33 263.69,269.46 264.04,269.59 264.39,269.72 264.74,269.85 265.09,269.99 265.43,270.12 265.78,270.26 266.13,270.41 266.48,270.55 266.83,270.70 267.18,270.85 267.52,271.00 267.87,271.16 268.22,271.32 268.57,271.47 268.92,271.64 269.27,271.80 269.61,271.97 269.96,272.14 270.31,272.31 270.66,272.48 271.01,272.66 271.36,272.84 271.70,273.02 272.05,273.20 272.40,273.39 272.75,273.57 273.10,273.76 273.45,273.95 273.79,274.15 274.14,274.34 274.49,274.54 274.84,274.74 275.19,274.94 275.54,275.15 275.88,275.35 276.23,275.56 276.58,275.77 276.93,275.98 277.28,276.19 277.63,276.41 277.97,276.63 278.32,276.85 278.67,277.07 279.02,277.29 279.37,277.52 279.72,277.74 280.06,277.97 280.41,278.20 280.76,278.44 281.11,278.67 281.46,278.91 281.81,279.14 282.15,279.38 282.50,279.62 282.85,279.87 283.20,280.11" fill="none" stroke="#2fbf8f" stroke-width="1.05" stroke-linejoin="round" stroke-linecap="round"/>
<polyline points="179.04,287.34 179.39,288.06 179.74,288.79 180.09,289.51 180.43,290.22 180.78,290.94 181.13,291.65 181.48,292.36 181.83,293.07 182.18,293.77 182.52,294.48 182.87,295.18 183.22,295.87 183.57,296.57 183.92,297.26 184.27,297.95 184.61,298.64 184.96,299.33 185.31,300.01 185.66,300.69 186.01,301.36 186.36,302.01 186.70,302.65 187.05,303.28 187.40,303.91 187.75,304.54 188.10,305.18 188.45,305.81 188.79,306.46 189.14,307.12 189.49,307.79 189.84,308.49 190.19,309.21 190.54,309.95 190.88,310.90 191.23,312.01 191.58,312.99 191.93,313.56 192.28,313.42 192.63,312.44 192.97,310.98 193.32,309.41 193.67,308.09 194.02,306.95 194.37,305.82 194.72,304.70 195.06,303.60 195.41,302.50 195.76,301.41 196.11,300.33 196.46,299.25 196.81,298.18 197.15,297.10 197.50,296.02 197.85,294.94 198.20,293.84 198.55,292.74 198.90,291.63 199.24,290.51 199.59,289.37 199.94,288.21 200.29,286.99 200.64,285.72 200.99,284.40 201.34,283.05 201.68,281.69 202.03,280.33 202.38,278.97 202.73,277.64 203.08,276.34 203.43,275.10 203.77,273.91 204.12,272.81 204.47,271.79 204.82,270.87 205.17,270.06 205.52,269.25 205.86,268.43 206.21,267.66 206.56,266.97 206.91,266.43 207.26,266.09 207.61,265.98 207.95,265.99 208.30,265.99 208.65,266.00 209.00,266.02 209.35,266.03 209.70,266.06 210.04,266.08 210.39,266.11 210.74,266.14 211.09,266.18 211.44,266.22 211.79,266.26 212.13,266.31 212.48,266.36 212.83,266.42 213.18,266.48 213.53,266.54 213.88,266.61 214.22,266.68 214.57,266.76 214.92,266.84 215.27,266.92 215.62,267.01 215.97,267.10 216.31,267.19 216.66,267.29 217.01,267.40 217.36,267.50 217.71,267.61 218.06,267.73 218.40,267.85 218.75,267.97 219.10,268.09 219.45,268.23 219.80,268.36 220.15,268.50 220.49,268.64 220.84,268.79 221.19,268.94 221.54,269.13 221.89,269.42 222.24,269.79 222.59,270.23 222.93,270.75 223.28,271.33 223.63,271.98 223.98,272.67 224.33,273.42 224.68,274.20 225.02,275.03 225.37,275.88 225.72,276.76 226.07,277.66 226.42,278.57 226.77,279.49 227.11,280.47 227.46,281.55 227.81,282.73 228.16,284.00 228.51,285.37 228.86,286.81 229.20,288.33 229.55,289.93 229.90,291.58 230.25,293.30 230.60,295.07 230.95,296.97 231.29,299.04 231.64,301.26 231.99,303.61 232.34,306.09 232.69,308.69 233.04,311.43 233.38,315.07 233.73,319.44 234.08,323.71 234.43,327.07 234.78,328.69 235.13,325.38 235.47,315.35 235.82,303.98 236.17,296.54 236.52,291.35 236.87,286.72 237.22,282.74 237.56,279.47 237.91,276.98 238.26,275.03 238.61,273.23 238.96,271.60 239.31,270.20 239.65,269.05 240.00,268.20 240.35,267.69 240.70,267.43 241.05,267.19 241.40,266.98 241.75,266.79 242.09,266.61 242.44,266.46 242.79,266.33 243.14,266.22 243.49,266.13 243.84,266.06 244.18,266.01 244.53,265.99 244.88,265.98 245.23,265.99 245.58,265.99 245.93,266.00 246.27,266.01 246.62,266.02 246.97,266.03 247.32,266.05 247.67,266.07 248.02,266.08 248.36,266.11 248.71,266.13 249.06,266.15 249.41,266.18 249.76,266.21 250.11,266.24 250.45,266.27 250.80,266.30 251.15,266.33 251.50,266.37 251.85,266.41 252.20,266.44 252.54,266.48 252.89,266.52 253.24,266.56 253.59,266.60 253.94,266.64 254.29,266.68 254.63,266.73 254.98,266.77 255.33,266.82 255.68,266.86 256.03,266.90 256.38,266.95 256.72,266.99 257.07,267.04 257.42,267.09 257.77,267.15 258.12,267.21 258.47,267.27 258.81,267.34 259.16,267.41 259.51,267.48 259.86,267.55 260.21,267.63 260.56,267.71 260.90,267.80 261.25,267.89 261.60,267.98 261.95,268.07 262.30,268.17 262.65,268.27 263.00,268.37 263.34,268.48 263.69,268.59 264.04,268.70 264.39,268.82 264.74,268.94 265.09,269.06 265.43,269.18 265.78,269.31 266.13,269.44 266.48,269.57 266.83,269.71 267.18,269.84 267.52,269.98 267.87,270.13 268.22,270.27 268.57,270.42 268.92,270.58 269.27,270.73 269.61,270.89 269.96,271.05 270.31,271.21 270.66,271.37 271.01,271.54 271.36,271.71 271.70,271.88 272.05,272.06 272.40,272.23 272.75,272.41 273.10,272.59 273.45,272.78 273.79,272.97 274.14,273.15 274.49,273.35 274.84,273.54 275.19,273.73 275.54,273.93 275.88,274.13 276.23,274.33 276.58,274.54 276.93,274.74 277.28,274.95 277.63,275.16 277.97,275.38 278.32,275.59 278.67,275.81 279.02,276.03 279.37,276.25 279.72,276.47 280.06,276.69 280.41,276.92 280.76,277.15 281.11,277.38 281.46,277.61 281.81,277.84 282.15,278.08 282.50,278.32 282.85,278.56 283.20,278.80" fill="none" stroke="#3b8ff0" stroke-width="1.05" stroke-linejoin="round" stroke-linecap="round"/>
<polyline points="179.04,286.02 179.39,286.77 179.74,287.51 180.09,288.25 180.43,288.98 180.78,289.72 181.13,290.45 181.48,291.18 181.83,291.91 182.18,292.64 182.52,293.36 182.87,294.08 183.22,294.80 183.57,295.52 183.92,296.23 184.27,296.94 184.61,297.66 184.96,298.36 185.31,299.07 185.66,299.78 186.01,300.48 186.36,301.18 186.70,301.86 187.05,302.53 187.40,303.19 187.75,303.85 188.10,304.50 188.45,305.14 188.79,305.79 189.14,306.45 189.49,307.10 189.84,307.77 190.19,308.45 190.54,309.15 190.88,309.86 191.23,310.59 191.58,311.35 191.93,312.18 192.28,313.28 192.63,314.40 192.97,315.27 193.32,315.59 193.67,315.01 194.02,313.72 194.37,312.10 194.72,310.56 195.06,309.36 195.41,308.23 195.76,307.11 196.11,306.01 196.46,304.93 196.81,303.86 197.15,302.80 197.50,301.76 197.85,300.72 198.20,299.69 198.55,298.67 198.90,297.66 199.24,296.64 199.59,295.63 199.94,294.62 200.29,293.61 200.64,292.60 200.99,291.58 201.34,290.56 201.68,289.53 202.03,288.50 202.38,287.44 202.73,286.35 203.08,285.24 203.43,284.12 203.77,282.99 204.12,281.86 204.47,280.73 204.82,279.60 205.17,278.49 205.52,277.40 205.86,276.33 206.21,275.29 206.56,274.29 206.91,273.33 207.26,272.41 207.61,271.55 207.95,270.74 208.30,269.99 208.65,269.20 209.00,268.39 209.35,267.62 209.70,266.94 210.04,266.40 210.39,266.07 210.74,265.98 211.09,265.99 211.44,265.99 211.79,266.00 212.13,266.02 212.48,266.03 212.83,266.05 213.18,266.08 213.53,266.10 213.88,266.13 214.22,266.17 214.57,266.20 214.92,266.25 215.27,266.29 215.62,266.34 215.97,266.39 216.31,266.44 216.66,266.50 217.01,266.57 217.36,266.63 217.71,266.70 218.06,266.77 218.40,266.85 218.75,266.93 219.10,267.01 219.45,267.10 219.80,267.19 220.15,267.29 220.49,267.38 220.84,267.48 221.19,267.59 221.54,267.70 221.89,267.81 222.24,267.93 222.59,268.05 222.93,268.17 223.28,268.30 223.63,268.43 223.98,268.56 224.33,268.70 224.68,268.84 225.02,268.99 225.37,269.20 225.72,269.49 226.07,269.84 226.42,270.27 226.77,270.76 227.11,271.31 227.46,271.90 227.81,272.55 228.16,273.24 228.51,273.97 228.86,274.73 229.20,275.51 229.55,276.32 229.90,277.15 230.25,278.00 230.60,278.86 230.95,279.80 231.29,280.85 231.64,282.00 231.99,283.24 232.34,284.57 232.69,285.98 233.04,287.45 233.38,289.00 233.73,290.60 234.08,292.25 234.43,293.97 234.78,295.83 235.13,297.85 235.47,300.00 235.82,302.28 236.17,304.68 236.52,307.19 236.87,309.96 237.22,313.74 237.56,317.96 237.91,321.83 238.26,324.58 238.61,325.33 238.96,319.62 239.31,309.04 239.65,298.96 240.00,293.25 240.35,288.68 240.70,284.67 241.05,281.27 241.40,278.49 241.75,276.35 242.09,274.48 242.44,272.73 242.79,271.17 243.14,269.83 243.49,268.76 243.84,268.00 244.18,267.59 244.53,267.35 244.88,267.12 245.23,266.92 245.58,266.73 245.93,266.56 246.27,266.42 246.62,266.29 246.97,266.19 247.32,266.11 247.67,266.04 248.02,266.00 248.36,265.99 248.71,265.99 249.06,265.99 249.41,265.99 249.76,266.00 250.11,266.01 250.45,266.02 250.80,266.04 251.15,266.05 251.50,266.07 251.85,266.09 252.20,266.11 252.54,266.14 252.89,266.16 253.24,266.19 253.59,266.22 253.94,266.25 254.29,266.28 254.63,266.31 254.98,266.34 255.33,266.38 255.68,266.42 256.03,266.45 256.38,266.49 256.72,266.53 257.07,266.57 257.42,266.61 257.77,266.66 258.12,266.70 258.47,266.74 258.81,266.78 259.16,266.83 259.51,266.87 259.86,266.92 260.21,266.96 260.56,267.01 260.90,267.06 261.25,267.11 261.60,267.17 261.95,267.23 262.30,267.30 262.65,267.37 263.00,267.44 263.34,267.51 263.69,267.59 264.04,267.67 264.39,267.76 264.74,267.85 265.09,267.94 265.43,268.04 265.78,268.13 266.13,268.24 266.48,268.34 266.83,268.45 267.18,268.56 267.52,268.67 267.87,268.79 268.22,268.91 268.57,269.04 268.92,269.16 269.27,269.29 269.61,269.42 269.96,269.56 270.31,269.70 270.66,269.84 271.01,269.98 271.36,270.13 271.70,270.28 272.05,270.43 272.40,270.58 272.75,270.74 273.10,270.90 273.45,271.06 273.79,271.22 274.14,271.39 274.49,271.56 274.84,271.73 275.19,271.91 275.54,272.08 275.88,272.26 276.23,272.44 276.58,272.63 276.93,272.81 277.28,273.00 277.63,273.19 277.97,273.38 278.32,273.58 278.67,273.77 279.02,273.97 279.37,274.17 279.72,274.37 280.06,274.58 280.41,274.78 280.76,274.99 281.11,275.20 281.46,275.41 281.81,275.63 282.15,275.84 282.50,276.06 282.85,276.28 283.20,276.50" fill="none" stroke="#ff6b6b" stroke-width="1.05" stroke-linejoin="round" stroke-linecap="round"/>
<polyline points="179.04,284.05 179.39,284.78 179.74,285.50 180.09,286.22 180.43,286.94 180.78,287.66 181.13,288.38 181.48,289.09 181.83,289.80 182.18,290.51 182.52,291.22 182.87,291.93 183.22,292.63 183.57,293.33 183.92,294.03 184.27,294.73 184.61,295.42 184.96,296.12 185.31,296.81 185.66,297.50 186.01,298.19 186.36,298.87 186.70,299.56 187.05,300.24 187.40,300.91 187.75,301.57 188.10,302.21 188.45,302.85 188.79,303.48 189.14,304.10 189.49,304.72 189.84,305.35 190.19,305.97 190.54,306.60 190.88,307.24 191.23,307.89 191.58,308.55 191.93,309.22 192.28,309.91 192.63,310.62 192.97,311.35 193.32,312.11 193.67,312.99 194.02,314.13 194.37,315.24 194.72,316.04 195.06,316.21 195.41,315.43 195.76,314.00 196.11,312.34 196.46,310.88 196.81,309.78 197.15,308.73 197.50,307.69 197.85,306.69 198.20,305.70 198.55,304.74 198.90,303.79 199.24,302.86 199.59,301.95 199.94,301.05 200.29,300.17 200.64,299.29 200.99,298.43 201.34,297.57 201.68,296.72 202.03,295.87 202.38,295.03 202.73,294.19 203.08,293.34 203.43,292.50 203.77,291.65 204.12,290.80 204.47,289.94 204.82,289.07 205.17,288.20 205.52,287.31 205.86,286.42 206.21,285.51 206.56,284.61 206.91,283.70 207.26,282.79 207.61,281.89 207.95,280.98 208.30,280.08 208.65,279.19 209.00,278.31 209.35,277.43 209.70,276.57 210.04,275.73 210.39,274.89 210.74,274.08 211.09,273.28 211.44,272.51 211.79,271.76 212.13,271.03 212.48,270.33 212.83,269.60 213.18,268.81 213.53,268.02 213.88,267.27 214.22,266.65 214.57,266.20 214.92,265.99 215.27,265.99 215.62,265.99 215.97,265.99 216.31,266.00 216.66,266.01 217.01,266.02 217.36,266.03 217.71,266.05 218.06,266.07 218.40,266.09 218.75,266.11 219.10,266.13 219.45,266.16 219.80,266.19 220.15,266.22 220.49,266.25 220.84,266.28 221.19,266.32 221.54,266.36 221.89,266.40 222.24,266.44 222.59,266.49 222.93,266.54 223.28,266.59 223.63,266.64 223.98,266.69 224.33,266.75 224.68,266.81 225.02,266.87 225.37,266.93 225.72,266.99 226.07,267.06 226.42,267.13 226.77,267.20 227.11,267.27 227.46,267.35 227.81,267.42 228.16,267.50 228.51,267.59 228.86,267.67 229.20,267.75 229.55,267.84 229.90,267.93 230.25,268.02 230.60,268.12 230.95,268.22 231.29,268.31 231.64,268.42 231.99,268.52 232.34,268.62 232.69,268.73 233.04,268.84 233.38,268.95 233.73,269.09 234.08,269.26 234.43,269.48 234.78,269.72 235.13,270.01 235.47,270.32 235.82,270.67 236.17,271.05 236.52,271.45 236.87,271.89 237.22,272.35 237.56,272.83 237.91,273.34 238.26,273.86 238.61,274.41 238.96,274.98 239.31,275.62 239.65,276.39 240.00,277.27 240.35,278.25 240.70,279.31 241.05,280.45 241.40,281.66 241.75,282.91 242.09,284.21 242.44,285.54 242.79,286.90 243.14,288.36 243.49,289.94 243.84,291.64 244.18,293.44 244.53,295.33 244.88,297.32 245.23,299.43 245.58,302.30 245.93,305.64 246.27,308.84 246.62,311.27 246.97,312.30 247.32,308.93 247.67,300.75 248.02,292.31 248.36,287.67 248.71,284.74 249.06,282.30 249.41,280.25 249.76,278.44 250.11,276.76 250.45,275.06 250.80,273.37 251.15,271.75 251.50,270.30 251.85,269.07 252.20,268.17 252.54,267.65 252.89,267.40 253.24,267.17 253.59,266.96 253.94,266.77 254.29,266.60 254.63,266.45 254.98,266.32 255.33,266.21 255.68,266.12 256.03,266.05 256.38,266.01 256.72,265.99 257.07,265.98 257.42,265.99 257.77,265.99 258.12,266.00 258.47,266.01 258.81,266.02 259.16,266.03 259.51,266.04 259.86,266.06 260.21,266.08 260.56,266.10 260.90,266.12 261.25,266.14 261.60,266.16 261.95,266.19 262.30,266.22 262.65,266.25 263.00,266.28 263.34,266.31 263.69,266.35 264.04,266.38 264.39,266.42 264.74,266.46 265.09,266.50 265.43,266.54 265.78,266.58 266.13,266.62 266.48,266.67 266.83,266.71 267.18,266.76 267.52,266.80 267.87,266.85 268.22,266.90 268.57,266.95 268.92,267.01 269.27,267.07 269.61,267.15 269.96,267.24 270.31,267.35 270.66,267.46 271.01,267.59 271.36,267.73 271.70,267.88 272.05,268.05 272.40,268.22 272.75,268.40 273.10,268.60 273.45,268.80 273.79,269.01 274.14,269.24 274.49,269.47 274.84,269.71 275.19,269.96 275.54,270.22 275.88,270.49 276.23,270.76 276.58,271.04 276.93,271.33 277.28,271.63 277.63,271.93 277.97,272.24 278.32,272.56 278.67,272.88 279.02,273.21 279.37,273.54 279.72,273.88 280.06,274.22 280.41,274.57 280.76,274.92 281.11,275.28 281.46,275.64 281.81,276.00 282.15,276.37 282.50,276.74 282.85,277.11 283.20,277.48" fill="none" stroke="#7f7f7f" stroke-width="1.05" stroke-linejoin="round" stroke-linecap="round"/>
<text x="272.0" y="295.8" font-size="6.0" fill="#333" text-anchor="start" font-family="'Liberation Sans', Arial, sans-serif" stroke="#333" stroke-width="0.16">Pressure</text>
<line x1="271.6" y1="302.4" x2="286.6" y2="302.4" stroke="#7f7f7f" stroke-width="1.0"/>
<text x="288.6" y="304.6" font-size="6.05" fill="#333" text-anchor="start" font-family="'Liberation Sans', Arial, sans-serif" stroke="#333" stroke-width="0.16">675Pa</text>
<line x1="271.6" y1="310.8" x2="286.6" y2="310.8" stroke="#ff6b6b" stroke-width="1.0"/>
<text x="288.6" y="313.0" font-size="6.05" fill="#333" text-anchor="start" font-family="'Liberation Sans', Arial, sans-serif" stroke="#333" stroke-width="0.16">2025Pa</text>
<line x1="271.6" y1="319.2" x2="286.6" y2="319.2" stroke="#3b8ff0" stroke-width="1.0"/>
<text x="288.6" y="321.4" font-size="6.05" fill="#333" text-anchor="start" font-family="'Liberation Sans', Arial, sans-serif" stroke="#333" stroke-width="0.16">3375Pa</text>
<line x1="271.6" y1="327.6" x2="286.6" y2="327.6" stroke="#2fbf8f" stroke-width="1.0"/>
<text x="288.6" y="329.8" font-size="6.05" fill="#333" text-anchor="start" font-family="'Liberation Sans', Arial, sans-serif" stroke="#333" stroke-width="0.16">6075Pa</text>
<line x1="271.6" y1="336.0" x2="286.6" y2="336.0" stroke="#d69cf5" stroke-width="1.0"/>
<text x="288.6" y="338.2" font-size="6.05" fill="#333" text-anchor="start" font-family="'Liberation Sans', Arial, sans-serif" stroke="#333" stroke-width="0.16">14,175Pa</text>
<line x1="271.6" y1="344.4" x2="286.6" y2="344.4" stroke="#f2b233" stroke-width="1.0"/>
<text x="288.6" y="346.6" font-size="6.05" fill="#333" text-anchor="start" font-family="'Liberation Sans', Arial, sans-serif" stroke="#333" stroke-width="0.16">23,760Pa</text>
<text x="311.4" y="247.8" font-size="10.0" fill="#111" text-anchor="start" font-family="'Liberation Sans', Arial, sans-serif" font-weight="bold" stroke="#111" stroke-width="0.2">(g)</text>
<line x1="358.4" y1="265.0" x2="358.4" y2="360.6" stroke="#4a4a4a" stroke-width="0.8"/>
<line x1="358.4" y1="360.6" x2="477.9" y2="360.6" stroke="#4a4a4a" stroke-width="0.8"/>
<line x1="369.0" y1="360.6" x2="369.0" y2="362.2" stroke="#4a4a4a" stroke-width="0.8"/>
<text x="369.0" y="369.3" font-size="7.4" fill="#222" text-anchor="middle" font-family="'Liberation Sans', Arial, sans-serif" font-weight="bold" stroke="#222" stroke-width="0.12">0</text>
<line x1="388.7" y1="360.6" x2="388.7" y2="362.2" stroke="#4a4a4a" stroke-width="0.8"/>
<text x="388.7" y="369.3" font-size="7.4" fill="#222" text-anchor="middle" font-family="'Liberation Sans', Arial, sans-serif" font-weight="bold" stroke="#222" stroke-width="0.12">5</text>
<line x1="408.4" y1="360.6" x2="408.4" y2="362.2" stroke="#4a4a4a" stroke-width="0.8"/>
<text x="408.4" y="369.3" font-size="7.4" fill="#222" text-anchor="middle" font-family="'Liberation Sans', Arial, sans-serif" font-weight="bold" stroke="#222" stroke-width="0.12">10</text>
<line x1="428.1" y1="360.6" x2="428.1" y2="362.2" stroke="#4a4a4a" stroke-width="0.8"/>
<text x="428.1" y="369.3" font-size="7.4" fill="#222" text-anchor="middle" font-family="'Liberation Sans', Arial, sans-serif" font-weight="bold" stroke="#222" stroke-width="0.12">15</text>
<line x1="447.8" y1="360.6" x2="447.8" y2="362.2" stroke="#4a4a4a" stroke-width="0.8"/>
<text x="447.8" y="369.3" font-size="7.4" fill="#222" text-anchor="middle" font-family="'Liberation Sans', Arial, sans-serif" font-weight="bold" stroke="#222" stroke-width="0.12">20</text>
<line x1="467.5" y1="360.6" x2="467.5" y2="362.2" stroke="#4a4a4a" stroke-width="0.8"/>
<text x="467.5" y="369.3" font-size="7.4" fill="#222" text-anchor="middle" font-family="'Liberation Sans', Arial, sans-serif" font-weight="bold" stroke="#222" stroke-width="0.12">25</text>
<line x1="356.8" y1="350.8" x2="358.4" y2="350.8" stroke="#4a4a4a" stroke-width="0.8"/>
<text x="355.2" y="353.5" font-size="7.4" fill="#222" text-anchor="end" font-family="'Liberation Sans', Arial, sans-serif" font-weight="bold" stroke="#222" stroke-width="0.12">280</text>
<line x1="356.8" y1="331.6" x2="358.4" y2="331.6" stroke="#4a4a4a" stroke-width="0.8"/>
<text x="355.2" y="334.3" font-size="7.4" fill="#222" text-anchor="end" font-family="'Liberation Sans', Arial, sans-serif" font-weight="bold" stroke="#222" stroke-width="0.12">300</text>
<line x1="356.8" y1="312.4" x2="358.4" y2="312.4" stroke="#4a4a4a" stroke-width="0.8"/>
<text x="355.2" y="315.1" font-size="7.4" fill="#222" text-anchor="end" font-family="'Liberation Sans', Arial, sans-serif" font-weight="bold" stroke="#222" stroke-width="0.12">320</text>
<line x1="356.8" y1="293.2" x2="358.4" y2="293.2" stroke="#4a4a4a" stroke-width="0.8"/>
<text x="355.2" y="295.9" font-size="7.4" fill="#222" text-anchor="end" font-family="'Liberation Sans', Arial, sans-serif" font-weight="bold" stroke="#222" stroke-width="0.12">340</text>
<line x1="356.8" y1="274.0" x2="358.4" y2="274.0" stroke="#4a4a4a" stroke-width="0.8"/>
<text x="355.2" y="276.7" font-size="7.4" fill="#222" text-anchor="end" font-family="'Liberation Sans', Arial, sans-serif" font-weight="bold" stroke="#222" stroke-width="0.12">360</text>
<line x1="378.9" y1="360.6" x2="378.9" y2="361.6" stroke="#4a4a4a" stroke-width="0.5"/>
<line x1="398.6" y1="360.6" x2="398.6" y2="361.6" stroke="#4a4a4a" stroke-width="0.5"/>
<line x1="418.2" y1="360.6" x2="418.2" y2="361.6" stroke="#4a4a4a" stroke-width="0.5"/>
<line x1="437.9" y1="360.6" x2="437.9" y2="361.6" stroke="#4a4a4a" stroke-width="0.5"/>
<line x1="457.6" y1="360.6" x2="457.6" y2="361.6" stroke="#4a4a4a" stroke-width="0.5"/>
<line x1="357.4" y1="341.2" x2="358.4" y2="341.2" stroke="#4a4a4a" stroke-width="0.5"/>
<line x1="357.4" y1="322.0" x2="358.4" y2="322.0" stroke="#4a4a4a" stroke-width="0.5"/>
<line x1="357.4" y1="302.8" x2="358.4" y2="302.8" stroke="#4a4a4a" stroke-width="0.5"/>
<line x1="357.4" y1="283.6" x2="358.4" y2="283.6" stroke="#4a4a4a" stroke-width="0.5"/>
<text x="418.0" y="377.2" font-size="6.2" fill="#333" text-anchor="middle" font-family="'Liberation Sans', Arial, sans-serif" stroke="#333" stroke-width="0.16">Pressure (KPa)</text>
<text x="340.7" y="312.5" font-size="6.6" fill="#333" text-anchor="middle" font-family="'Liberation Sans', Arial, sans-serif" transform="rotate(-90 340.7 312.5)" stroke="#333" stroke-width="0.16">Frequency(MHz)</text>
<line x1="371.7" y1="273.5" x2="462.6" y2="322.3" stroke="#888" stroke-width="0.7" stroke-dasharray="2,1.5"/>
<line x1="371.7" y1="299.5" x2="462.6" y2="350.5" stroke="#ff4d4d" stroke-width="0.7" stroke-dasharray="2.5,2"/>
<polyline points="371.66,273.52 376.98,274.96 382.30,276.88 392.94,282.16 424.85,298.00 462.61,321.04" fill="none" stroke="#333" stroke-width="0.7" stroke-linejoin="round" stroke-linecap="round"/>
<polyline points="371.66,291.28 376.98,304.72 382.30,310.00 392.94,315.28 424.85,324.88 462.61,351.76" fill="none" stroke="#ff3333" stroke-width="0.8" stroke-linejoin="round" stroke-linecap="round"/>
<rect x="370.6" y="272.4" width="2.2" height="2.2" fill="#333"/>
<rect x="375.9" y="273.9" width="2.2" height="2.2" fill="#333"/>
<rect x="381.2" y="275.8" width="2.2" height="2.2" fill="#333"/>
<rect x="391.8" y="281.1" width="2.2" height="2.2" fill="#333"/>
<rect x="423.7" y="296.9" width="2.2" height="2.2" fill="#333"/>
<rect x="461.5" y="319.9" width="2.2" height="2.2" fill="#333"/>
<circle cx="371.7" cy="291.3" r="1.3" fill="#ff2a2a"/>
<circle cx="377.0" cy="304.7" r="1.3" fill="#ff2a2a"/>
<circle cx="382.3" cy="310.0" r="1.3" fill="#ff2a2a"/>
<circle cx="392.9" cy="315.3" r="1.3" fill="#ff2a2a"/>
<circle cx="424.8" cy="324.9" r="1.3" fill="#ff2a2a"/>
<circle cx="462.6" cy="351.8" r="1.3" fill="#ff2a2a"/>
<text x="422.6" y="262.0" font-size="6.8" fill="#222" text-anchor="start" font-family="'Liberation Sans', Arial, sans-serif" stroke="#222" stroke-width="0.16">Readout device</text>
<line x1="417.0" y1="268.6" x2="438.0" y2="268.6" stroke="#333" stroke-width="0.7"/>
<circle cx="427.5" cy="268.6" r="1.1" fill="#333"/>
<text x="440.4" y="271.0" font-size="6.8" fill="#222" text-anchor="start" font-family="'Liberation Sans', Arial, sans-serif" stroke="#222" stroke-width="0.16">Copper ring</text>
<line x1="417.0" y1="277.6" x2="438.0" y2="277.6" stroke="#ff3333" stroke-width="0.8"/>
<circle cx="427.5" cy="277.6" r="1.2" fill="#ff2a2a"/>
<text x="440.4" y="280.0" font-size="6.8" fill="#222" text-anchor="start" font-family="'Liberation Sans', Arial, sans-serif" stroke="#222" stroke-width="0.16">Monopole antenna</text>
<text x="409.6" y="290.8" font-size="9.6" fill="#555" text-anchor="start" font-family="'Liberation Serif', 'Noto Serif CJK SC', serif" textLength="86" lengthAdjust="spacingAndGlyphs">df/dp=-2.2MHz/KPa</text>
<text x="358.9" y="353.8" font-size="9.6" fill="#555" text-anchor="start" font-family="'Liberation Serif', 'Noto Serif CJK SC', serif" textLength="84" lengthAdjust="spacingAndGlyphs">df/dp=-2.3MHz/KPa</text>
<text x="3.8" y="400.2" font-size="9.4" fill="#111" text-anchor="start" font-family="'Liberation Sans', Arial, sans-serif" font-weight="bold" stroke="#111" stroke-width="0.2">(h)</text>
<text x="36.8" y="400.5" font-size="8.9" fill="#111" text-anchor="start" font-family="'Liberation Sans', Arial, sans-serif" font-weight="bold" stroke="#111" stroke-width="0.15">Array test</text>
<line x1="330.6" y1="399.0" x2="330.6" y2="523.0" stroke="#666" stroke-width="1.3"/>
<line x1="330.6" y1="523.0" x2="482.0" y2="523.0" stroke="#666" stroke-width="1.3"/>
<line x1="344.3" y1="523.0" x2="344.3" y2="524.6" stroke="#666" stroke-width="1.3"/>
<text x="344.3" y="533.9" font-size="8.5" fill="#222" text-anchor="middle" font-family="'Liberation Sans', Arial, sans-serif" font-weight="bold" stroke="#222" stroke-width="0.12">200</text>
<line x1="373.8" y1="523.0" x2="373.8" y2="524.6" stroke="#666" stroke-width="1.3"/>
<text x="373.8" y="533.9" font-size="8.5" fill="#222" text-anchor="middle" font-family="'Liberation Sans', Arial, sans-serif" font-weight="bold" stroke="#222" stroke-width="0.12">240</text>
<line x1="403.3" y1="523.0" x2="403.3" y2="524.6" stroke="#666" stroke-width="1.3"/>
<text x="403.3" y="533.9" font-size="8.5" fill="#222" text-anchor="middle" font-family="'Liberation Sans', Arial, sans-serif" font-weight="bold" stroke="#222" stroke-width="0.12">280</text>
<line x1="432.8" y1="523.0" x2="432.8" y2="524.6" stroke="#666" stroke-width="1.3"/>
<text x="432.8" y="533.9" font-size="8.5" fill="#222" text-anchor="middle" font-family="'Liberation Sans', Arial, sans-serif" font-weight="bold" stroke="#222" stroke-width="0.12">320</text>
<line x1="462.3" y1="523.0" x2="462.3" y2="524.6" stroke="#666" stroke-width="1.3"/>
<text x="462.3" y="533.9" font-size="8.5" fill="#222" text-anchor="middle" font-family="'Liberation Sans', Arial, sans-serif" font-weight="bold" stroke="#222" stroke-width="0.12">360</text>
<line x1="329.0" y1="408.6" x2="330.6" y2="408.6" stroke="#666" stroke-width="1.3"/>
<text x="326.1" y="411.7" font-size="8.5" fill="#222" text-anchor="end" font-family="'Liberation Sans', Arial, sans-serif" font-weight="bold" stroke="#222" stroke-width="0.12">0</text>
<line x1="329.0" y1="427.7" x2="330.6" y2="427.7" stroke="#666" stroke-width="1.3"/>
<text x="326.1" y="430.7" font-size="8.5" fill="#222" text-anchor="end" font-family="'Liberation Sans', Arial, sans-serif" font-weight="bold" stroke="#222" stroke-width="0.12">-2</text>
<line x1="329.0" y1="446.7" x2="330.6" y2="446.7" stroke="#666" stroke-width="1.3"/>
<text x="326.1" y="449.8" font-size="8.5" fill="#222" text-anchor="end" font-family="'Liberation Sans', Arial, sans-serif" font-weight="bold" stroke="#222" stroke-width="0.12">-4</text>
<line x1="329.0" y1="465.8" x2="330.6" y2="465.8" stroke="#666" stroke-width="1.3"/>
<text x="326.1" y="468.8" font-size="8.5" fill="#222" text-anchor="end" font-family="'Liberation Sans', Arial, sans-serif" font-weight="bold" stroke="#222" stroke-width="0.12">-6</text>
<line x1="329.0" y1="484.8" x2="330.6" y2="484.8" stroke="#666" stroke-width="1.3"/>
<text x="326.1" y="487.9" font-size="8.5" fill="#222" text-anchor="end" font-family="'Liberation Sans', Arial, sans-serif" font-weight="bold" stroke="#222" stroke-width="0.12">-8</text>
<line x1="329.0" y1="503.9" x2="330.6" y2="503.9" stroke="#666" stroke-width="1.3"/>
<text x="326.1" y="507.0" font-size="8.5" fill="#222" text-anchor="end" font-family="'Liberation Sans', Arial, sans-serif" font-weight="bold" stroke="#222" stroke-width="0.12">-10</text>
<line x1="329.0" y1="523.0" x2="330.6" y2="523.0" stroke="#666" stroke-width="1.3"/>
<text x="326.1" y="526.0" font-size="8.5" fill="#222" text-anchor="end" font-family="'Liberation Sans', Arial, sans-serif" font-weight="bold" stroke="#222" stroke-width="0.12">-12</text>
<line x1="359.1" y1="523.0" x2="359.1" y2="524.0" stroke="#666" stroke-width="0.5"/>
<line x1="388.6" y1="523.0" x2="388.6" y2="524.0" stroke="#666" stroke-width="0.5"/>
<line x1="418.1" y1="523.0" x2="418.1" y2="524.0" stroke="#666" stroke-width="0.5"/>
<line x1="447.6" y1="523.0" x2="447.6" y2="524.0" stroke="#666" stroke-width="0.5"/>
<line x1="477.1" y1="523.0" x2="477.1" y2="524.0" stroke="#666" stroke-width="0.5"/>
<line x1="329.6" y1="418.1" x2="330.6" y2="418.1" stroke="#666" stroke-width="0.5"/>
<line x1="329.6" y1="437.2" x2="330.6" y2="437.2" stroke="#666" stroke-width="0.5"/>
<line x1="329.6" y1="456.2" x2="330.6" y2="456.2" stroke="#666" stroke-width="0.5"/>
<line x1="329.6" y1="475.3" x2="330.6" y2="475.3" stroke="#666" stroke-width="0.5"/>
<line x1="329.6" y1="494.4" x2="330.6" y2="494.4" stroke="#666" stroke-width="0.5"/>
<line x1="329.6" y1="513.4" x2="330.6" y2="513.4" stroke="#666" stroke-width="0.5"/>
<text x="407.0" y="545.2" font-size="8.6" fill="#222" text-anchor="middle" font-family="'Liberation Sans', Arial, sans-serif" stroke="#222" stroke-width="0.16">Frequency(MHz)</text>
<text x="310.0" y="456.8" font-size="8.8" fill="#222" text-anchor="middle" font-family="'Liberation Sans', Arial, sans-serif" transform="rotate(-90 310 456.8)" stroke="#222" stroke-width="0.16">Return loss(dB)</text>
<polyline points="344.30,424.80 344.61,425.71 344.92,426.65 345.23,427.46 345.54,428.00 345.85,428.14 346.16,428.13 346.47,428.12 346.78,428.10 347.09,428.08 347.41,428.05 347.72,428.02 348.03,427.98 348.34,427.95 348.65,427.91 348.96,427.87 349.27,427.83 349.58,427.80 349.89,427.76 350.20,427.73 350.51,427.71 350.82,427.69 351.13,427.67 351.44,427.66 351.75,427.66 352.06,427.66 352.37,427.66 352.68,427.66 352.99,427.66 353.31,427.66 353.62,427.66 353.93,427.66 354.24,427.66 354.55,427.66 354.86,427.66 355.17,427.66 355.48,427.66 355.79,427.66 356.10,427.66 356.41,427.66 356.72,427.66 357.03,427.66 357.34,427.66 357.65,427.66 357.96,427.66 358.27,427.66 358.58,427.66 358.89,427.66 359.21,427.66 359.52,427.66 359.83,427.66 360.14,427.66 360.45,427.66 360.76,427.66 361.07,427.66 361.38,427.66 361.69,427.66 362.00,427.66 362.31,427.66 362.62,427.66 362.93,427.66 363.24,427.68 363.55,427.72 363.86,427.78 364.17,427.85 364.48,427.93 364.79,428.03 365.11,428.14 365.42,428.26 365.73,428.40 366.04,428.54 366.35,428.70 366.66,428.86 366.97,429.03 367.28,429.20 367.59,429.38 367.90,429.57 368.21,429.79 368.52,430.07 368.83,430.40 369.14,430.79 369.45,431.23 369.76,431.71 370.07,432.23 370.38,432.79 370.69,433.38 371.01,434.00 371.32,434.63 371.63,435.29 371.94,435.96 372.25,436.64 372.56,437.33 372.87,438.02 373.18,438.70 373.49,439.38 373.80,440.05 374.11,440.72 374.42,441.42 374.73,442.14 375.04,442.88 375.35,443.64 375.66,444.42 375.97,445.22 376.28,446.04 376.59,446.87 376.91,447.72 377.22,448.59 377.53,449.46 377.84,450.35 378.15,451.26 378.46,452.19 378.77,453.20 379.08,454.26 379.39,455.36 379.70,456.49 380.01,457.63 380.32,458.76 380.63,459.87 380.94,460.95 381.25,461.96 381.56,462.91 381.87,463.77 382.18,464.61 382.49,465.51 382.81,466.39 383.12,467.21 383.43,467.90 383.74,468.40 384.05,468.63 384.36,468.16 384.67,466.25 384.98,463.26 385.29,459.63 385.60,455.77 385.91,452.11 386.22,448.52 386.53,444.25 386.84,439.63 387.15,435.00 387.46,430.69 387.77,427.05 388.08,424.41 388.39,422.78 388.71,421.29 389.02,419.91 389.33,418.67 389.64,417.62 389.95,416.76 390.26,416.15 390.57,415.81 390.88,415.75 391.19,415.81 391.50,415.93 391.81,416.11 392.12,416.34 392.43,416.61 392.74,416.93 393.05,417.28 393.36,417.67 393.67,418.08 393.98,418.62 394.29,419.46 394.61,420.54 394.92,421.85 395.23,423.33 395.54,424.96 395.85,426.69 396.16,428.49 396.47,430.33 396.78,432.18 397.09,434.25 397.40,436.57 397.71,439.09 398.02,441.76 398.33,444.55 398.64,447.40 398.95,450.27 399.26,453.12 399.57,455.91 399.88,458.69 400.19,461.60 400.51,464.61 400.82,467.66 401.13,470.73 401.44,473.76 401.75,476.74 402.06,479.60 402.37,482.32 402.68,484.85 402.99,487.17 403.30,489.57 403.61,492.09 403.92,494.54 404.23,496.74 404.54,498.52 404.85,499.69 405.16,500.08 405.47,498.72 405.78,495.38 406.09,490.69 406.41,485.26 406.72,479.74 407.03,474.72 407.34,469.48 407.65,463.60 407.96,457.44 408.27,451.36 408.58,445.71 408.89,440.87 409.20,437.19 409.51,434.27 409.82,431.51 410.13,428.92 410.44,426.53 410.75,424.37 411.06,422.47 411.37,420.83 411.68,419.50 411.99,418.50 412.31,417.81 412.62,417.19 412.93,416.59 413.24,416.04 413.55,415.52 413.86,415.04 414.17,414.60 414.48,414.21 414.79,413.86 415.10,413.56 415.41,413.31 415.72,413.12 416.03,412.98 416.34,412.91 416.65,412.89 416.96,412.89 417.27,412.90 417.58,412.90 417.89,412.92 418.21,412.93 418.52,412.95 418.83,412.97 419.14,412.99 419.45,413.01 419.76,413.04 420.07,413.07 420.38,413.10 420.69,413.13 421.00,413.17 421.31,413.21 421.62,413.25 421.93,413.29 422.24,413.33 422.55,413.38 422.86,413.45 423.17,413.56 423.48,413.71 423.79,413.89 424.11,414.10 424.42,414.34 424.73,414.60 425.04,414.89 425.35,415.20 425.66,415.54 425.97,415.89 426.28,416.25 426.59,416.64 426.90,417.03 427.21,417.43 427.52,417.85 427.83,418.26 428.14,418.69 428.45,419.11 428.76,419.54 429.07,419.96 429.38,420.38 429.69,420.79 430.01,421.19 430.32,421.60 430.63,422.01 430.94,422.43 431.25,422.86 431.56,423.30 431.87,423.74 432.18,424.20 432.49,424.66 432.80,425.13 433.11,425.62 433.42,426.12 433.73,426.63 434.04,427.16 434.35,427.70 434.66,428.25 434.97,428.82 435.28,429.41 435.59,430.02 435.91,430.64 436.22,431.28 436.53,431.95 436.84,432.63 437.15,433.33 437.46,434.06 437.77,434.80 438.08,435.58 438.39,436.38 438.70,437.22 439.01,438.10 439.32,439.02 439.63,439.99 439.94,441.01 440.25,442.08 440.56,443.21 440.87,444.41 441.18,445.67 441.49,447.00 441.81,448.41 442.12,449.89 442.43,451.46 442.74,453.11 443.05,454.85 443.36,456.77 443.67,459.07 443.98,461.71 444.29,464.65 444.60,467.83 444.91,471.21 445.22,474.75 445.53,478.38 445.84,482.07 446.15,485.85 446.46,491.10 446.77,496.53 447.08,499.85 447.39,498.79 447.71,493.09 448.02,484.41 448.33,474.45 448.64,464.93 448.95,457.56 449.26,452.77 449.57,448.31 449.88,444.09 450.19,440.15 450.50,436.53 450.81,433.26 451.12,430.39 451.43,427.94 451.74,425.96 452.05,424.47 452.36,423.16 452.67,421.91 452.98,420.72 453.29,419.59 453.61,418.55 453.92,417.58 454.23,416.69 454.54,415.90 454.85,415.20 455.16,414.61 455.47,414.12 455.78,413.75 456.09,413.49 456.40,413.37 456.71,413.30 457.02,413.24 457.33,413.19 457.64,413.14 457.95,413.09 458.26,413.05 458.57,413.02 458.88,412.98 459.19,412.96 459.51,412.93 459.82,412.91 460.13,412.90 460.44,412.89 460.75,412.89 461.06,412.89 461.37,412.90 461.68,412.93 461.99,412.96 462.30,413.00 462.61,413.05 462.92,413.10 463.23,413.17 463.54,413.25 463.85,413.33 464.16,413.42 464.47,413.52 464.78,413.63 465.09,413.74 465.41,413.87 465.72,414.00 466.03,414.13 466.34,414.28 466.65,414.43 466.96,414.58 467.27,414.75 467.58,414.91 467.89,415.09 468.20,415.27" fill="none" stroke="#6e6e6e" stroke-width="1.1" stroke-linejoin="round" stroke-linecap="round"/>
<polyline points="344.30,424.80 344.61,425.84 344.92,426.91 345.23,427.84 345.54,428.45 345.85,428.61 346.16,428.61 346.47,428.59 346.78,428.58 347.09,428.55 347.41,428.52 347.72,428.49 348.03,428.46 348.34,428.42 348.65,428.38 348.96,428.35 349.27,428.31 349.58,428.27 349.89,428.24 350.20,428.21 350.51,428.18 350.82,428.16 351.13,428.15 351.44,428.14 351.75,428.14 352.06,428.14 352.37,428.14 352.68,428.14 352.99,428.14 353.31,428.15 353.62,428.15 353.93,428.16 354.24,428.16 354.55,428.17 354.86,428.17 355.17,428.18 355.48,428.19 355.79,428.20 356.10,428.21 356.41,428.22 356.72,428.23 357.03,428.24 357.34,428.26 357.65,428.27 357.96,428.29 358.27,428.30 358.58,428.32 358.89,428.33 359.21,428.35 359.52,428.37 359.83,428.39 360.14,428.41 360.45,428.43 360.76,428.45 361.07,428.48 361.38,428.50 361.69,428.52 362.00,428.55 362.31,428.58 362.62,428.60 362.93,428.63 363.24,428.69 363.55,428.76 363.86,428.86 364.17,428.98 364.48,429.11 364.79,429.26 365.11,429.43 365.42,429.61 365.73,429.81 366.04,430.01 366.35,430.23 366.66,430.47 366.97,430.71 367.28,430.95 367.59,431.21 367.90,431.47 368.21,431.76 368.52,432.11 368.83,432.51 369.14,432.96 369.45,433.44 369.76,433.97 370.07,434.54 370.38,435.14 370.69,435.77 371.01,436.42 371.32,437.10 371.63,437.80 371.94,438.51 372.25,439.23 372.56,439.97 372.87,440.70 373.18,441.44 373.49,442.18 373.80,442.91 374.11,443.66 374.42,444.47 374.73,445.32 375.04,446.20 375.35,447.11 375.66,448.04 375.97,448.98 376.28,449.91 376.59,450.84 376.91,451.75 377.22,452.64 377.53,453.50 377.84,454.36 378.15,455.24 378.46,456.14 378.77,457.03 379.08,457.91 379.39,458.77 379.70,459.58 380.01,460.34 380.32,461.04 380.63,461.66 380.94,462.20 381.25,462.75 381.56,463.30 381.87,463.80 382.18,464.24 382.49,464.58 382.81,464.78 383.12,464.73 383.43,463.30 383.74,460.51 384.05,456.86 384.36,452.83 384.67,448.90 384.98,445.46 385.29,441.72 385.60,437.65 385.91,433.52 386.22,429.58 386.53,426.11 386.84,423.36 387.15,421.57 387.46,420.14 387.77,418.81 388.08,417.63 388.39,416.63 388.71,415.88 389.02,415.41 389.33,415.27 389.64,415.32 389.95,415.45 390.26,415.64 390.57,415.90 390.88,416.21 391.19,416.58 391.50,416.99 391.81,417.45 392.12,417.94 392.43,418.54 392.74,419.54 393.05,420.91 393.36,422.58 393.67,424.49 393.98,426.59 394.29,428.81 394.61,431.08 394.92,433.35 395.23,435.56 395.54,437.88 395.85,440.43 396.16,443.14 396.47,445.96 396.78,448.85 397.09,451.76 397.40,454.63 397.71,457.42 398.02,460.07 398.33,462.60 398.64,465.24 398.95,467.94 399.26,470.64 399.57,473.27 399.88,475.77 400.19,478.06 400.51,480.08 400.82,481.78 401.13,483.08 401.44,484.21 401.75,485.27 402.06,486.13 402.37,486.65 402.68,486.64 402.99,485.40 403.30,483.03 403.61,479.88 403.92,476.28 404.23,472.56 404.54,468.89 404.85,464.28 405.16,458.85 405.47,453.04 405.78,447.28 406.09,441.98 406.41,437.57 406.72,434.41 407.03,431.69 407.34,429.10 407.65,426.68 407.96,424.45 408.27,422.44 408.58,420.70 408.89,419.23 409.20,418.09 409.51,417.29 409.82,416.74 410.13,416.23 410.44,415.75 410.75,415.30 411.06,414.89 411.37,414.51 411.68,414.16 411.99,413.85 412.31,413.58 412.62,413.36 412.93,413.17 413.24,413.03 413.55,412.94 413.86,412.89 414.17,412.89 414.48,412.91 414.79,412.95 415.10,413.01 415.41,413.08 415.72,413.17 416.03,413.28 416.34,413.39 416.65,413.53 416.96,413.67 417.27,413.83 417.58,414.00 417.89,414.18 418.21,414.37 418.52,414.57 418.83,414.78 419.14,414.99 419.45,415.21 419.76,415.46 420.07,415.78 420.38,416.18 420.69,416.64 421.00,417.17 421.31,417.76 421.62,418.42 421.93,419.14 422.24,419.91 422.55,420.74 422.86,421.61 423.17,422.54 423.48,423.51 423.79,424.52 424.11,425.58 424.42,426.67 424.73,427.80 425.04,428.95 425.35,430.14 425.66,431.36 425.97,432.59 426.28,433.87 426.59,435.33 426.90,437.00 427.21,438.85 427.52,440.86 427.83,443.02 428.14,445.30 428.45,447.67 428.76,450.12 429.07,452.61 429.38,455.14 429.69,457.68 430.01,460.21 430.32,462.70 430.63,465.13 430.94,467.54 431.25,469.99 431.56,472.46 431.87,474.98 432.18,477.55 432.49,480.18 432.80,482.88 433.11,485.65 433.42,488.51 433.73,491.71 434.04,495.82 434.35,500.15 434.66,503.92 434.97,506.31 435.28,506.42 435.59,503.03 435.91,497.00 436.22,489.59 436.53,482.05 436.84,475.64 437.15,470.26 437.46,464.74 437.77,459.22 438.08,453.83 438.39,448.71 438.70,444.00 439.01,439.85 439.32,436.38 439.63,433.57 439.94,430.91 440.25,428.37 440.56,425.98 440.87,423.79 441.18,421.84 441.49,420.16 441.81,418.79 442.12,417.76 442.43,417.12 442.74,416.64 443.05,416.20 443.36,415.77 443.67,415.38 443.98,415.01 444.29,414.67 444.60,414.35 444.91,414.07 445.22,413.81 445.53,413.59 445.84,413.39 446.15,413.23 446.46,413.09 446.77,412.99 447.08,412.93 447.39,412.89 447.71,412.89 448.02,412.89 448.33,412.89 448.64,412.89 448.95,412.90 449.26,412.90 449.57,412.91 449.88,412.91 450.19,412.92 450.50,412.93 450.81,412.94 451.12,412.95 451.43,412.96 451.74,412.97 452.05,412.98 452.36,412.99 452.67,413.01 452.98,413.02 453.29,413.03 453.61,413.05 453.92,413.06 454.23,413.08 454.54,413.10 454.85,413.11 455.16,413.13 455.47,413.15 455.78,413.17 456.09,413.19 456.40,413.21 456.71,413.23 457.02,413.25 457.33,413.27 457.64,413.29 457.95,413.32 458.26,413.34 458.57,413.36 458.88,413.39 459.19,413.42 459.51,413.45 459.82,413.49 460.13,413.54 460.44,413.58 460.75,413.64 461.06,413.69 461.37,413.75 461.68,413.82 461.99,413.88 462.30,413.96 462.61,414.03 462.92,414.11 463.23,414.19 463.54,414.27 463.85,414.36 464.16,414.44 464.47,414.53 464.78,414.63 465.09,414.72 465.41,414.82 465.72,414.92 466.03,415.02 466.34,415.12 466.65,415.22 466.96,415.32 467.27,415.43 467.58,415.53 467.89,415.64 468.20,415.75" fill="none" stroke="#ff5a5a" stroke-width="1.1" stroke-linejoin="round" stroke-linecap="round"/>
<polyline points="344.30,424.80 344.61,425.84 344.92,426.91 345.23,427.84 345.54,428.45 345.85,428.61 346.16,428.61 346.47,428.59 346.78,428.58 347.09,428.55 347.41,428.52 347.72,428.49 348.03,428.46 348.34,428.42 348.65,428.38 348.96,428.35 349.27,428.31 349.58,428.27 349.89,428.24 350.20,428.21 350.51,428.18 350.82,428.16 351.13,428.15 351.44,428.14 351.75,428.14 352.06,428.14 352.37,428.14 352.68,428.14 352.99,428.15 353.31,428.16 353.62,428.17 353.93,428.18 354.24,428.19 354.55,428.20 354.86,428.22 355.17,428.24 355.48,428.25 355.79,428.27 356.10,428.29 356.41,428.32 356.72,428.34 357.03,428.37 357.34,428.39 357.65,428.42 357.96,428.45 358.27,428.48 358.58,428.52 358.89,428.55 359.21,428.59 359.52,428.62 359.83,428.66 360.14,428.70 360.45,428.74 360.76,428.79 361.07,428.83 361.38,428.87 361.69,428.92 362.00,428.97 362.31,429.02 362.62,429.07 362.93,429.13 363.24,429.20 363.55,429.30 363.86,429.42 364.17,429.56 364.48,429.72 364.79,429.90 365.11,430.09 365.42,430.30 365.73,430.53 366.04,430.76 366.35,431.01 366.66,431.28 366.97,431.55 367.28,431.83 367.59,432.13 367.90,432.43 368.21,432.76 368.52,433.15 368.83,433.60 369.14,434.09 369.45,434.63 369.76,435.22 370.07,435.84 370.38,436.50 370.69,437.18 371.01,437.90 371.32,438.63 371.63,439.38 371.94,440.15 372.25,440.93 372.56,441.71 372.87,442.49 373.18,443.27 373.49,444.05 373.80,444.81 374.11,445.60 374.42,446.42 374.73,447.28 375.04,448.17 375.35,449.07 375.66,449.99 375.97,450.92 376.28,451.85 376.59,452.77 376.91,453.67 377.22,454.55 377.53,455.40 377.84,456.26 378.15,457.14 378.46,458.02 378.77,458.90 379.08,459.76 379.39,460.58 379.70,461.35 380.01,462.06 380.32,462.70 380.63,463.28 380.94,463.89 381.25,464.48 381.56,465.01 381.87,465.44 382.18,465.71 382.49,465.73 382.81,464.33 383.12,461.43 383.43,457.61 383.74,453.44 384.05,449.51 384.36,445.86 384.67,441.68 384.98,437.22 385.29,432.77 385.60,428.65 385.91,425.15 386.22,422.60 386.53,421.02 386.84,419.61 387.15,418.32 387.46,417.21 387.77,416.31 388.08,415.66 388.39,415.32 388.71,415.28 389.02,415.36 389.33,415.51 389.64,415.73 389.95,416.01 390.26,416.34 390.57,416.73 390.88,417.16 391.19,417.63 391.50,418.13 391.81,418.87 392.12,420.01 392.43,421.50 392.74,423.27 393.05,425.26 393.36,427.41 393.67,429.65 393.98,431.93 394.29,434.19 394.61,436.40 394.92,438.80 395.23,441.40 395.54,444.14 395.85,446.98 396.16,449.87 396.47,452.76 396.78,455.62 397.09,458.38 397.40,461.02 397.71,463.66 398.02,466.45 398.33,469.31 398.64,472.14 398.95,474.89 399.26,477.45 399.57,479.76 399.88,481.73 400.19,483.29 400.51,484.42 400.82,485.46 401.13,486.39 401.44,487.13 401.75,487.59 402.06,487.62 402.37,486.20 402.68,483.35 402.99,479.59 403.30,475.39 403.61,471.27 403.92,467.08 404.23,461.99 404.54,456.37 404.85,450.59 405.16,445.05 405.47,440.14 405.78,436.23 406.09,433.38 406.41,430.74 406.72,428.25 407.03,425.94 407.34,423.84 407.65,421.96 407.96,420.32 408.27,418.94 408.58,417.84 408.89,417.05 409.20,416.37 409.51,415.73 409.82,415.14 410.13,414.59 410.44,414.11 410.75,413.70 411.06,413.36 411.37,413.10 411.68,412.95 411.99,412.89 412.31,412.90 412.62,412.93 412.93,412.99 413.24,413.06 413.55,413.15 413.86,413.26 414.17,413.38 414.48,413.52 414.79,413.68 415.10,413.84 415.41,414.02 415.72,414.21 416.03,414.40 416.34,414.60 416.65,414.81 416.96,415.03 417.27,415.24 417.58,415.48 417.89,415.76 418.21,416.09 418.52,416.46 418.83,416.87 419.14,417.32 419.45,417.80 419.76,418.32 420.07,418.87 420.38,419.45 420.69,420.05 421.00,420.69 421.31,421.35 421.62,422.03 421.93,422.73 422.24,423.45 422.55,424.19 422.86,424.94 423.17,425.71 423.48,426.48 423.79,427.27 424.11,428.06 424.42,428.91 424.73,429.83 425.04,430.82 425.35,431.91 425.66,433.10 425.97,434.40 426.28,435.84 426.59,437.49 426.90,439.34 427.21,441.39 427.52,443.62 427.83,446.02 428.14,448.58 428.45,451.28 428.76,454.11 429.07,457.05 429.38,460.10 429.69,463.23 430.01,466.50 430.32,470.21 430.63,474.30 430.94,478.65 431.25,483.14 431.56,487.66 431.87,492.43 432.18,498.46 432.49,504.38 432.80,508.57 433.11,509.41 433.42,505.80 433.73,498.96 434.04,490.48 434.35,481.94 434.66,474.94 434.97,468.91 435.28,462.77 435.59,456.69 435.91,450.88 436.22,445.53 436.53,440.82 436.84,436.95 437.15,434.00 437.46,431.31 437.77,428.76 438.08,426.39 438.39,424.22 438.70,422.27 439.01,420.58 439.32,419.17 439.63,418.08 439.94,417.32 440.25,416.84 440.56,416.39 440.87,415.97 441.18,415.57 441.49,415.20 441.81,414.85 442.12,414.53 442.43,414.24 442.74,413.97 443.05,413.73 443.36,413.52 443.67,413.34 443.98,413.19 444.29,413.07 444.60,412.98 444.91,412.92 445.22,412.89 445.53,412.89 445.84,412.89 446.15,412.89 446.46,412.89 446.77,412.89 447.08,412.90 447.39,412.90 447.71,412.91 448.02,412.91 448.33,412.92 448.64,412.92 448.95,412.93 449.26,412.94 449.57,412.94 449.88,412.95 450.19,412.96 450.50,412.97 450.81,412.98 451.12,412.99 451.43,413.00 451.74,413.01 452.05,413.02 452.36,413.03 452.67,413.05 452.98,413.06 453.29,413.07 453.61,413.09 453.92,413.10 454.23,413.11 454.54,413.13 454.85,413.15 455.16,413.16 455.47,413.18 455.78,413.19 456.09,413.21 456.40,413.23 456.71,413.25 457.02,413.27 457.33,413.28 457.64,413.30 457.95,413.32 458.26,413.34 458.57,413.36 458.88,413.38 459.19,413.41 459.51,413.45 459.82,413.48 460.13,413.53 460.44,413.57 460.75,413.63 461.06,413.68 461.37,413.74 461.68,413.81 461.99,413.88 462.30,413.95 462.61,414.02 462.92,414.10 463.23,414.18 463.54,414.27 463.85,414.35 464.16,414.44 464.47,414.54 464.78,414.63 465.09,414.72 465.41,414.82 465.72,414.92 466.03,415.02 466.34,415.12 466.65,415.23 466.96,415.33 467.27,415.43 467.58,415.54 467.89,415.64 468.20,415.75" fill="none" stroke="#2f8ff0" stroke-width="1.1" stroke-linejoin="round" stroke-linecap="round"/>
<text x="457.0" y="456.1" font-size="7.0" fill="#222" text-anchor="start" font-family="'Liberation Sans', Arial, sans-serif" stroke="#222" stroke-width="0.16">Pressure</text>
<line x1="457.0" y1="463.6" x2="474.6" y2="463.6" stroke="#6e6e6e" stroke-width="1.0"/>
<text x="477.0" y="466.1" font-size="7.0" fill="#222" text-anchor="start" font-family="'Liberation Sans', Arial, sans-serif" stroke="#222" stroke-width="0.16">0Pa</text>
<line x1="457.0" y1="473.6" x2="474.6" y2="473.6" stroke="#ff5a5a" stroke-width="1.0"/>
<text x="477.0" y="476.1" font-size="7.0" fill="#222" text-anchor="start" font-family="'Liberation Sans', Arial, sans-serif" stroke="#222" stroke-width="0.16">3375Pa</text>
<line x1="457.0" y1="483.6" x2="474.6" y2="483.6" stroke="#2f8ff0" stroke-width="1.0"/>
<text x="477.0" y="486.1" font-size="7.0" fill="#222" text-anchor="start" font-family="'Liberation Sans', Arial, sans-serif" stroke="#222" stroke-width="0.16">6075Pa</text>
<text x="354.0" y="496.4" font-size="7.8" fill="#f6b04c" text-anchor="start" font-family="'Liberation Sans', Arial, sans-serif" font-weight="bold">Intrinsic</text>
<text x="354.0" y="506.4" font-size="7.8" fill="#f6b04c" text-anchor="start" font-family="'Liberation Sans', Arial, sans-serif" font-weight="bold">resonance</text>
<text x="354.0" y="516.0" font-size="7.8" fill="#f6b04c" text-anchor="start" font-family="'Liberation Sans', Arial, sans-serif" font-weight="bold">frequency</text>
<line x1="379.0" y1="461.0" x2="374.0" y2="489.0" stroke="#f6b04c" stroke-width="0.8" stroke-dasharray="1.2,1.2"/>
<text x="219.4" y="433.6" font-size="10.0" fill="#111" text-anchor="start" font-family="'Liberation Sans', Arial, sans-serif" font-weight="bold" stroke="#111" stroke-width="0.2">Sensing</text>
<text x="219.4" y="445.0" font-size="10.0" fill="#111" text-anchor="start" font-family="'Liberation Sans', Arial, sans-serif" font-weight="bold" stroke="#111" stroke-width="0.2">unit 2</text>
<text x="219.4" y="483.0" font-size="10.0" fill="#1a7fd6" text-anchor="start" font-family="'Liberation Sans', Arial, sans-serif" font-weight="bold" stroke="#1a7fd6" stroke-width="0.2">Sensing</text>
<text x="219.4" y="494.4" font-size="10.0" fill="#1a7fd6" text-anchor="start" font-family="'Liberation Sans', Arial, sans-serif" font-weight="bold" stroke="#1a7fd6" stroke-width="0.2">unit 1</text>
<line x1="93.5" y1="458.0" x2="214.0" y2="435.6" stroke="#333" stroke-width="0.9" stroke-dasharray="2,1.6"/>
<line x1="269.0" y1="435.6" x2="435.0" y2="465.0" stroke="#333" stroke-width="0.9" stroke-dasharray="2,1.6"/>
<line x1="82.0" y1="485.0" x2="215.0" y2="485.0" stroke="#1e9be0" stroke-width="1.0" stroke-dasharray="1.8,1.4"/>
<line x1="269.0" y1="485.0" x2="395.0" y2="472.0" stroke="#1e9be0" stroke-width="1.0" stroke-dasharray="1.8,1.4"/>
</svg></body></html>
